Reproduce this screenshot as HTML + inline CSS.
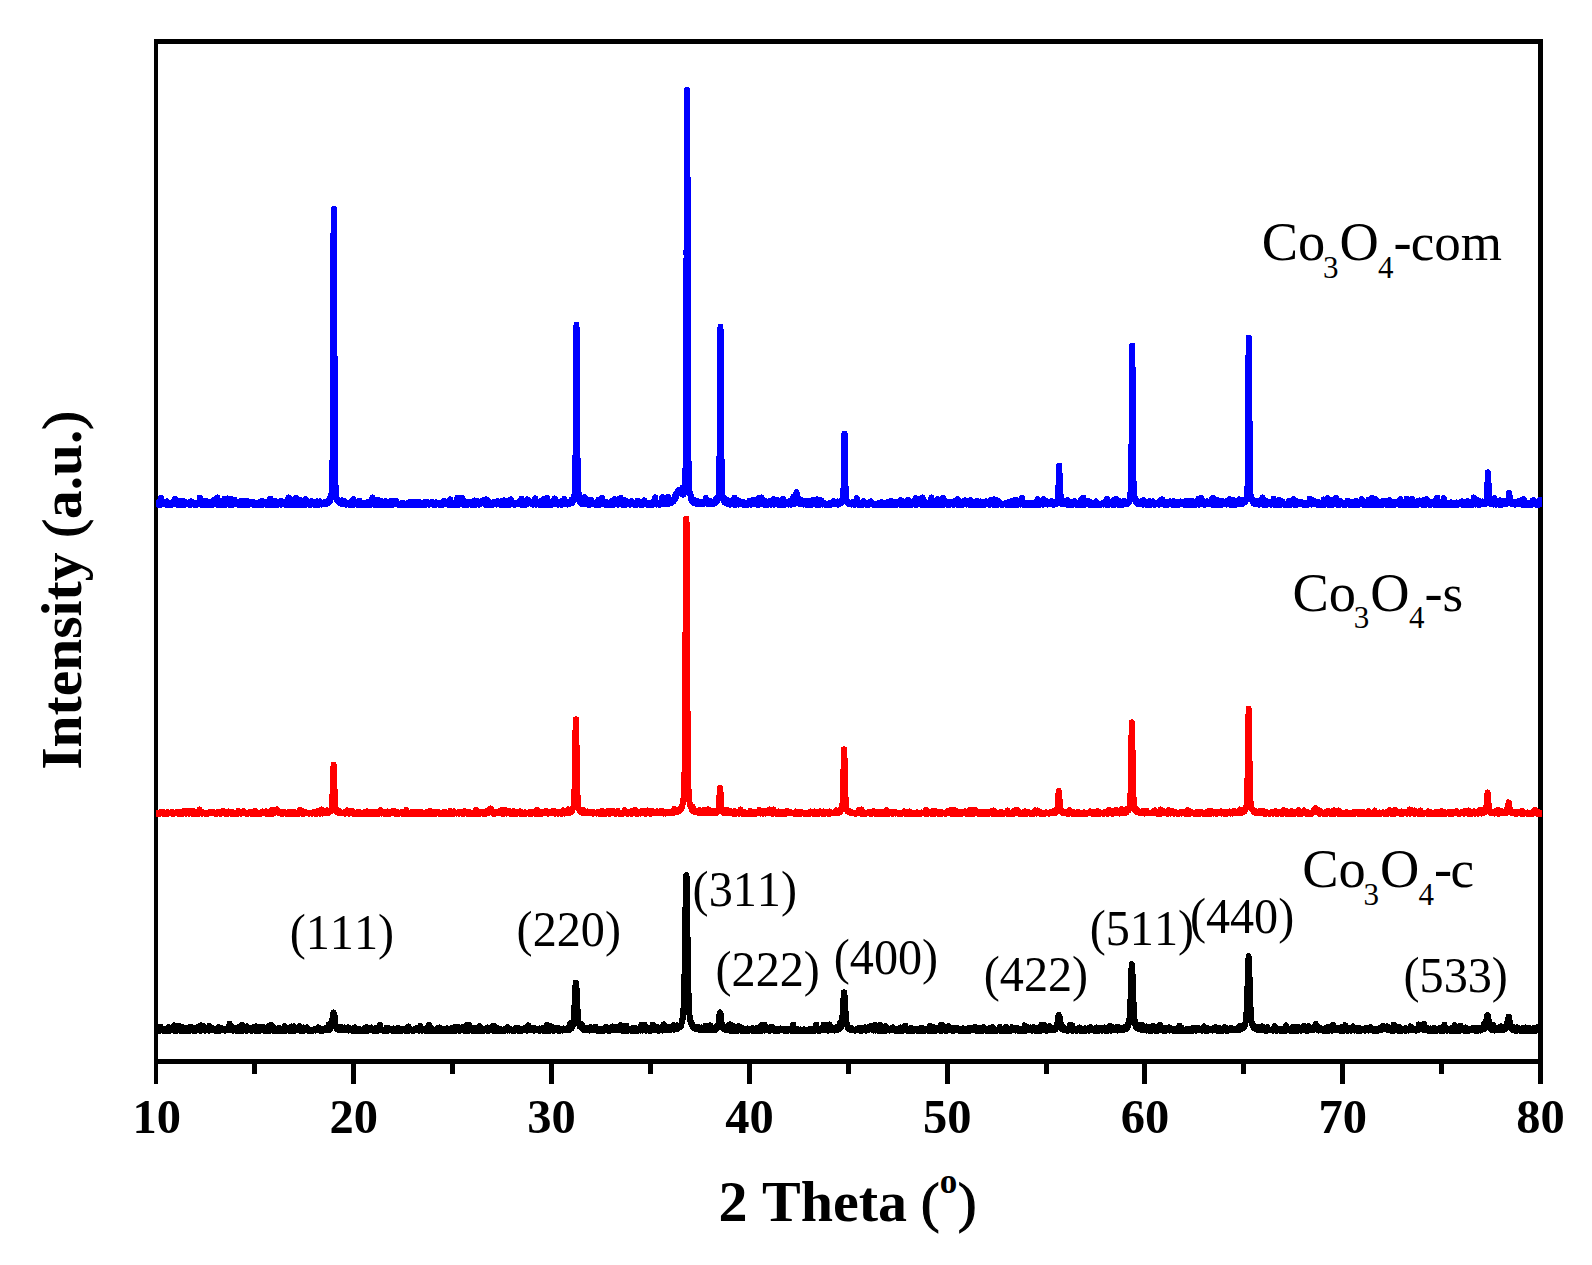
<!DOCTYPE html>
<html><head><meta charset="utf-8"><title>XRD</title><style>html,body{margin:0;padding:0;background:#fff}text{font-kerning:none}svg{display:block}</style></head><body>
<svg width="1592" height="1265" viewBox="0 0 1592 1265">
<rect width="1592" height="1265" fill="#fff"/>
<g fill="#000" shape-rendering="crispEdges">
<rect x="154" y="39" width="1389" height="5"/>
<rect x="154" y="1059" width="1389" height="5"/>
<rect x="154" y="39" width="4" height="1045"/>
<rect x="1538" y="39" width="5" height="1045"/>
<rect x="252" y="1064" width="5" height="10"/>
<rect x="351" y="1064" width="5" height="20"/>
<rect x="450" y="1064" width="5" height="10"/>
<rect x="549" y="1064" width="5" height="20"/>
<rect x="648" y="1064" width="5" height="10"/>
<rect x="747" y="1064" width="5" height="20"/>
<rect x="846" y="1064" width="5" height="10"/>
<rect x="945" y="1064" width="5" height="20"/>
<rect x="1044" y="1064" width="5" height="10"/>
<rect x="1142" y="1064" width="5" height="20"/>
<rect x="1241" y="1064" width="5" height="10"/>
<rect x="1340" y="1064" width="5" height="20"/>
<rect x="1439" y="1064" width="5" height="10"/>
</g>
<clipPath id="cp"><rect x="156" y="44" width="1386" height="1015"/></clipPath><g clip-path="url(#cp)">
<path d="M156.0,1030.8 156.4,1030.4 156.8,1029.1 157.2,1028.1 157.6,1030.5 158.0,1030.6 158.4,1030.4 158.8,1030.8 159.2,1029.6 159.6,1030.8 160.0,1030.3 160.4,1026.7 160.7,1030.6 161.1,1029.3 161.5,1030.3 161.9,1028.4 162.3,1029.8 162.7,1029.0 163.1,1030.5 163.5,1030.7 163.9,1030.9 164.3,1029.4 164.7,1029.8 165.1,1029.4 165.5,1030.1 165.9,1030.2 166.3,1030.2 166.7,1030.2 167.1,1030.8 167.5,1028.2 167.9,1029.1 168.3,1030.8 168.7,1029.1 169.1,1027.1 169.5,1030.6 169.8,1029.9 170.2,1030.7 170.6,1029.4 171.0,1028.2 171.4,1029.8 171.8,1029.2 172.2,1029.5 172.6,1030.0 173.0,1028.7 173.4,1030.4 173.8,1028.3 174.2,1025.3 174.6,1030.7 175.0,1027.9 175.4,1030.0 175.8,1030.3 176.2,1030.6 176.6,1027.0 177.0,1030.7 177.4,1029.1 177.8,1030.1 178.2,1027.8 178.5,1029.5 178.9,1025.6 179.3,1030.6 179.7,1030.7 180.1,1028.6 180.5,1030.3 180.9,1027.5 181.3,1029.5 181.7,1030.2 182.1,1026.7 182.5,1030.8 182.9,1029.5 183.3,1029.9 183.7,1030.8 184.1,1030.7 184.5,1030.7 184.9,1030.5 185.3,1030.5 185.7,1030.5 186.1,1030.2 186.5,1030.7 186.9,1027.9 187.3,1029.6 187.6,1028.8 188.0,1028.4 188.4,1030.8 188.8,1029.7 189.2,1029.7 189.6,1030.8 190.0,1026.7 190.4,1030.7 190.8,1029.7 191.2,1027.0 191.6,1030.4 192.0,1030.2 192.4,1028.9 192.8,1030.7 193.2,1030.0 193.6,1030.2 194.0,1029.1 194.4,1029.5 194.8,1029.9 195.2,1029.6 195.6,1030.8 196.0,1028.3 196.4,1030.1 196.7,1027.4 197.1,1029.5 197.5,1027.8 197.9,1027.2 198.3,1029.4 198.7,1030.3 199.1,1030.4 199.5,1030.2 199.9,1030.7 200.3,1028.3 200.7,1025.6 201.1,1030.7 201.5,1025.2 201.9,1029.5 202.3,1029.7 202.7,1028.8 203.1,1025.8 203.5,1029.4 203.9,1030.3 204.3,1029.9 204.7,1029.4 205.1,1029.1 205.4,1030.7 205.8,1030.5 206.2,1028.4 206.6,1030.1 207.0,1030.5 207.4,1030.4 207.8,1029.7 208.2,1028.9 208.6,1030.7 209.0,1030.6 209.4,1026.0 209.8,1030.1 210.2,1029.3 210.6,1030.0 211.0,1030.3 211.4,1027.6 211.8,1030.5 212.2,1030.5 212.6,1030.3 213.0,1029.0 213.4,1029.6 213.8,1028.8 214.2,1029.5 214.5,1030.7 214.9,1030.8 215.3,1028.6 215.7,1030.4 216.1,1029.3 216.5,1029.5 216.9,1030.6 217.3,1029.3 217.7,1030.5 218.1,1028.4 218.5,1027.2 218.9,1029.3 219.3,1030.8 219.7,1030.7 220.1,1029.9 220.5,1029.6 220.9,1030.1 221.3,1029.2 221.7,1028.2 222.1,1030.3 222.5,1029.3 222.9,1030.4 223.3,1029.5 223.6,1029.1 224.0,1029.7 224.4,1030.2 224.8,1029.9 225.2,1030.7 225.6,1028.7 226.0,1028.6 226.4,1029.9 226.8,1029.1 227.2,1030.5 227.6,1029.7 228.0,1027.1 228.4,1028.2 228.8,1027.5 229.2,1025.7 229.6,1023.7 230.0,1026.1 230.4,1028.2 230.8,1029.9 231.2,1029.2 231.6,1030.1 232.0,1026.4 232.4,1029.7 232.7,1028.1 233.1,1029.1 233.5,1030.7 233.9,1028.6 234.3,1028.7 234.7,1028.1 235.1,1029.4 235.5,1028.2 235.9,1029.8 236.3,1030.0 236.7,1030.7 237.1,1029.0 237.5,1028.3 237.9,1028.6 238.3,1030.5 238.7,1030.8 239.1,1027.1 239.5,1029.6 239.9,1029.5 240.3,1029.6 240.7,1029.8 241.1,1030.8 241.4,1028.6 241.8,1029.1 242.2,1024.6 242.6,1030.9 243.0,1029.2 243.4,1030.6 243.8,1030.2 244.2,1030.0 244.6,1030.3 245.0,1028.3 245.4,1029.7 245.8,1029.6 246.2,1030.6 246.6,1029.7 247.0,1026.3 247.4,1028.0 247.8,1030.6 248.2,1030.2 248.6,1028.4 249.0,1030.5 249.4,1030.3 249.8,1030.0 250.2,1030.2 250.5,1030.5 250.9,1027.9 251.3,1030.2 251.7,1029.4 252.1,1030.7 252.5,1027.6 252.9,1027.2 253.3,1028.6 253.7,1030.0 254.1,1030.2 254.5,1027.8 254.9,1030.5 255.3,1030.8 255.7,1030.9 256.1,1027.1 256.5,1026.4 256.9,1030.6 257.3,1030.5 257.7,1030.8 258.1,1029.1 258.5,1029.7 258.9,1027.2 259.3,1030.6 259.6,1030.5 260.0,1030.1 260.4,1029.4 260.8,1030.6 261.2,1026.8 261.6,1030.3 262.0,1029.3 262.4,1030.0 262.8,1030.2 263.2,1028.7 263.6,1029.5 264.0,1027.0 264.4,1030.8 264.8,1029.2 265.2,1030.1 265.6,1030.7 266.0,1030.4 266.4,1028.9 266.8,1029.4 267.2,1030.4 267.6,1029.8 268.0,1029.3 268.4,1030.4 268.7,1026.2 269.1,1030.9 269.5,1030.4 269.9,1029.4 270.3,1029.7 270.7,1029.9 271.1,1024.9 271.5,1029.3 271.9,1026.5 272.3,1029.3 272.7,1030.3 273.1,1030.7 273.5,1026.9 273.9,1029.9 274.3,1029.8 274.7,1030.4 275.1,1030.8 275.5,1030.0 275.9,1029.9 276.3,1030.4 276.7,1030.8 277.1,1029.2 277.4,1030.5 277.8,1028.2 278.2,1030.8 278.6,1029.3 279.0,1030.8 279.4,1028.0 279.8,1030.9 280.2,1030.4 280.6,1029.5 281.0,1030.4 281.4,1028.9 281.8,1030.8 282.2,1030.3 282.6,1029.3 283.0,1030.9 283.4,1030.2 283.8,1030.5 284.2,1030.5 284.6,1030.2 285.0,1026.1 285.4,1030.7 285.8,1030.2 286.2,1030.2 286.5,1030.4 286.9,1027.6 287.3,1030.1 287.7,1029.8 288.1,1030.0 288.5,1030.2 288.9,1030.0 289.3,1030.9 289.7,1030.2 290.1,1030.2 290.5,1030.7 290.9,1030.0 291.3,1030.7 291.7,1026.4 292.1,1029.9 292.5,1030.8 292.9,1030.7 293.3,1030.3 293.7,1029.7 294.1,1026.3 294.5,1027.7 294.9,1029.2 295.3,1030.7 295.6,1030.0 296.0,1029.7 296.4,1030.0 296.8,1029.2 297.2,1030.1 297.6,1028.0 298.0,1029.7 298.4,1030.1 298.8,1028.9 299.2,1030.4 299.6,1026.2 300.0,1030.6 300.4,1030.7 300.8,1029.8 301.2,1029.2 301.6,1030.3 302.0,1030.4 302.4,1027.8 302.8,1030.9 303.2,1030.7 303.6,1027.5 304.0,1028.1 304.3,1030.1 304.7,1030.5 305.1,1029.6 305.5,1029.1 305.9,1030.4 306.3,1029.2 306.7,1030.0 307.1,1027.4 307.5,1030.4 307.9,1030.8 308.3,1030.7 308.7,1030.5 309.1,1030.0 309.5,1030.2 309.9,1030.1 310.3,1030.5 310.7,1030.8 311.1,1030.5 311.5,1029.6 311.9,1030.6 312.3,1030.2 312.7,1030.4 313.1,1030.5 313.4,1029.8 313.8,1030.4 314.2,1029.9 314.6,1029.0 315.0,1029.3 315.4,1030.5 315.8,1030.2 316.2,1030.0 316.6,1028.4 317.0,1029.4 317.4,1028.6 317.8,1029.2 318.2,1027.4 318.6,1030.0 319.0,1030.0 319.4,1030.7 319.8,1030.7 320.2,1030.8 320.6,1030.7 321.0,1029.1 321.4,1030.6 321.8,1030.2 322.2,1029.8 322.5,1030.3 322.9,1030.7 323.3,1030.1 323.7,1028.9 324.1,1030.0 324.5,1029.9 324.9,1029.3 325.3,1029.0 325.7,1027.7 326.1,1030.5 326.5,1029.9 326.9,1029.7 327.3,1029.7 327.7,1028.7 328.1,1028.6 328.5,1028.4 328.9,1024.4 329.3,1030.0 329.7,1029.3 330.1,1029.6 330.5,1028.4 330.9,1024.3 331.3,1026.8 331.6,1025.7 332.0,1023.5 332.4,1018.9 332.8,1016.3 333.2,1013.5 333.6,1012.4 334.0,1013.5 334.4,1016.3 334.8,1016.5 335.2,1023.7 335.6,1025.3 336.0,1026.6 336.4,1027.0 336.8,1026.4 337.2,1029.6 337.6,1029.4 338.0,1029.7 338.4,1029.8 338.8,1029.8 339.2,1030.4 339.6,1030.2 340.0,1029.1 340.3,1030.3 340.7,1028.3 341.1,1026.6 341.5,1030.0 341.9,1030.2 342.3,1027.7 342.7,1030.2 343.1,1029.4 343.5,1030.3 343.9,1029.4 344.3,1027.9 344.7,1027.5 345.1,1028.7 345.5,1029.1 345.9,1029.6 346.3,1030.4 346.7,1030.4 347.1,1030.3 347.5,1030.2 347.9,1028.2 348.3,1030.6 348.7,1027.3 349.1,1030.5 349.4,1029.9 349.8,1028.7 350.2,1028.9 350.6,1030.4 351.0,1029.8 351.4,1029.0 351.8,1029.9 352.2,1029.1 352.6,1030.8 353.0,1030.6 353.4,1030.7 353.8,1030.8 354.2,1029.1 354.6,1027.3 355.0,1029.1 355.4,1030.6 355.8,1030.4 356.2,1028.8 356.6,1029.6 357.0,1030.8 357.4,1029.8 357.8,1028.8 358.2,1030.7 358.5,1029.9 358.9,1030.3 359.3,1030.6 359.7,1029.1 360.1,1030.2 360.5,1030.4 360.9,1030.7 361.3,1030.4 361.7,1030.9 362.1,1030.3 362.5,1030.3 362.9,1030.9 363.3,1029.4 363.7,1030.5 364.1,1030.9 364.5,1028.5 364.9,1029.6 365.3,1027.8 365.7,1028.6 366.1,1030.3 366.5,1030.9 366.9,1027.0 367.3,1030.7 367.6,1030.9 368.0,1029.3 368.4,1030.7 368.8,1029.1 369.2,1030.0 369.6,1029.8 370.0,1028.2 370.4,1028.8 370.8,1030.0 371.2,1027.4 371.6,1028.7 372.0,1030.6 372.4,1030.6 372.8,1030.2 373.2,1029.8 373.6,1030.8 374.0,1030.1 374.4,1030.2 374.8,1030.0 375.2,1030.5 375.6,1030.7 376.0,1027.9 376.3,1029.1 376.7,1029.7 377.1,1029.0 377.5,1030.3 377.9,1030.8 378.3,1029.2 378.7,1030.6 379.1,1030.5 379.5,1030.0 379.9,1024.6 380.3,1030.5 380.7,1030.0 381.1,1028.2 381.5,1029.2 381.9,1030.4 382.3,1030.6 382.7,1029.5 383.1,1030.8 383.5,1030.3 383.9,1030.7 384.3,1030.3 384.7,1030.3 385.1,1030.6 385.4,1030.8 385.8,1029.4 386.2,1028.6 386.6,1027.6 387.0,1030.5 387.4,1029.0 387.8,1030.6 388.2,1030.7 388.6,1028.3 389.0,1028.9 389.4,1029.1 389.8,1030.2 390.2,1029.4 390.6,1028.9 391.0,1029.0 391.4,1030.2 391.8,1030.6 392.2,1029.6 392.6,1030.7 393.0,1030.3 393.4,1030.5 393.8,1028.5 394.2,1030.9 394.5,1030.9 394.9,1030.0 395.3,1030.2 395.7,1030.0 396.1,1029.8 396.5,1029.4 396.9,1030.0 397.3,1030.8 397.7,1028.9 398.1,1028.1 398.5,1029.0 398.9,1028.1 399.3,1029.9 399.7,1030.9 400.1,1030.2 400.5,1030.5 400.9,1028.8 401.3,1030.4 401.7,1029.5 402.1,1030.8 402.5,1029.9 402.9,1030.3 403.2,1029.7 403.6,1030.4 404.0,1030.3 404.4,1029.2 404.8,1030.5 405.2,1030.9 405.6,1029.7 406.0,1029.2 406.4,1028.2 406.8,1028.7 407.2,1030.8 407.6,1030.7 408.0,1030.9 408.4,1026.5 408.8,1030.5 409.2,1030.5 409.6,1030.0 410.0,1028.8 410.4,1029.7 410.8,1030.4 411.2,1030.4 411.6,1030.6 412.0,1030.5 412.3,1030.0 412.7,1030.7 413.1,1030.4 413.5,1030.5 413.9,1029.6 414.3,1030.8 414.7,1029.7 415.1,1030.0 415.5,1028.8 415.9,1029.3 416.3,1028.1 416.7,1030.4 417.1,1030.4 417.5,1029.3 417.9,1030.3 418.3,1030.4 418.7,1030.7 419.1,1030.8 419.5,1029.4 419.9,1029.5 420.3,1026.0 420.7,1030.2 421.1,1027.7 421.4,1029.3 421.8,1030.2 422.2,1030.8 422.6,1030.5 423.0,1029.1 423.4,1030.4 423.8,1030.1 424.2,1030.3 424.6,1030.5 425.0,1030.6 425.4,1030.6 425.8,1028.5 426.2,1030.4 426.6,1030.7 427.0,1030.9 427.4,1030.2 427.8,1029.4 428.2,1029.8 428.6,1030.3 429.0,1024.6 429.4,1026.7 429.8,1030.7 430.2,1030.4 430.5,1030.8 430.9,1030.6 431.3,1028.1 431.7,1030.8 432.1,1029.9 432.5,1030.0 432.9,1030.3 433.3,1030.3 433.7,1030.2 434.1,1030.6 434.5,1029.9 434.9,1030.1 435.3,1030.5 435.7,1030.4 436.1,1030.8 436.5,1030.6 436.9,1030.8 437.3,1028.2 437.7,1030.3 438.1,1028.5 438.5,1030.6 438.9,1029.0 439.2,1029.5 439.6,1027.5 440.0,1030.8 440.4,1028.1 440.8,1030.5 441.2,1030.3 441.6,1030.3 442.0,1030.7 442.4,1029.8 442.8,1030.3 443.2,1029.0 443.6,1030.8 444.0,1030.2 444.4,1030.5 444.8,1030.8 445.2,1030.0 445.6,1030.4 446.0,1030.8 446.4,1029.3 446.8,1029.2 447.2,1028.3 447.6,1030.5 448.0,1030.4 448.3,1029.6 448.7,1029.4 449.1,1030.8 449.5,1030.6 449.9,1030.5 450.3,1029.8 450.7,1030.2 451.1,1030.2 451.5,1030.7 451.9,1027.9 452.3,1029.8 452.7,1030.0 453.1,1029.6 453.5,1030.9 453.9,1029.3 454.3,1028.5 454.7,1026.7 455.1,1028.7 455.5,1030.8 455.9,1029.5 456.3,1030.5 456.7,1030.3 457.1,1029.3 457.4,1030.4 457.8,1029.7 458.2,1030.5 458.6,1027.0 459.0,1028.3 459.4,1029.4 459.8,1029.2 460.2,1030.6 460.6,1030.0 461.0,1028.8 461.4,1030.0 461.8,1029.8 462.2,1028.1 462.6,1030.4 463.0,1030.4 463.4,1026.6 463.8,1030.5 464.2,1029.2 464.6,1030.8 465.0,1029.9 465.4,1030.6 465.8,1030.8 466.2,1028.9 466.5,1029.2 466.9,1028.8 467.3,1024.6 467.7,1030.5 468.1,1030.8 468.5,1025.7 468.9,1024.8 469.3,1029.1 469.7,1030.6 470.1,1029.5 470.5,1028.6 470.9,1030.2 471.3,1029.9 471.7,1029.0 472.1,1030.6 472.5,1030.4 472.9,1027.7 473.3,1028.2 473.7,1030.9 474.1,1030.0 474.5,1030.8 474.9,1030.0 475.2,1029.0 475.6,1027.9 476.0,1030.1 476.4,1028.8 476.8,1030.9 477.2,1029.5 477.6,1027.4 478.0,1030.2 478.4,1028.5 478.8,1029.8 479.2,1030.3 479.6,1030.7 480.0,1026.1 480.4,1030.9 480.8,1030.6 481.2,1030.6 481.6,1030.4 482.0,1030.8 482.4,1029.4 482.8,1030.5 483.2,1030.6 483.6,1029.6 484.0,1029.4 484.3,1030.5 484.7,1030.1 485.1,1029.5 485.5,1030.0 485.9,1030.0 486.3,1029.8 486.7,1030.4 487.1,1028.8 487.5,1027.5 487.9,1030.2 488.3,1030.7 488.7,1029.1 489.1,1029.7 489.5,1028.3 489.9,1030.5 490.3,1029.9 490.7,1027.5 491.1,1029.8 491.5,1029.5 491.9,1026.3 492.3,1030.4 492.7,1029.9 493.1,1030.0 493.4,1030.8 493.8,1028.5 494.2,1029.8 494.6,1029.6 495.0,1026.0 495.4,1029.4 495.8,1028.4 496.2,1030.7 496.6,1028.7 497.0,1027.6 497.4,1029.7 497.8,1030.5 498.2,1028.2 498.6,1030.2 499.0,1030.6 499.4,1030.1 499.8,1030.7 500.2,1030.5 500.6,1030.8 501.0,1029.6 501.4,1029.6 501.8,1029.4 502.1,1029.4 502.5,1030.5 502.9,1029.8 503.3,1030.8 503.7,1029.3 504.1,1030.4 504.5,1030.7 504.9,1030.2 505.3,1030.4 505.7,1029.9 506.1,1029.0 506.5,1029.8 506.9,1029.9 507.3,1027.1 507.7,1030.5 508.1,1028.2 508.5,1030.1 508.9,1028.8 509.3,1029.6 509.7,1030.6 510.1,1030.4 510.5,1029.8 510.9,1030.4 511.2,1029.4 511.6,1030.5 512.0,1030.0 512.4,1030.8 512.8,1030.8 513.2,1030.6 513.6,1030.8 514.0,1029.4 514.4,1030.3 514.8,1030.0 515.2,1028.9 515.6,1030.7 516.0,1028.0 516.4,1028.6 516.8,1028.7 517.2,1029.2 517.6,1030.7 518.0,1029.9 518.4,1029.8 518.8,1028.2 519.2,1030.8 519.6,1029.9 520.0,1029.0 520.3,1029.6 520.7,1030.7 521.1,1030.3 521.5,1030.8 521.9,1029.4 522.3,1030.8 522.7,1029.9 523.1,1030.4 523.5,1030.0 523.9,1028.4 524.3,1030.3 524.7,1030.1 525.1,1029.6 525.5,1029.5 525.9,1028.5 526.3,1030.6 526.7,1027.8 527.1,1030.4 527.5,1030.6 527.9,1030.2 528.3,1025.2 528.7,1030.2 529.1,1028.9 529.4,1030.3 529.8,1029.1 530.2,1029.6 530.6,1027.7 531.0,1029.2 531.4,1028.8 531.8,1029.6 532.2,1028.7 532.6,1029.2 533.0,1028.3 533.4,1030.4 533.8,1030.6 534.2,1029.9 534.6,1030.4 535.0,1028.4 535.4,1029.3 535.8,1030.3 536.2,1029.2 536.6,1030.3 537.0,1030.4 537.4,1029.5 537.8,1028.8 538.1,1029.9 538.5,1030.6 538.9,1029.2 539.3,1030.5 539.7,1028.5 540.1,1030.6 540.5,1028.7 540.9,1030.2 541.3,1030.2 541.7,1029.9 542.1,1029.9 542.5,1028.6 542.9,1030.5 543.3,1027.7 543.7,1029.8 544.1,1030.0 544.5,1030.1 544.9,1030.8 545.3,1030.6 545.7,1030.2 546.1,1027.2 546.5,1027.9 546.9,1024.6 547.2,1030.8 547.6,1030.7 548.0,1030.7 548.4,1025.7 548.8,1029.6 549.2,1030.0 549.6,1030.7 550.0,1027.7 550.4,1030.5 550.8,1029.1 551.2,1029.6 551.6,1026.4 552.0,1030.4 552.4,1030.3 552.8,1030.2 553.2,1030.0 553.6,1029.9 554.0,1030.8 554.4,1027.9 554.8,1029.1 555.2,1029.0 555.6,1027.9 556.0,1028.3 556.3,1029.7 556.7,1027.7 557.1,1030.0 557.5,1028.1 557.9,1030.7 558.3,1030.7 558.7,1030.6 559.1,1028.4 559.5,1029.0 559.9,1030.7 560.3,1030.1 560.7,1028.6 561.1,1029.9 561.5,1028.6 561.9,1030.4 562.3,1030.6 562.7,1030.1 563.1,1030.4 563.5,1029.2 563.9,1028.6 564.3,1030.3 564.7,1030.4 565.1,1030.3 565.4,1030.3 565.8,1028.8 566.2,1030.1 566.6,1030.1 567.0,1029.8 567.4,1030.0 567.8,1029.4 568.2,1027.8 568.6,1028.3 569.0,1027.9 569.4,1028.3 569.8,1029.7 570.2,1023.3 570.6,1028.7 571.0,1027.3 571.4,1028.6 571.8,1027.4 572.2,1027.3 572.6,1025.9 573.0,1024.5 573.4,1023.2 573.8,1018.9 574.1,1013.0 574.5,1005.7 574.9,996.9 575.3,988.3 575.7,982.5 576.1,982.5 576.5,988.3 576.9,996.9 577.3,1005.7 577.7,1013.0 578.1,1019.4 578.5,1023.0 578.9,1024.7 579.3,1024.3 579.7,1026.7 580.1,1025.7 580.5,1025.5 580.9,1027.6 581.3,1026.8 581.7,1024.1 582.1,1028.5 582.5,1027.0 582.9,1029.6 583.2,1029.9 583.6,1029.8 584.0,1027.9 584.4,1030.1 584.8,1030.3 585.2,1029.8 585.6,1028.8 586.0,1030.0 586.4,1030.0 586.8,1028.9 587.2,1028.4 587.6,1028.3 588.0,1027.8 588.4,1029.2 588.8,1028.7 589.2,1030.1 589.6,1030.4 590.0,1029.7 590.4,1028.8 590.8,1027.2 591.2,1028.6 591.6,1030.3 592.0,1029.9 592.3,1028.9 592.7,1028.5 593.1,1030.3 593.5,1029.7 593.9,1028.5 594.3,1028.8 594.7,1027.4 595.1,1029.8 595.5,1026.6 595.9,1029.5 596.3,1029.7 596.7,1029.4 597.1,1030.7 597.5,1030.5 597.9,1028.9 598.3,1029.1 598.7,1029.1 599.1,1029.4 599.5,1030.7 599.9,1029.5 600.3,1030.6 600.7,1029.9 601.0,1029.7 601.4,1030.7 601.8,1028.7 602.2,1030.5 602.6,1030.2 603.0,1030.0 603.4,1030.7 603.8,1030.6 604.2,1030.4 604.6,1030.5 605.0,1029.6 605.4,1027.1 605.8,1030.5 606.2,1029.6 606.6,1029.2 607.0,1029.5 607.4,1030.6 607.8,1027.5 608.2,1030.7 608.6,1029.2 609.0,1027.9 609.4,1030.4 609.8,1029.1 610.1,1030.7 610.5,1029.1 610.9,1030.2 611.3,1030.5 611.7,1030.4 612.1,1028.1 612.5,1026.5 612.9,1027.8 613.3,1029.8 613.7,1029.3 614.1,1029.4 614.5,1030.1 614.9,1029.4 615.3,1030.2 615.7,1029.2 616.1,1027.5 616.5,1026.7 616.9,1027.9 617.3,1027.4 617.7,1027.9 618.1,1029.6 618.5,1030.0 618.9,1030.3 619.2,1028.9 619.6,1028.5 620.0,1029.9 620.4,1029.5 620.8,1025.3 621.2,1030.1 621.6,1029.2 622.0,1028.6 622.4,1030.7 622.8,1025.8 623.2,1030.6 623.6,1030.5 624.0,1030.6 624.4,1028.3 624.8,1029.3 625.2,1029.3 625.6,1030.7 626.0,1030.3 626.4,1025.7 626.8,1029.0 627.2,1030.5 627.6,1030.4 628.0,1030.7 628.3,1030.2 628.7,1030.4 629.1,1030.5 629.5,1029.7 629.9,1029.7 630.3,1029.1 630.7,1030.7 631.1,1030.8 631.5,1030.6 631.9,1030.4 632.3,1028.2 632.7,1030.4 633.1,1030.7 633.5,1028.4 633.9,1030.7 634.3,1030.2 634.7,1027.8 635.1,1030.3 635.5,1030.7 635.9,1030.8 636.3,1030.4 636.7,1030.0 637.0,1030.2 637.4,1030.7 637.8,1030.5 638.2,1028.5 638.6,1029.1 639.0,1030.5 639.4,1028.9 639.8,1028.1 640.2,1030.6 640.6,1030.5 641.0,1030.1 641.4,1024.6 641.8,1029.5 642.2,1028.1 642.6,1030.6 643.0,1030.5 643.4,1029.8 643.8,1028.4 644.2,1030.0 644.6,1024.8 645.0,1029.8 645.4,1030.6 645.8,1030.7 646.1,1030.1 646.5,1028.8 646.9,1028.1 647.3,1030.2 647.7,1030.3 648.1,1030.1 648.5,1030.2 648.9,1030.7 649.3,1029.2 649.7,1028.0 650.1,1030.6 650.5,1029.8 650.9,1030.7 651.3,1030.5 651.7,1028.4 652.1,1030.2 652.5,1030.0 652.9,1024.5 653.3,1029.8 653.7,1030.3 654.1,1029.1 654.5,1029.5 654.9,1026.7 655.2,1030.1 655.6,1029.5 656.0,1028.2 656.4,1029.1 656.8,1029.8 657.2,1027.1 657.6,1027.1 658.0,1030.4 658.4,1030.7 658.8,1029.5 659.2,1030.6 659.6,1028.1 660.0,1029.4 660.4,1027.7 660.8,1029.3 661.2,1027.1 661.6,1029.4 662.0,1028.7 662.4,1029.7 662.8,1030.5 663.2,1029.8 663.6,1030.1 664.0,1024.3 664.3,1029.3 664.7,1029.6 665.1,1030.1 665.5,1029.9 665.9,1030.0 666.3,1027.5 666.7,1028.3 667.1,1026.5 667.5,1030.2 667.9,1029.4 668.3,1028.6 668.7,1027.5 669.1,1029.9 669.5,1029.3 669.9,1030.2 670.3,1029.8 670.7,1028.9 671.1,1027.0 671.5,1029.7 671.9,1029.2 672.3,1029.3 672.7,1028.8 673.0,1029.0 673.4,1029.3 673.8,1025.3 674.2,1029.7 674.6,1029.0 675.0,1029.4 675.4,1027.9 675.8,1029.3 676.2,1027.5 676.6,1025.3 677.0,1025.8 677.4,1028.6 677.8,1028.7 678.2,1027.8 678.6,1025.6 679.0,1027.1 679.4,1026.8 679.8,1027.4 680.2,1025.7 680.6,1026.3 681.0,1025.9 681.4,1025.1 681.8,1020.1 682.1,1022.1 682.5,1020.3 682.9,1016.9 683.3,1012.3 683.7,1004.8 684.1,992.8 684.5,975.0 684.9,951.1 685.3,922.4 685.7,894.1 686.1,875.2 686.5,875.2 686.9,894.1 687.3,922.4 687.7,951.1 688.1,975.0 688.5,992.8 688.9,1004.8 689.3,1012.3 689.7,1016.9 690.1,1020.6 690.5,1020.9 690.9,1022.0 691.2,1024.3 691.6,1022.7 692.0,1025.5 692.4,1024.6 692.8,1027.3 693.2,1026.6 693.6,1027.2 694.0,1027.7 694.4,1028.4 694.8,1028.4 695.2,1028.8 695.6,1028.4 696.0,1026.6 696.4,1028.2 696.8,1029.2 697.2,1029.3 697.6,1029.4 698.0,1029.5 698.4,1027.1 698.8,1029.8 699.2,1029.9 699.6,1029.7 699.9,1029.7 700.3,1029.8 700.7,1030.0 701.1,1029.8 701.5,1027.3 701.9,1029.5 702.3,1028.2 702.7,1029.5 703.1,1028.3 703.5,1029.7 703.9,1030.3 704.3,1028.2 704.7,1030.1 705.1,1030.3 705.5,1025.9 705.9,1029.6 706.3,1026.0 706.7,1028.3 707.1,1029.5 707.5,1028.7 707.9,1028.9 708.3,1030.5 708.7,1028.6 709.0,1029.5 709.4,1030.2 709.8,1030.1 710.2,1030.0 710.6,1025.3 711.0,1030.4 711.4,1030.1 711.8,1028.3 712.2,1029.7 712.6,1030.0 713.0,1030.0 713.4,1030.1 713.8,1028.4 714.2,1029.9 714.6,1030.1 715.0,1027.7 715.4,1030.0 715.8,1029.9 716.2,1026.3 716.6,1028.4 717.0,1026.8 717.4,1028.1 717.8,1025.9 718.1,1025.1 718.5,1023.2 718.9,1019.8 719.3,1016.1 719.7,1013.4 720.1,1012.3 720.5,1013.4 720.9,1016.1 721.3,1020.4 721.7,1023.0 722.1,1024.3 722.5,1026.9 722.9,1027.9 723.3,1027.2 723.7,1028.8 724.1,1029.3 724.5,1027.2 724.9,1028.7 725.3,1028.1 725.7,1027.7 726.1,1030.3 726.5,1027.4 726.9,1029.3 727.2,1030.3 727.6,1030.4 728.0,1029.8 728.4,1025.3 728.8,1030.2 729.2,1030.0 729.6,1030.4 730.0,1024.4 730.4,1024.4 730.8,1030.7 731.2,1028.4 731.6,1027.8 732.0,1030.7 732.4,1030.3 732.8,1028.3 733.2,1025.7 733.6,1029.2 734.0,1029.9 734.4,1030.7 734.8,1030.3 735.2,1029.2 735.6,1030.6 735.9,1029.2 736.3,1029.3 736.7,1030.3 737.1,1030.4 737.5,1030.3 737.9,1030.8 738.3,1028.2 738.7,1026.0 739.1,1029.4 739.5,1030.1 739.9,1030.0 740.3,1030.4 740.7,1027.0 741.1,1030.1 741.5,1030.7 741.9,1030.5 742.3,1028.2 742.7,1030.8 743.1,1030.4 743.5,1028.4 743.9,1030.7 744.3,1030.2 744.7,1030.6 745.0,1029.8 745.4,1029.1 745.8,1030.6 746.2,1029.1 746.6,1030.2 747.0,1028.6 747.4,1030.7 747.8,1028.5 748.2,1030.7 748.6,1029.2 749.0,1029.2 749.4,1030.7 749.8,1029.8 750.2,1030.3 750.6,1030.1 751.0,1030.4 751.4,1029.1 751.8,1028.4 752.2,1030.8 752.6,1030.8 753.0,1028.9 753.4,1030.6 753.8,1028.4 754.1,1030.0 754.5,1029.8 754.9,1030.1 755.3,1030.8 755.7,1029.0 756.1,1030.5 756.5,1028.1 756.9,1030.8 757.3,1030.8 757.7,1029.7 758.1,1029.9 758.5,1030.6 758.9,1030.0 759.3,1029.5 759.7,1030.2 760.1,1030.7 760.5,1030.6 760.9,1030.6 761.3,1025.1 761.7,1027.5 762.1,1029.7 762.5,1030.6 762.9,1029.9 763.2,1029.1 763.6,1026.6 764.0,1030.4 764.4,1030.5 764.8,1024.6 765.2,1029.6 765.6,1028.2 766.0,1030.5 766.4,1028.8 766.8,1030.3 767.2,1029.3 767.6,1027.5 768.0,1029.0 768.4,1030.3 768.8,1030.6 769.2,1030.2 769.6,1030.6 770.0,1030.5 770.4,1029.0 770.8,1030.5 771.2,1026.5 771.6,1030.0 771.9,1026.7 772.3,1030.4 772.7,1030.4 773.1,1029.6 773.5,1030.1 773.9,1030.5 774.3,1028.5 774.7,1030.0 775.1,1029.3 775.5,1030.8 775.9,1029.3 776.3,1030.1 776.7,1030.2 777.1,1030.3 777.5,1029.5 777.9,1030.7 778.3,1030.1 778.7,1029.2 779.1,1030.6 779.5,1030.2 779.9,1028.8 780.3,1029.8 780.7,1029.5 781.0,1028.5 781.4,1028.7 781.8,1030.3 782.2,1030.1 782.6,1029.9 783.0,1030.0 783.4,1029.2 783.8,1030.7 784.2,1030.6 784.6,1030.7 785.0,1030.3 785.4,1030.6 785.8,1029.5 786.2,1030.9 786.6,1030.0 787.0,1029.9 787.4,1030.9 787.8,1028.8 788.2,1029.1 788.6,1028.7 789.0,1030.2 789.4,1029.3 789.8,1030.4 790.1,1030.5 790.5,1030.3 790.9,1030.2 791.3,1029.7 791.7,1030.8 792.1,1030.6 792.5,1028.5 792.9,1030.8 793.3,1024.6 793.7,1030.8 794.1,1030.7 794.5,1030.6 794.9,1030.4 795.3,1029.9 795.7,1029.7 796.1,1030.8 796.5,1029.3 796.9,1029.0 797.3,1029.4 797.7,1030.9 798.1,1030.8 798.5,1030.0 798.8,1029.7 799.2,1030.8 799.6,1030.7 800.0,1030.6 800.4,1030.4 800.8,1029.6 801.2,1030.3 801.6,1030.8 802.0,1029.8 802.4,1029.9 802.8,1030.8 803.2,1030.8 803.6,1030.7 804.0,1029.2 804.4,1030.8 804.8,1030.4 805.2,1029.7 805.6,1030.7 806.0,1030.5 806.4,1029.9 806.8,1030.8 807.2,1030.7 807.6,1029.8 807.9,1030.7 808.3,1030.6 808.7,1030.8 809.1,1029.7 809.5,1029.2 809.9,1029.2 810.3,1030.8 810.7,1030.8 811.1,1030.3 811.5,1030.2 811.9,1030.7 812.3,1030.4 812.7,1028.7 813.1,1030.8 813.5,1030.2 813.9,1029.9 814.3,1029.1 814.7,1030.1 815.1,1030.6 815.5,1030.1 815.9,1028.8 816.3,1024.6 816.7,1029.6 817.0,1027.9 817.4,1030.5 817.8,1030.3 818.2,1030.8 818.6,1029.7 819.0,1030.1 819.4,1029.7 819.8,1030.8 820.2,1029.3 820.6,1028.4 821.0,1030.5 821.4,1028.4 821.8,1030.2 822.2,1030.0 822.6,1028.2 823.0,1027.9 823.4,1030.2 823.8,1024.6 824.2,1030.3 824.6,1030.3 825.0,1030.0 825.4,1030.3 825.8,1027.6 826.1,1027.7 826.5,1028.2 826.9,1024.5 827.3,1030.4 827.7,1030.0 828.1,1030.7 828.5,1030.6 828.9,1030.5 829.3,1026.5 829.7,1024.5 830.1,1027.8 830.5,1029.9 830.9,1029.8 831.3,1028.1 831.7,1029.0 832.1,1029.1 832.5,1030.4 832.9,1028.3 833.3,1028.8 833.7,1030.0 834.1,1030.4 834.5,1030.0 834.8,1030.4 835.2,1028.9 835.6,1029.8 836.0,1029.4 836.4,1027.0 836.8,1030.2 837.2,1028.8 837.6,1029.8 838.0,1027.9 838.4,1029.6 838.8,1026.1 839.2,1027.3 839.6,1027.5 840.0,1022.7 840.4,1027.9 840.8,1027.7 841.2,1025.9 841.6,1023.4 842.0,1017.5 842.4,1016.5 842.8,1010.7 843.2,1003.8 843.6,996.9 843.9,992.4 844.3,992.4 844.7,996.9 845.1,1003.8 845.5,1010.7 845.9,1016.5 846.3,1020.5 846.7,1023.3 847.1,1025.6 847.5,1025.6 847.9,1028.3 848.3,1028.4 848.7,1029.1 849.1,1027.1 849.5,1029.5 849.9,1029.2 850.3,1027.6 850.7,1029.7 851.1,1027.5 851.5,1030.2 851.9,1029.5 852.3,1030.3 852.7,1030.1 853.0,1029.6 853.4,1030.2 853.8,1030.3 854.2,1030.4 854.6,1030.2 855.0,1030.6 855.4,1029.4 855.8,1029.3 856.2,1030.4 856.6,1029.2 857.0,1030.3 857.4,1030.2 857.8,1029.1 858.2,1030.2 858.6,1028.2 859.0,1029.5 859.4,1028.6 859.8,1030.5 860.2,1029.7 860.6,1029.8 861.0,1030.5 861.4,1029.2 861.8,1028.1 862.1,1030.7 862.5,1029.7 862.9,1029.9 863.3,1028.8 863.7,1029.2 864.1,1028.4 864.5,1030.2 864.9,1027.3 865.3,1030.0 865.7,1028.3 866.1,1030.6 866.5,1028.6 866.9,1029.7 867.3,1030.2 867.7,1030.4 868.1,1030.2 868.5,1029.7 868.9,1026.9 869.3,1027.0 869.7,1028.3 870.1,1026.1 870.5,1026.6 870.8,1026.5 871.2,1027.8 871.6,1029.1 872.0,1027.8 872.4,1029.2 872.8,1030.1 873.2,1027.6 873.6,1030.6 874.0,1029.6 874.4,1030.3 874.8,1024.9 875.2,1026.1 875.6,1030.6 876.0,1030.3 876.4,1029.5 876.8,1026.4 877.2,1030.4 877.6,1029.9 878.0,1030.5 878.4,1029.5 878.8,1029.9 879.2,1030.8 879.6,1030.8 879.9,1024.6 880.3,1029.7 880.7,1027.7 881.1,1030.1 881.5,1030.8 881.9,1028.2 882.3,1027.8 882.7,1030.7 883.1,1028.5 883.5,1029.0 883.9,1030.7 884.3,1030.3 884.7,1030.7 885.1,1030.6 885.5,1030.7 885.9,1026.1 886.3,1029.4 886.7,1029.3 887.1,1030.1 887.5,1029.9 887.9,1028.7 888.3,1030.4 888.7,1029.5 889.0,1030.6 889.4,1030.6 889.8,1030.3 890.2,1029.8 890.6,1030.1 891.0,1029.6 891.4,1030.4 891.8,1028.8 892.2,1027.9 892.6,1030.0 893.0,1027.2 893.4,1028.8 893.8,1028.9 894.2,1028.3 894.6,1029.5 895.0,1030.5 895.4,1030.1 895.8,1030.8 896.2,1029.9 896.6,1030.0 897.0,1029.0 897.4,1029.8 897.7,1030.8 898.1,1029.9 898.5,1030.6 898.9,1030.6 899.3,1029.6 899.7,1030.9 900.1,1030.4 900.5,1027.4 900.9,1028.8 901.3,1030.8 901.7,1029.5 902.1,1030.8 902.5,1030.6 902.9,1030.2 903.3,1030.6 903.7,1030.2 904.1,1030.4 904.5,1029.7 904.9,1029.4 905.3,1025.5 905.7,1029.9 906.1,1029.8 906.5,1029.2 906.8,1030.3 907.2,1030.8 907.6,1030.8 908.0,1029.0 908.4,1029.7 908.8,1029.2 909.2,1030.6 909.6,1028.8 910.0,1029.8 910.4,1030.7 910.8,1030.7 911.2,1027.8 911.6,1030.5 912.0,1030.2 912.4,1030.8 912.8,1029.9 913.2,1030.9 913.6,1030.3 914.0,1029.1 914.4,1028.7 914.8,1030.6 915.2,1030.2 915.6,1029.8 915.9,1029.5 916.3,1029.1 916.7,1030.3 917.1,1029.9 917.5,1030.8 917.9,1030.7 918.3,1029.2 918.7,1030.2 919.1,1029.5 919.5,1029.2 919.9,1029.1 920.3,1030.7 920.7,1029.4 921.1,1027.6 921.5,1030.5 921.9,1030.4 922.3,1030.5 922.7,1030.7 923.1,1028.2 923.5,1030.7 923.9,1030.4 924.3,1030.2 924.7,1030.6 925.0,1030.0 925.4,1030.4 925.8,1030.4 926.2,1030.3 926.6,1029.0 927.0,1030.3 927.4,1029.1 927.8,1030.7 928.2,1029.7 928.6,1030.3 929.0,1030.4 929.4,1026.9 929.8,1030.6 930.2,1025.9 930.6,1030.2 931.0,1030.7 931.4,1030.6 931.8,1029.9 932.2,1030.5 932.6,1029.4 933.0,1030.9 933.4,1030.7 933.7,1027.2 934.1,1030.7 934.5,1028.6 934.9,1029.7 935.3,1029.8 935.7,1030.2 936.1,1027.5 936.5,1030.8 936.9,1028.9 937.3,1030.2 937.7,1030.2 938.1,1028.5 938.5,1030.4 938.9,1028.9 939.3,1028.9 939.7,1029.4 940.1,1030.4 940.5,1030.7 940.9,1030.8 941.3,1024.6 941.7,1030.8 942.1,1029.8 942.5,1029.4 942.8,1030.5 943.2,1030.3 943.6,1027.2 944.0,1026.1 944.4,1030.4 944.8,1030.7 945.2,1030.2 945.6,1030.4 946.0,1030.4 946.4,1030.7 946.8,1029.7 947.2,1030.5 947.6,1028.5 948.0,1030.2 948.4,1027.1 948.8,1026.3 949.2,1028.6 949.6,1028.3 950.0,1030.3 950.4,1030.4 950.8,1029.7 951.2,1029.4 951.6,1030.3 951.9,1030.4 952.3,1030.8 952.7,1030.7 953.1,1030.3 953.5,1030.8 953.9,1027.8 954.3,1029.0 954.7,1030.5 955.1,1030.0 955.5,1028.7 955.9,1030.4 956.3,1030.4 956.7,1028.7 957.1,1029.4 957.5,1027.8 957.9,1029.4 958.3,1030.0 958.7,1029.4 959.1,1030.7 959.5,1028.9 959.9,1030.7 960.3,1030.0 960.7,1029.4 961.0,1029.2 961.4,1030.8 961.8,1030.3 962.2,1029.9 962.6,1030.7 963.0,1028.2 963.4,1030.7 963.8,1030.3 964.2,1029.2 964.6,1030.5 965.0,1030.2 965.4,1030.9 965.8,1029.3 966.2,1030.2 966.6,1030.8 967.0,1030.8 967.4,1030.0 967.8,1030.9 968.2,1030.4 968.6,1029.6 969.0,1028.6 969.4,1027.8 969.7,1030.4 970.1,1030.6 970.5,1030.7 970.9,1030.7 971.3,1028.1 971.7,1028.0 972.1,1028.9 972.5,1030.0 972.9,1029.7 973.3,1030.3 973.7,1028.4 974.1,1030.2 974.5,1030.4 974.9,1026.8 975.3,1030.0 975.7,1030.2 976.1,1030.8 976.5,1029.3 976.9,1029.0 977.3,1029.3 977.7,1028.3 978.1,1030.9 978.5,1028.6 978.8,1030.3 979.2,1030.8 979.6,1030.1 980.0,1029.4 980.4,1027.8 980.8,1029.1 981.2,1030.8 981.6,1029.9 982.0,1028.3 982.4,1030.3 982.8,1030.6 983.2,1030.0 983.6,1026.9 984.0,1028.2 984.4,1029.3 984.8,1028.9 985.2,1030.4 985.6,1029.8 986.0,1030.8 986.4,1030.1 986.8,1029.5 987.2,1029.5 987.6,1029.6 987.9,1030.5 988.3,1030.6 988.7,1030.8 989.1,1028.5 989.5,1030.9 989.9,1027.6 990.3,1030.8 990.7,1030.4 991.1,1030.6 991.5,1030.4 991.9,1030.9 992.3,1027.7 992.7,1027.2 993.1,1030.6 993.5,1030.8 993.9,1029.9 994.3,1030.3 994.7,1029.5 995.1,1030.4 995.5,1030.0 995.9,1030.8 996.3,1030.6 996.6,1030.8 997.0,1030.2 997.4,1030.5 997.8,1029.9 998.2,1029.8 998.6,1029.9 999.0,1029.3 999.4,1029.6 999.8,1026.8 1000.2,1030.6 1000.6,1028.9 1001.0,1029.7 1001.4,1030.6 1001.8,1029.6 1002.2,1030.6 1002.6,1030.7 1003.0,1030.5 1003.4,1030.4 1003.8,1029.0 1004.2,1028.5 1004.6,1030.9 1005.0,1029.1 1005.4,1027.1 1005.7,1029.4 1006.1,1026.7 1006.5,1028.8 1006.9,1030.8 1007.3,1030.8 1007.7,1029.8 1008.1,1029.5 1008.5,1030.6 1008.9,1030.0 1009.3,1030.4 1009.7,1030.8 1010.1,1030.1 1010.5,1029.9 1010.9,1029.5 1011.3,1029.2 1011.7,1030.6 1012.1,1027.2 1012.5,1028.5 1012.9,1028.1 1013.3,1029.4 1013.7,1029.7 1014.1,1029.9 1014.5,1029.5 1014.8,1029.9 1015.2,1030.5 1015.6,1030.3 1016.0,1030.2 1016.4,1027.8 1016.8,1029.6 1017.2,1027.8 1017.6,1030.3 1018.0,1030.7 1018.4,1030.9 1018.8,1030.7 1019.2,1029.6 1019.6,1030.9 1020.0,1029.3 1020.4,1029.6 1020.8,1030.3 1021.2,1030.5 1021.6,1029.2 1022.0,1029.4 1022.4,1030.9 1022.8,1028.8 1023.2,1030.3 1023.6,1030.7 1023.9,1027.6 1024.3,1029.2 1024.7,1025.3 1025.1,1030.6 1025.5,1030.7 1025.9,1030.5 1026.3,1030.7 1026.7,1030.5 1027.1,1028.4 1027.5,1029.0 1027.9,1027.3 1028.3,1029.3 1028.7,1029.7 1029.1,1029.7 1029.5,1030.3 1029.9,1029.9 1030.3,1027.5 1030.7,1030.4 1031.1,1029.2 1031.5,1030.4 1031.9,1030.8 1032.3,1029.5 1032.6,1030.4 1033.0,1029.6 1033.4,1027.1 1033.8,1030.5 1034.2,1029.0 1034.6,1028.3 1035.0,1029.7 1035.4,1030.6 1035.8,1028.2 1036.2,1030.4 1036.6,1029.4 1037.0,1030.6 1037.4,1030.0 1037.8,1028.5 1038.2,1030.8 1038.6,1030.5 1039.0,1029.6 1039.4,1030.3 1039.8,1029.7 1040.2,1030.7 1040.6,1029.8 1041.0,1030.4 1041.4,1025.0 1041.7,1030.6 1042.1,1030.1 1042.5,1030.2 1042.9,1027.5 1043.3,1029.1 1043.7,1030.4 1044.1,1024.6 1044.5,1029.4 1044.9,1029.1 1045.3,1028.4 1045.7,1029.6 1046.1,1030.7 1046.5,1030.3 1046.9,1028.3 1047.3,1029.5 1047.7,1030.6 1048.1,1028.8 1048.5,1029.9 1048.9,1029.4 1049.3,1029.8 1049.7,1026.1 1050.1,1029.0 1050.5,1028.7 1050.8,1030.1 1051.2,1030.4 1051.6,1030.3 1052.0,1030.5 1052.4,1030.4 1052.8,1030.4 1053.2,1030.3 1053.6,1030.3 1054.0,1030.2 1054.4,1029.9 1054.8,1029.9 1055.2,1028.9 1055.6,1028.6 1056.0,1028.9 1056.4,1026.1 1056.8,1024.0 1057.2,1024.0 1057.6,1021.8 1058.0,1019.4 1058.4,1015.8 1058.8,1014.8 1059.2,1015.8 1059.6,1016.2 1059.9,1021.1 1060.3,1022.3 1060.7,1026.1 1061.1,1025.8 1061.5,1024.2 1061.9,1028.9 1062.3,1028.5 1062.7,1029.0 1063.1,1029.8 1063.5,1030.2 1063.9,1029.9 1064.3,1028.0 1064.7,1030.3 1065.1,1029.8 1065.5,1029.6 1065.9,1028.7 1066.3,1030.5 1066.7,1030.4 1067.1,1030.4 1067.5,1030.6 1067.9,1030.4 1068.3,1029.9 1068.6,1030.6 1069.0,1030.4 1069.4,1027.8 1069.8,1029.8 1070.2,1024.5 1070.6,1028.4 1071.0,1029.8 1071.4,1029.2 1071.8,1030.1 1072.2,1025.4 1072.6,1030.7 1073.0,1030.7 1073.4,1030.7 1073.8,1030.5 1074.2,1030.0 1074.6,1029.9 1075.0,1030.4 1075.4,1029.8 1075.8,1030.1 1076.2,1029.3 1076.6,1030.1 1077.0,1030.8 1077.4,1030.2 1077.7,1030.4 1078.1,1029.4 1078.5,1029.5 1078.9,1029.4 1079.3,1027.4 1079.7,1030.7 1080.1,1030.0 1080.5,1030.7 1080.9,1028.7 1081.3,1030.7 1081.7,1030.2 1082.1,1030.4 1082.5,1029.9 1082.9,1030.8 1083.3,1029.8 1083.7,1029.9 1084.1,1029.7 1084.5,1030.4 1084.9,1030.7 1085.3,1028.3 1085.7,1030.2 1086.1,1030.7 1086.5,1028.8 1086.8,1029.8 1087.2,1029.2 1087.6,1030.0 1088.0,1028.2 1088.4,1030.4 1088.8,1030.0 1089.2,1030.5 1089.6,1030.0 1090.0,1030.0 1090.4,1029.3 1090.8,1027.1 1091.2,1029.8 1091.6,1029.9 1092.0,1029.7 1092.4,1030.3 1092.8,1030.0 1093.2,1030.0 1093.6,1030.4 1094.0,1028.8 1094.4,1029.6 1094.8,1030.1 1095.2,1030.8 1095.5,1029.9 1095.9,1028.7 1096.3,1029.1 1096.7,1027.4 1097.1,1029.0 1097.5,1030.2 1097.9,1030.8 1098.3,1030.4 1098.7,1028.9 1099.1,1030.3 1099.5,1030.5 1099.9,1029.8 1100.3,1029.7 1100.7,1027.8 1101.1,1030.5 1101.5,1029.9 1101.9,1030.5 1102.3,1029.8 1102.7,1030.4 1103.1,1028.9 1103.5,1030.1 1103.9,1030.1 1104.3,1029.2 1104.6,1027.3 1105.0,1030.6 1105.4,1030.4 1105.8,1030.8 1106.2,1030.8 1106.6,1030.6 1107.0,1029.2 1107.4,1030.4 1107.8,1029.7 1108.2,1030.7 1108.6,1030.2 1109.0,1030.2 1109.4,1030.2 1109.8,1026.3 1110.2,1029.6 1110.6,1030.0 1111.0,1030.7 1111.4,1030.3 1111.8,1026.4 1112.2,1028.5 1112.6,1027.0 1113.0,1028.8 1113.4,1029.5 1113.7,1030.4 1114.1,1030.3 1114.5,1029.9 1114.9,1029.5 1115.3,1029.3 1115.7,1030.0 1116.1,1029.5 1116.5,1029.7 1116.9,1028.6 1117.3,1026.6 1117.7,1030.6 1118.1,1030.5 1118.5,1030.3 1118.9,1030.4 1119.3,1027.7 1119.7,1029.6 1120.1,1029.9 1120.5,1029.7 1120.9,1029.8 1121.3,1027.6 1121.7,1029.3 1122.1,1029.0 1122.5,1030.0 1122.8,1028.9 1123.2,1029.4 1123.6,1029.5 1124.0,1029.3 1124.4,1029.6 1124.8,1026.7 1125.2,1026.6 1125.6,1027.6 1126.0,1026.8 1126.4,1028.9 1126.8,1028.5 1127.2,1027.9 1127.6,1027.7 1128.0,1023.8 1128.4,1025.1 1128.8,1024.0 1129.2,1021.3 1129.6,1017.1 1130.0,1010.9 1130.4,1002.2 1130.8,991.1 1131.2,978.9 1131.5,968.5 1131.9,964.2 1132.3,968.5 1132.7,978.9 1133.1,991.1 1133.5,1002.2 1133.9,1010.9 1134.3,1017.1 1134.7,1021.4 1135.1,1024.4 1135.5,1025.0 1135.9,1026.9 1136.3,1027.3 1136.7,1027.4 1137.1,1028.5 1137.5,1024.7 1137.9,1028.1 1138.3,1028.3 1138.7,1029.3 1139.1,1028.5 1139.5,1028.5 1139.9,1028.6 1140.3,1027.7 1140.6,1027.9 1141.0,1029.8 1141.4,1028.5 1141.8,1030.1 1142.2,1024.5 1142.6,1027.8 1143.0,1027.3 1143.4,1027.5 1143.8,1030.3 1144.2,1029.9 1144.6,1029.9 1145.0,1029.9 1145.4,1030.0 1145.8,1027.7 1146.2,1030.6 1146.6,1026.5 1147.0,1029.7 1147.4,1029.2 1147.8,1030.4 1148.2,1028.0 1148.6,1028.8 1149.0,1028.3 1149.4,1030.3 1149.7,1030.7 1150.1,1030.5 1150.5,1028.8 1150.9,1028.7 1151.3,1026.5 1151.7,1030.7 1152.1,1030.7 1152.5,1028.7 1152.9,1025.6 1153.3,1029.7 1153.7,1026.4 1154.1,1030.0 1154.5,1030.3 1154.9,1030.7 1155.3,1030.5 1155.7,1029.5 1156.1,1030.7 1156.5,1026.9 1156.9,1028.3 1157.3,1029.6 1157.7,1030.6 1158.1,1030.0 1158.5,1030.6 1158.8,1027.1 1159.2,1030.0 1159.6,1029.1 1160.0,1024.6 1160.4,1030.5 1160.8,1028.6 1161.2,1030.4 1161.6,1030.1 1162.0,1030.4 1162.4,1027.5 1162.8,1030.8 1163.2,1028.8 1163.6,1030.4 1164.0,1029.6 1164.4,1028.8 1164.8,1029.1 1165.2,1030.8 1165.6,1030.7 1166.0,1030.4 1166.4,1028.8 1166.8,1028.2 1167.2,1030.2 1167.5,1030.2 1167.9,1030.2 1168.3,1030.4 1168.7,1030.4 1169.1,1027.3 1169.5,1030.6 1169.9,1030.2 1170.3,1028.0 1170.7,1030.3 1171.1,1028.1 1171.5,1030.4 1171.9,1028.8 1172.3,1030.3 1172.7,1030.3 1173.1,1030.2 1173.5,1030.6 1173.9,1028.8 1174.3,1030.0 1174.7,1030.6 1175.1,1029.0 1175.5,1030.8 1175.9,1028.6 1176.3,1030.0 1176.6,1029.5 1177.0,1029.6 1177.4,1029.7 1177.8,1028.9 1178.2,1030.6 1178.6,1028.8 1179.0,1030.8 1179.4,1025.6 1179.8,1030.8 1180.2,1030.8 1180.6,1030.8 1181.0,1028.9 1181.4,1027.4 1181.8,1029.3 1182.2,1030.1 1182.6,1030.0 1183.0,1030.5 1183.4,1029.7 1183.8,1030.8 1184.2,1029.7 1184.6,1030.8 1185.0,1030.0 1185.4,1029.6 1185.7,1030.0 1186.1,1030.8 1186.5,1029.6 1186.9,1028.7 1187.3,1030.8 1187.7,1030.5 1188.1,1028.6 1188.5,1030.5 1188.9,1030.1 1189.3,1030.6 1189.7,1030.2 1190.1,1029.8 1190.5,1030.7 1190.9,1028.8 1191.3,1030.2 1191.7,1030.5 1192.1,1030.5 1192.5,1029.6 1192.9,1027.7 1193.3,1030.7 1193.7,1029.1 1194.1,1030.1 1194.4,1030.3 1194.8,1027.8 1195.2,1029.3 1195.6,1030.3 1196.0,1030.7 1196.4,1030.7 1196.8,1029.5 1197.2,1027.5 1197.6,1027.6 1198.0,1028.3 1198.4,1030.0 1198.8,1030.3 1199.2,1029.8 1199.6,1029.4 1200.0,1030.1 1200.4,1030.0 1200.8,1029.4 1201.2,1030.0 1201.6,1030.5 1202.0,1030.8 1202.4,1030.5 1202.8,1028.4 1203.2,1030.1 1203.5,1028.1 1203.9,1026.4 1204.3,1030.5 1204.7,1030.2 1205.1,1030.0 1205.5,1030.8 1205.9,1030.4 1206.3,1029.0 1206.7,1029.7 1207.1,1030.3 1207.5,1030.6 1207.9,1028.4 1208.3,1030.7 1208.7,1030.7 1209.1,1029.0 1209.5,1030.2 1209.9,1029.9 1210.3,1028.7 1210.7,1030.3 1211.1,1029.0 1211.5,1030.2 1211.9,1029.8 1212.3,1030.1 1212.6,1030.5 1213.0,1030.3 1213.4,1028.3 1213.8,1029.7 1214.2,1030.4 1214.6,1029.7 1215.0,1029.0 1215.4,1027.0 1215.8,1030.1 1216.2,1028.9 1216.6,1029.7 1217.0,1030.6 1217.4,1030.8 1217.8,1030.0 1218.2,1029.7 1218.6,1029.3 1219.0,1030.2 1219.4,1030.8 1219.8,1027.9 1220.2,1030.7 1220.6,1030.4 1221.0,1030.5 1221.4,1030.2 1221.7,1030.6 1222.1,1029.6 1222.5,1030.8 1222.9,1029.3 1223.3,1030.1 1223.7,1027.9 1224.1,1027.2 1224.5,1030.1 1224.9,1027.3 1225.3,1030.0 1225.7,1030.5 1226.1,1030.2 1226.5,1028.0 1226.9,1030.6 1227.3,1029.9 1227.7,1030.7 1228.1,1030.6 1228.5,1030.5 1228.9,1028.8 1229.3,1029.3 1229.7,1030.3 1230.1,1030.2 1230.4,1030.2 1230.8,1029.7 1231.2,1027.7 1231.6,1030.0 1232.0,1028.0 1232.4,1030.3 1232.8,1029.9 1233.2,1029.6 1233.6,1030.5 1234.0,1030.5 1234.4,1029.3 1234.8,1028.7 1235.2,1030.3 1235.6,1028.7 1236.0,1028.7 1236.4,1029.1 1236.8,1029.4 1237.2,1029.9 1237.6,1028.7 1238.0,1028.8 1238.4,1027.1 1238.8,1028.3 1239.2,1030.1 1239.5,1029.7 1239.9,1026.3 1240.3,1028.3 1240.7,1029.6 1241.1,1029.6 1241.5,1028.8 1241.9,1028.2 1242.3,1026.9 1242.7,1025.3 1243.1,1027.3 1243.5,1027.3 1243.9,1027.9 1244.3,1027.3 1244.7,1026.2 1245.1,1024.6 1245.5,1022.9 1245.9,1018.9 1246.3,1015.5 1246.7,1008.6 1247.1,998.9 1247.5,986.4 1247.9,972.7 1248.3,961.0 1248.6,956.2 1249.0,961.0 1249.4,972.7 1249.8,986.4 1250.2,998.9 1250.6,1008.6 1251.0,1015.5 1251.4,1020.9 1251.8,1023.2 1252.2,1024.9 1252.6,1025.6 1253.0,1025.2 1253.4,1027.3 1253.8,1028.1 1254.2,1025.4 1254.6,1027.2 1255.0,1028.1 1255.4,1028.7 1255.8,1029.3 1256.2,1029.6 1256.6,1029.5 1257.0,1029.0 1257.4,1029.4 1257.7,1028.8 1258.1,1030.1 1258.5,1028.3 1258.9,1027.1 1259.3,1028.9 1259.7,1030.2 1260.1,1030.2 1260.5,1029.7 1260.9,1029.4 1261.3,1029.7 1261.7,1029.4 1262.1,1029.9 1262.5,1026.4 1262.9,1029.5 1263.3,1028.8 1263.7,1029.9 1264.1,1030.6 1264.5,1030.6 1264.9,1029.8 1265.3,1030.4 1265.7,1030.5 1266.1,1030.6 1266.4,1029.9 1266.8,1029.0 1267.2,1030.7 1267.6,1027.2 1268.0,1030.3 1268.4,1029.2 1268.8,1029.6 1269.2,1030.4 1269.6,1030.2 1270.0,1030.0 1270.4,1030.3 1270.8,1030.3 1271.2,1030.1 1271.6,1029.8 1272.0,1030.3 1272.4,1029.2 1272.8,1030.5 1273.2,1030.7 1273.6,1029.7 1274.0,1029.7 1274.4,1028.6 1274.8,1025.9 1275.2,1029.7 1275.5,1029.2 1275.9,1029.0 1276.3,1029.8 1276.7,1030.7 1277.1,1028.8 1277.5,1029.3 1277.9,1028.6 1278.3,1030.3 1278.7,1029.2 1279.1,1028.7 1279.5,1030.5 1279.9,1030.6 1280.3,1030.6 1280.7,1030.7 1281.1,1030.6 1281.5,1030.6 1281.9,1030.1 1282.3,1028.6 1282.7,1030.2 1283.1,1030.7 1283.5,1028.8 1283.9,1028.9 1284.3,1030.8 1284.6,1029.4 1285.0,1029.7 1285.4,1029.1 1285.8,1030.8 1286.2,1025.4 1286.6,1029.7 1287.0,1029.2 1287.4,1029.2 1287.8,1030.3 1288.2,1030.3 1288.6,1029.7 1289.0,1029.9 1289.4,1029.9 1289.8,1028.9 1290.2,1030.8 1290.6,1029.0 1291.0,1030.6 1291.4,1029.1 1291.8,1029.5 1292.2,1029.6 1292.6,1030.7 1293.0,1026.7 1293.3,1030.1 1293.7,1030.7 1294.1,1030.6 1294.5,1029.8 1294.9,1027.7 1295.3,1028.5 1295.7,1030.5 1296.1,1030.8 1296.5,1026.6 1296.9,1029.9 1297.3,1030.7 1297.7,1029.8 1298.1,1027.0 1298.5,1030.6 1298.9,1028.4 1299.3,1030.5 1299.7,1029.7 1300.1,1028.9 1300.5,1028.6 1300.9,1030.7 1301.3,1030.3 1301.7,1029.4 1302.1,1030.5 1302.4,1027.3 1302.8,1030.2 1303.2,1029.0 1303.6,1028.6 1304.0,1025.6 1304.4,1030.2 1304.8,1029.0 1305.2,1029.2 1305.6,1029.1 1306.0,1030.7 1306.4,1030.1 1306.8,1030.6 1307.2,1028.8 1307.6,1030.8 1308.0,1030.7 1308.4,1030.5 1308.8,1026.2 1309.2,1029.5 1309.6,1028.7 1310.0,1030.3 1310.4,1028.1 1310.8,1030.1 1311.2,1030.1 1311.5,1029.9 1311.9,1030.5 1312.3,1030.5 1312.7,1029.3 1313.1,1030.3 1313.5,1029.4 1313.9,1028.4 1314.3,1028.1 1314.7,1026.0 1315.1,1026.6 1315.5,1027.1 1315.9,1023.9 1316.3,1028.7 1316.7,1028.9 1317.1,1027.3 1317.5,1030.0 1317.9,1029.5 1318.3,1027.1 1318.7,1030.5 1319.1,1030.3 1319.5,1030.4 1319.9,1029.0 1320.3,1028.4 1320.6,1029.8 1321.0,1028.4 1321.4,1029.1 1321.8,1030.4 1322.2,1030.3 1322.6,1028.6 1323.0,1030.0 1323.4,1030.8 1323.8,1029.6 1324.2,1028.4 1324.6,1028.4 1325.0,1030.6 1325.4,1029.2 1325.8,1028.8 1326.2,1029.4 1326.6,1027.6 1327.0,1030.1 1327.4,1030.6 1327.8,1029.4 1328.2,1027.0 1328.6,1029.8 1329.0,1030.7 1329.3,1029.8 1329.7,1030.4 1330.1,1027.3 1330.5,1028.1 1330.9,1028.9 1331.3,1029.2 1331.7,1030.5 1332.1,1030.6 1332.5,1029.2 1332.9,1024.6 1333.3,1029.4 1333.7,1030.0 1334.1,1030.4 1334.5,1029.6 1334.9,1029.5 1335.3,1030.4 1335.7,1029.6 1336.1,1029.9 1336.5,1027.9 1336.9,1028.0 1337.3,1029.9 1337.7,1030.1 1338.1,1027.8 1338.4,1030.4 1338.8,1028.0 1339.2,1029.4 1339.6,1030.7 1340.0,1030.8 1340.4,1030.7 1340.8,1030.4 1341.2,1030.5 1341.6,1030.7 1342.0,1029.3 1342.4,1026.9 1342.8,1029.9 1343.2,1030.8 1343.6,1030.4 1344.0,1030.1 1344.4,1030.4 1344.8,1028.5 1345.2,1025.1 1345.6,1030.5 1346.0,1030.4 1346.4,1030.6 1346.8,1030.4 1347.2,1030.0 1347.5,1030.5 1347.9,1029.7 1348.3,1030.8 1348.7,1030.0 1349.1,1030.0 1349.5,1029.5 1349.9,1029.5 1350.3,1027.8 1350.7,1030.8 1351.1,1030.4 1351.5,1029.4 1351.9,1030.5 1352.3,1030.0 1352.7,1027.9 1353.1,1026.4 1353.5,1028.6 1353.9,1029.5 1354.3,1029.9 1354.7,1030.6 1355.1,1030.4 1355.5,1030.0 1355.9,1029.6 1356.3,1029.8 1356.6,1030.0 1357.0,1030.5 1357.4,1027.8 1357.8,1030.3 1358.2,1027.7 1358.6,1030.5 1359.0,1030.8 1359.4,1030.9 1359.8,1029.8 1360.2,1030.4 1360.6,1028.3 1361.0,1030.8 1361.4,1030.1 1361.8,1028.9 1362.2,1029.0 1362.6,1029.4 1363.0,1030.3 1363.4,1029.0 1363.8,1030.2 1364.2,1030.5 1364.6,1029.2 1365.0,1028.3 1365.3,1030.6 1365.7,1028.2 1366.1,1029.4 1366.5,1030.0 1366.9,1029.4 1367.3,1028.9 1367.7,1027.7 1368.1,1030.6 1368.5,1028.6 1368.9,1030.1 1369.3,1029.5 1369.7,1029.7 1370.1,1030.0 1370.5,1027.0 1370.9,1028.8 1371.3,1030.4 1371.7,1030.4 1372.1,1029.7 1372.5,1029.9 1372.9,1029.5 1373.3,1030.6 1373.7,1030.8 1374.1,1030.1 1374.4,1029.6 1374.8,1030.5 1375.2,1029.1 1375.6,1030.0 1376.0,1029.5 1376.4,1030.7 1376.8,1030.3 1377.2,1030.2 1377.6,1030.4 1378.0,1030.6 1378.4,1029.4 1378.8,1030.6 1379.2,1030.0 1379.6,1029.7 1380.0,1029.2 1380.4,1028.0 1380.8,1030.2 1381.2,1029.4 1381.6,1029.9 1382.0,1028.9 1382.4,1028.6 1382.8,1027.7 1383.2,1025.5 1383.5,1028.2 1383.9,1028.0 1384.3,1027.9 1384.7,1026.5 1385.1,1027.4 1385.5,1028.8 1385.9,1029.1 1386.3,1028.1 1386.7,1029.5 1387.1,1026.4 1387.5,1029.0 1387.9,1029.4 1388.3,1026.8 1388.7,1030.2 1389.1,1030.2 1389.5,1029.3 1389.9,1030.0 1390.3,1030.6 1390.7,1030.6 1391.1,1029.7 1391.5,1027.9 1391.9,1030.2 1392.2,1030.8 1392.6,1030.7 1393.0,1030.5 1393.4,1030.6 1393.8,1024.6 1394.2,1030.7 1394.6,1028.0 1395.0,1030.4 1395.4,1029.6 1395.8,1026.3 1396.2,1030.5 1396.6,1030.3 1397.0,1030.1 1397.4,1030.4 1397.8,1029.7 1398.2,1030.4 1398.6,1030.1 1399.0,1028.9 1399.4,1030.8 1399.8,1027.0 1400.2,1030.6 1400.6,1028.8 1401.0,1030.7 1401.3,1030.7 1401.7,1030.3 1402.1,1030.7 1402.5,1029.0 1402.9,1030.5 1403.3,1029.9 1403.7,1029.2 1404.1,1028.6 1404.5,1030.3 1404.9,1030.7 1405.3,1030.1 1405.7,1027.9 1406.1,1030.6 1406.5,1030.6 1406.9,1030.4 1407.3,1029.1 1407.7,1030.4 1408.1,1030.1 1408.5,1029.6 1408.9,1030.5 1409.3,1030.0 1409.7,1028.8 1410.1,1030.1 1410.4,1026.4 1410.8,1029.6 1411.2,1027.6 1411.6,1029.9 1412.0,1030.3 1412.4,1030.1 1412.8,1028.2 1413.2,1029.9 1413.6,1030.2 1414.0,1030.2 1414.4,1029.8 1414.8,1029.2 1415.2,1030.4 1415.6,1029.9 1416.0,1030.5 1416.4,1029.5 1416.8,1030.0 1417.2,1029.4 1417.6,1029.6 1418.0,1030.4 1418.4,1029.8 1418.8,1024.4 1419.2,1028.1 1419.5,1028.7 1419.9,1027.1 1420.3,1029.0 1420.7,1028.3 1421.1,1027.0 1421.5,1027.3 1421.9,1027.1 1422.3,1025.6 1422.7,1024.7 1423.1,1028.3 1423.5,1029.2 1423.9,1023.6 1424.3,1030.0 1424.7,1029.7 1425.1,1028.7 1425.5,1030.4 1425.9,1027.1 1426.3,1030.1 1426.7,1030.4 1427.1,1028.5 1427.5,1030.4 1427.9,1028.7 1428.2,1030.7 1428.6,1029.6 1429.0,1028.5 1429.4,1030.2 1429.8,1030.6 1430.2,1029.1 1430.6,1028.6 1431.0,1030.4 1431.4,1030.5 1431.8,1030.7 1432.2,1029.2 1432.6,1029.9 1433.0,1030.8 1433.4,1028.7 1433.8,1027.9 1434.2,1029.5 1434.6,1030.7 1435.0,1028.7 1435.4,1030.0 1435.8,1029.8 1436.2,1028.9 1436.6,1029.9 1437.0,1030.4 1437.3,1030.7 1437.7,1030.6 1438.1,1030.0 1438.5,1030.3 1438.9,1030.5 1439.3,1030.6 1439.7,1030.1 1440.1,1027.8 1440.5,1030.7 1440.9,1029.8 1441.3,1029.4 1441.7,1030.0 1442.1,1030.2 1442.5,1030.7 1442.9,1029.5 1443.3,1030.3 1443.7,1030.8 1444.1,1030.6 1444.5,1024.6 1444.9,1030.3 1445.3,1028.6 1445.7,1029.2 1446.1,1030.3 1446.4,1030.7 1446.8,1030.7 1447.2,1030.6 1447.6,1030.1 1448.0,1030.4 1448.4,1030.0 1448.8,1029.0 1449.2,1030.3 1449.6,1030.6 1450.0,1029.8 1450.4,1029.8 1450.8,1030.2 1451.2,1029.6 1451.6,1028.1 1452.0,1030.1 1452.4,1030.7 1452.8,1030.8 1453.2,1030.8 1453.6,1029.2 1454.0,1030.8 1454.4,1029.4 1454.8,1025.2 1455.2,1028.5 1455.5,1029.8 1455.9,1030.5 1456.3,1030.1 1456.7,1029.9 1457.1,1030.5 1457.5,1030.1 1457.9,1030.2 1458.3,1029.7 1458.7,1030.3 1459.1,1030.6 1459.5,1028.1 1459.9,1030.7 1460.3,1030.6 1460.7,1025.7 1461.1,1030.5 1461.5,1029.4 1461.9,1029.6 1462.3,1030.3 1462.7,1030.1 1463.1,1029.8 1463.5,1030.4 1463.9,1029.7 1464.2,1028.6 1464.6,1028.6 1465.0,1030.3 1465.4,1030.6 1465.8,1027.5 1466.2,1030.8 1466.6,1030.6 1467.0,1030.5 1467.4,1030.8 1467.8,1030.2 1468.2,1028.8 1468.6,1029.6 1469.0,1030.7 1469.4,1030.7 1469.8,1028.8 1470.2,1030.5 1470.6,1029.6 1471.0,1028.9 1471.4,1030.4 1471.8,1029.1 1472.2,1028.6 1472.6,1028.4 1473.0,1030.1 1473.3,1027.9 1473.7,1028.7 1474.1,1029.8 1474.5,1030.6 1474.9,1029.9 1475.3,1029.7 1475.7,1028.2 1476.1,1029.6 1476.5,1030.7 1476.9,1030.4 1477.3,1028.8 1477.7,1030.7 1478.1,1030.4 1478.5,1030.2 1478.9,1028.8 1479.3,1028.0 1479.7,1030.1 1480.1,1030.0 1480.5,1030.4 1480.9,1030.1 1481.3,1030.4 1481.7,1030.1 1482.1,1029.7 1482.4,1028.2 1482.8,1028.0 1483.2,1028.5 1483.6,1023.9 1484.0,1029.3 1484.4,1029.3 1484.8,1028.3 1485.2,1027.1 1485.6,1026.0 1486.0,1020.9 1486.4,1021.6 1486.8,1018.0 1487.2,1015.7 1487.6,1014.8 1488.0,1015.7 1488.4,1018.7 1488.8,1021.8 1489.2,1023.9 1489.6,1024.8 1490.0,1025.3 1490.4,1027.3 1490.8,1029.2 1491.1,1029.6 1491.5,1028.3 1491.9,1029.5 1492.3,1028.8 1492.7,1030.1 1493.1,1024.7 1493.5,1027.4 1493.9,1028.5 1494.3,1030.4 1494.7,1030.5 1495.1,1029.3 1495.5,1030.2 1495.9,1028.8 1496.3,1027.8 1496.7,1029.6 1497.1,1028.8 1497.5,1029.4 1497.9,1028.4 1498.3,1030.3 1498.7,1029.5 1499.1,1027.3 1499.5,1030.2 1499.9,1030.2 1500.2,1028.3 1500.6,1030.1 1501.0,1027.9 1501.4,1026.3 1501.8,1029.6 1502.2,1029.9 1502.6,1029.0 1503.0,1029.6 1503.4,1030.4 1503.8,1028.9 1504.2,1027.9 1504.6,1029.3 1505.0,1029.2 1505.4,1027.4 1505.8,1027.6 1506.2,1027.1 1506.6,1027.5 1507.0,1023.7 1507.4,1022.0 1507.8,1020.2 1508.2,1018.1 1508.6,1016.6 1509.0,1016.6 1509.3,1018.3 1509.7,1021.4 1510.1,1023.1 1510.5,1025.3 1510.9,1026.5 1511.3,1028.5 1511.7,1027.2 1512.1,1026.3 1512.5,1028.6 1512.9,1030.0 1513.3,1030.2 1513.7,1029.5 1514.1,1030.3 1514.5,1029.4 1514.9,1030.6 1515.3,1027.7 1515.7,1028.7 1516.1,1027.9 1516.5,1030.3 1516.9,1030.6 1517.3,1027.2 1517.7,1029.1 1518.1,1028.9 1518.4,1028.8 1518.8,1030.1 1519.2,1030.4 1519.6,1028.5 1520.0,1030.7 1520.4,1030.5 1520.8,1030.4 1521.2,1030.8 1521.6,1029.4 1522.0,1030.5 1522.4,1029.3 1522.8,1028.0 1523.2,1030.1 1523.6,1030.4 1524.0,1028.1 1524.4,1028.1 1524.8,1030.1 1525.2,1030.6 1525.6,1027.5 1526.0,1030.8 1526.4,1030.7 1526.8,1030.5 1527.1,1030.1 1527.5,1030.7 1527.9,1028.2 1528.3,1029.6 1528.7,1030.8 1529.1,1030.7 1529.5,1028.0 1529.9,1029.3 1530.3,1030.1 1530.7,1030.6 1531.1,1030.8 1531.5,1030.2 1531.9,1028.7 1532.3,1030.8 1532.7,1030.4 1533.1,1028.5 1533.5,1027.9 1533.9,1029.7 1534.3,1030.9 1534.7,1029.7 1535.1,1030.7 1535.5,1030.9 1535.9,1030.9 1536.2,1029.8 1536.6,1030.5 1537.0,1027.4 1537.4,1029.8 1537.8,1030.2 1538.2,1030.4 1538.6,1029.4 1539.0,1029.1 1539.4,1029.0 1539.8,1030.6 1540.2,1030.4 1540.6,1030.4 1541.0,1028.4" fill="none" stroke="#000" stroke-width="6" stroke-linejoin="round" stroke-linecap="butt" shape-rendering="crispEdges"/>
<path d="M156.0,812.1 156.4,813.2 156.8,812.7 157.2,813.3 157.6,813.8 158.0,813.4 158.4,813.3 158.8,813.7 159.2,813.7 159.6,812.9 160.0,812.9 160.4,812.8 160.7,813.6 161.1,811.9 161.5,812.6 161.9,812.1 162.3,813.4 162.7,813.7 163.1,813.4 163.5,813.3 163.9,812.0 164.3,813.8 164.7,813.7 165.1,813.1 165.5,813.5 165.9,813.2 166.3,812.8 166.7,813.8 167.1,812.3 167.5,813.8 167.9,812.0 168.3,813.0 168.7,813.5 169.1,813.2 169.5,812.7 169.8,813.4 170.2,813.4 170.6,812.9 171.0,812.5 171.4,813.5 171.8,813.5 172.2,813.5 172.6,812.0 173.0,812.7 173.4,813.8 173.8,813.3 174.2,813.7 174.6,812.7 175.0,812.9 175.4,813.1 175.8,813.3 176.2,812.6 176.6,813.5 177.0,813.5 177.4,811.6 177.8,812.7 178.2,812.7 178.5,813.7 178.9,813.1 179.3,813.5 179.7,813.7 180.1,812.5 180.5,812.0 180.9,813.0 181.3,811.7 181.7,813.7 182.1,813.0 182.5,811.9 182.9,813.6 183.3,811.3 183.7,813.3 184.1,813.1 184.5,811.9 184.9,811.0 185.3,812.4 185.7,813.7 186.1,812.4 186.5,810.7 186.9,813.1 187.3,813.0 187.6,813.2 188.0,812.4 188.4,812.3 188.8,813.0 189.2,813.8 189.6,813.0 190.0,813.4 190.4,811.0 190.8,813.2 191.2,813.1 191.6,813.1 192.0,812.3 192.4,813.7 192.8,813.3 193.2,813.7 193.6,812.8 194.0,811.1 194.4,813.6 194.8,813.1 195.2,813.1 195.6,813.6 196.0,812.4 196.4,813.4 196.7,812.9 197.1,813.1 197.5,812.1 197.9,813.8 198.3,813.8 198.7,813.6 199.1,813.4 199.5,809.5 199.9,812.5 200.3,813.1 200.7,812.4 201.1,813.2 201.5,812.3 201.9,813.6 202.3,812.6 202.7,813.5 203.1,813.1 203.5,812.4 203.9,812.8 204.3,812.8 204.7,813.4 205.1,813.8 205.4,813.8 205.8,813.7 206.2,813.3 206.6,813.6 207.0,813.8 207.4,813.2 207.8,813.7 208.2,813.0 208.6,813.5 209.0,813.4 209.4,812.4 209.8,813.1 210.2,812.4 210.6,813.3 211.0,813.4 211.4,812.8 211.8,813.2 212.2,812.4 212.6,813.4 213.0,813.0 213.4,813.1 213.8,812.2 214.2,813.4 214.5,813.2 214.9,813.0 215.3,813.8 215.7,813.8 216.1,813.5 216.5,812.3 216.9,812.2 217.3,813.7 217.7,812.8 218.1,812.7 218.5,811.7 218.9,812.9 219.3,812.6 219.7,813.4 220.1,812.9 220.5,812.5 220.9,813.1 221.3,813.6 221.7,812.3 222.1,813.3 222.5,811.3 222.9,812.1 223.3,810.7 223.6,813.2 224.0,812.7 224.4,813.3 224.8,813.7 225.2,813.8 225.6,813.5 226.0,813.4 226.4,813.7 226.8,812.4 227.2,813.7 227.6,813.7 228.0,813.4 228.4,811.4 228.8,813.3 229.2,812.4 229.6,813.4 230.0,813.0 230.4,813.5 230.8,812.4 231.2,813.6 231.6,811.7 232.0,813.6 232.4,813.4 232.7,812.5 233.1,813.7 233.5,812.7 233.9,813.5 234.3,813.7 234.7,813.8 235.1,813.8 235.5,813.4 235.9,813.1 236.3,813.7 236.7,812.7 237.1,813.2 237.5,813.7 237.9,812.1 238.3,811.1 238.7,813.7 239.1,812.5 239.5,812.5 239.9,812.4 240.3,812.6 240.7,813.7 241.1,813.2 241.4,813.7 241.8,813.2 242.2,812.9 242.6,812.5 243.0,813.0 243.4,811.1 243.8,812.0 244.2,812.9 244.6,812.6 245.0,813.0 245.4,812.5 245.8,813.6 246.2,813.3 246.6,813.5 247.0,813.6 247.4,813.1 247.8,812.7 248.2,813.8 248.6,813.3 249.0,813.1 249.4,813.4 249.8,813.4 250.2,811.9 250.5,813.5 250.9,812.8 251.3,813.0 251.7,813.7 252.1,813.5 252.5,812.6 252.9,812.7 253.3,813.6 253.7,812.2 254.1,812.8 254.5,811.7 254.9,810.8 255.3,813.7 255.7,812.7 256.1,813.4 256.5,813.2 256.9,812.0 257.3,813.1 257.7,813.7 258.1,813.3 258.5,813.0 258.9,813.4 259.3,813.2 259.6,812.9 260.0,813.5 260.4,812.5 260.8,813.7 261.2,813.3 261.6,812.2 262.0,813.4 262.4,812.9 262.8,811.5 263.2,812.8 263.6,811.6 264.0,813.3 264.4,813.2 264.8,813.0 265.2,812.4 265.6,812.9 266.0,813.6 266.4,811.2 266.8,813.5 267.2,813.6 267.6,812.8 268.0,813.4 268.4,813.7 268.7,813.4 269.1,813.0 269.5,811.8 269.9,812.9 270.3,811.1 270.7,813.7 271.1,813.2 271.5,813.6 271.9,809.9 272.3,813.6 272.7,813.3 273.1,813.7 273.5,813.3 273.9,813.4 274.3,812.2 274.7,812.6 275.1,811.7 275.5,812.6 275.9,811.7 276.3,811.0 276.7,809.3 277.1,810.7 277.4,811.8 277.8,811.0 278.2,812.8 278.6,812.3 279.0,811.2 279.4,813.3 279.8,811.6 280.2,813.3 280.6,812.6 281.0,812.9 281.4,813.6 281.8,812.7 282.2,812.5 282.6,813.6 283.0,813.0 283.4,813.6 283.8,813.6 284.2,811.9 284.6,813.4 285.0,813.3 285.4,813.5 285.8,813.7 286.2,813.1 286.5,813.7 286.9,812.8 287.3,812.6 287.7,813.2 288.1,813.5 288.5,813.0 288.9,811.7 289.3,813.7 289.7,813.2 290.1,813.2 290.5,813.6 290.9,812.8 291.3,813.1 291.7,813.1 292.1,812.8 292.5,813.7 292.9,812.9 293.3,811.7 293.7,813.4 294.1,812.9 294.5,813.6 294.9,812.4 295.3,813.1 295.6,813.6 296.0,812.8 296.4,813.3 296.8,813.6 297.2,812.6 297.6,813.0 298.0,813.6 298.4,813.5 298.8,813.7 299.2,813.8 299.6,812.5 300.0,809.5 300.4,813.2 300.8,812.9 301.2,813.1 301.6,813.6 302.0,811.1 302.4,811.1 302.8,813.7 303.2,813.3 303.6,813.1 304.0,812.2 304.3,813.7 304.7,813.6 305.1,812.5 305.5,812.7 305.9,812.2 306.3,813.0 306.7,813.4 307.1,813.5 307.5,812.9 307.9,812.8 308.3,812.9 308.7,813.7 309.1,813.6 309.5,813.1 309.9,813.3 310.3,813.5 310.7,813.3 311.1,813.0 311.5,812.8 311.9,813.7 312.3,813.1 312.7,813.5 313.1,812.2 313.4,812.4 313.8,812.4 314.2,813.5 314.6,811.7 315.0,812.4 315.4,813.2 315.8,813.7 316.2,813.0 316.6,813.6 317.0,813.5 317.4,812.4 317.8,813.5 318.2,813.4 318.6,810.7 319.0,812.3 319.4,813.3 319.8,813.7 320.2,813.7 320.6,812.4 321.0,813.3 321.4,812.9 321.8,809.4 322.2,812.6 322.5,813.6 322.9,813.5 323.3,813.2 323.7,813.2 324.1,813.1 324.5,813.1 324.9,813.3 325.3,813.4 325.7,813.3 326.1,812.7 326.5,812.0 326.9,811.3 327.3,810.3 327.7,813.1 328.1,812.7 328.5,812.6 328.9,812.9 329.3,811.9 329.7,811.7 330.1,810.9 330.5,811.5 330.9,811.4 331.3,809.9 331.6,808.9 332.0,805.0 332.4,797.2 332.8,785.5 333.2,771.8 333.6,764.7 334.0,771.8 334.4,785.5 334.8,797.2 335.2,805.1 335.6,808.7 336.0,809.5 336.4,811.5 336.8,812.0 337.2,812.1 337.6,812.5 338.0,810.4 338.4,812.7 338.8,812.6 339.2,811.0 339.6,813.1 340.0,811.7 340.3,813.1 340.7,813.4 341.1,812.2 341.5,813.1 341.9,813.0 342.3,813.2 342.7,813.0 343.1,813.4 343.5,812.5 343.9,813.3 344.3,813.5 344.7,812.8 345.1,813.6 345.5,813.0 345.9,813.1 346.3,812.0 346.7,813.2 347.1,810.1 347.5,812.0 347.9,813.0 348.3,813.5 348.7,813.5 349.1,813.0 349.4,812.5 349.8,813.6 350.2,812.2 350.6,813.1 351.0,813.0 351.4,813.2 351.8,812.2 352.2,813.3 352.6,810.8 353.0,813.7 353.4,811.9 353.8,813.7 354.2,813.4 354.6,812.7 355.0,813.4 355.4,813.5 355.8,813.0 356.2,813.1 356.6,813.3 357.0,813.6 357.4,813.1 357.8,813.5 358.2,812.4 358.5,811.6 358.9,812.7 359.3,812.8 359.7,813.8 360.1,813.1 360.5,813.5 360.9,813.5 361.3,813.8 361.7,813.7 362.1,812.6 362.5,813.6 362.9,813.5 363.3,813.6 363.7,813.6 364.1,812.4 364.5,813.4 364.9,813.4 365.3,813.8 365.7,813.0 366.1,811.6 366.5,813.5 366.9,813.7 367.3,811.3 367.6,811.6 368.0,813.7 368.4,813.0 368.8,813.2 369.2,812.1 369.6,813.8 370.0,813.3 370.4,813.3 370.8,813.7 371.2,813.4 371.6,812.3 372.0,813.7 372.4,813.4 372.8,813.2 373.2,812.9 373.6,812.6 374.0,813.7 374.4,813.2 374.8,813.0 375.2,813.7 375.6,813.8 376.0,812.1 376.3,813.3 376.7,813.4 377.1,813.2 377.5,813.7 377.9,813.7 378.3,813.8 378.7,813.2 379.1,811.4 379.5,813.6 379.9,811.1 380.3,813.2 380.7,809.9 381.1,812.7 381.5,813.5 381.9,813.2 382.3,813.4 382.7,813.2 383.1,813.4 383.5,813.4 383.9,813.7 384.3,812.0 384.7,813.5 385.1,813.2 385.4,813.2 385.8,813.8 386.2,813.3 386.6,811.7 387.0,813.8 387.4,813.6 387.8,811.5 388.2,813.3 388.6,813.6 389.0,812.9 389.4,813.6 389.8,813.7 390.2,813.6 390.6,813.6 391.0,812.7 391.4,811.9 391.8,813.3 392.2,811.2 392.6,812.3 393.0,812.5 393.4,812.5 393.8,813.1 394.2,811.2 394.5,811.6 394.9,813.5 395.3,811.5 395.7,813.5 396.1,813.2 396.5,813.6 396.9,811.6 397.3,813.7 397.7,813.3 398.1,813.1 398.5,812.9 398.9,813.7 399.3,813.6 399.7,812.9 400.1,813.3 400.5,812.8 400.9,812.5 401.3,812.0 401.7,813.4 402.1,813.7 402.5,813.5 402.9,813.7 403.2,813.5 403.6,813.0 404.0,812.7 404.4,813.6 404.8,813.4 405.2,812.8 405.6,813.1 406.0,813.7 406.4,809.8 406.8,813.3 407.2,813.5 407.6,813.0 408.0,813.3 408.4,813.4 408.8,812.8 409.2,813.6 409.6,813.1 410.0,813.6 410.4,813.6 410.8,813.8 411.2,813.7 411.6,813.6 412.0,811.6 412.3,813.0 412.7,812.9 413.1,812.7 413.5,813.7 413.9,811.9 414.3,813.1 414.7,812.4 415.1,813.5 415.5,813.6 415.9,813.8 416.3,813.8 416.7,812.1 417.1,812.2 417.5,813.6 417.9,813.3 418.3,813.7 418.7,813.4 419.1,811.5 419.5,813.5 419.9,813.6 420.3,813.6 420.7,813.2 421.1,813.4 421.4,813.7 421.8,812.2 422.2,813.1 422.6,813.6 423.0,813.0 423.4,813.3 423.8,813.6 424.2,813.0 424.6,812.8 425.0,812.9 425.4,812.9 425.8,813.4 426.2,813.6 426.6,811.9 427.0,813.8 427.4,813.8 427.8,813.1 428.2,812.2 428.6,811.8 429.0,813.0 429.4,813.0 429.8,810.8 430.2,813.7 430.5,813.3 430.9,811.9 431.3,813.7 431.7,813.6 432.1,813.8 432.5,813.1 432.9,813.2 433.3,813.3 433.7,812.3 434.1,813.3 434.5,812.5 434.9,813.2 435.3,813.7 435.7,812.7 436.1,813.7 436.5,812.3 436.9,812.8 437.3,813.4 437.7,812.9 438.1,813.3 438.5,812.2 438.9,813.7 439.2,812.5 439.6,813.3 440.0,812.8 440.4,813.6 440.8,813.8 441.2,813.6 441.6,813.7 442.0,813.0 442.4,812.5 442.8,813.3 443.2,813.5 443.6,812.6 444.0,811.6 444.4,813.8 444.8,811.6 445.2,813.5 445.6,813.8 446.0,813.2 446.4,813.2 446.8,813.6 447.2,812.7 447.6,813.1 448.0,813.0 448.3,812.7 448.7,813.3 449.1,813.7 449.5,812.3 449.9,813.7 450.3,810.8 450.7,813.8 451.1,812.5 451.5,812.9 451.9,812.6 452.3,813.7 452.7,813.5 453.1,813.6 453.5,811.8 453.9,811.3 454.3,813.8 454.7,812.6 455.1,813.4 455.5,813.3 455.9,812.6 456.3,813.5 456.7,813.6 457.1,813.3 457.4,813.1 457.8,812.4 458.2,813.2 458.6,812.6 459.0,813.7 459.4,813.5 459.8,813.4 460.2,812.0 460.6,812.8 461.0,812.1 461.4,813.5 461.8,812.5 462.2,812.4 462.6,813.0 463.0,813.7 463.4,812.0 463.8,813.8 464.2,811.9 464.6,811.4 465.0,812.9 465.4,813.0 465.8,813.3 466.2,813.3 466.5,811.7 466.9,813.6 467.3,813.3 467.7,813.6 468.1,811.8 468.5,813.6 468.9,813.4 469.3,811.8 469.7,813.7 470.1,813.1 470.5,813.5 470.9,813.7 471.3,812.7 471.7,813.8 472.1,813.7 472.5,812.9 472.9,813.5 473.3,813.7 473.7,813.6 474.1,812.9 474.5,813.1 474.9,813.6 475.2,812.3 475.6,812.5 476.0,809.5 476.4,813.7 476.8,813.7 477.2,813.1 477.6,813.2 478.0,813.8 478.4,813.0 478.8,813.6 479.2,813.5 479.6,812.5 480.0,812.8 480.4,813.6 480.8,812.8 481.2,813.3 481.6,812.0 482.0,812.2 482.4,812.4 482.8,813.7 483.2,813.1 483.6,813.5 484.0,811.7 484.3,813.6 484.7,813.4 485.1,813.3 485.5,812.8 485.9,813.5 486.3,811.2 486.7,813.6 487.1,813.5 487.5,813.2 487.9,811.6 488.3,813.3 488.7,812.6 489.1,811.9 489.5,811.8 489.9,809.0 490.3,809.4 490.7,808.4 491.1,808.8 491.5,810.2 491.9,812.5 492.3,812.6 492.7,812.4 493.1,813.0 493.4,813.6 493.8,811.9 494.2,813.7 494.6,813.7 495.0,813.5 495.4,813.4 495.8,812.2 496.2,813.2 496.6,813.3 497.0,813.4 497.4,813.3 497.8,813.4 498.2,812.1 498.6,812.6 499.0,811.5 499.4,812.8 499.8,811.1 500.2,813.5 500.6,811.6 501.0,811.7 501.4,813.4 501.8,813.7 502.1,809.5 502.5,812.9 502.9,813.5 503.3,812.0 503.7,812.9 504.1,813.1 504.5,813.4 504.9,809.5 505.3,812.0 505.7,813.2 506.1,813.5 506.5,813.5 506.9,812.2 507.3,813.4 507.7,813.2 508.1,813.2 508.5,813.0 508.9,810.7 509.3,813.2 509.7,812.7 510.1,813.6 510.5,813.4 510.9,813.2 511.2,813.3 511.6,813.7 512.0,813.4 512.4,811.8 512.8,811.8 513.2,811.1 513.6,813.6 514.0,812.8 514.4,813.0 514.8,813.5 515.2,813.6 515.6,813.8 516.0,812.7 516.4,812.9 516.8,812.0 517.2,813.5 517.6,813.6 518.0,813.3 518.4,813.5 518.8,813.4 519.2,813.2 519.6,813.6 520.0,813.0 520.3,811.3 520.7,812.3 521.1,813.8 521.5,813.6 521.9,812.8 522.3,812.6 522.7,813.2 523.1,813.8 523.5,813.5 523.9,813.0 524.3,813.7 524.7,813.0 525.1,812.3 525.5,812.3 525.9,813.8 526.3,813.4 526.7,813.4 527.1,813.1 527.5,813.1 527.9,813.1 528.3,813.2 528.7,812.9 529.1,813.6 529.4,813.4 529.8,811.9 530.2,813.4 530.6,813.7 531.0,812.6 531.4,813.4 531.8,812.5 532.2,812.0 532.6,813.6 533.0,813.3 533.4,812.6 533.8,813.3 534.2,811.8 534.6,813.0 535.0,811.5 535.4,813.7 535.8,813.8 536.2,812.8 536.6,813.3 537.0,809.5 537.4,813.6 537.8,812.2 538.1,813.8 538.5,813.4 538.9,813.6 539.3,813.6 539.7,813.5 540.1,813.7 540.5,812.8 540.9,813.4 541.3,812.0 541.7,812.0 542.1,813.7 542.5,813.6 542.9,813.2 543.3,811.8 543.7,813.2 544.1,813.0 544.5,813.2 544.9,813.4 545.3,813.3 545.7,810.8 546.1,813.4 546.5,811.0 546.9,812.8 547.2,812.3 547.6,813.1 548.0,812.7 548.4,813.7 548.8,813.4 549.2,813.5 549.6,813.2 550.0,813.4 550.4,812.5 550.8,812.1 551.2,813.1 551.6,812.8 552.0,812.8 552.4,813.2 552.8,811.8 553.2,812.7 553.6,810.6 554.0,813.4 554.4,813.3 554.8,813.6 555.2,812.9 555.6,812.1 556.0,813.3 556.3,812.6 556.7,813.3 557.1,813.5 557.5,813.5 557.9,812.2 558.3,813.6 558.7,812.2 559.1,812.9 559.5,812.3 559.9,812.7 560.3,813.5 560.7,813.2 561.1,813.5 561.5,813.5 561.9,813.5 562.3,813.6 562.7,812.0 563.1,810.4 563.5,813.3 563.9,812.9 564.3,812.8 564.7,813.5 565.1,813.3 565.4,813.3 565.8,813.4 566.2,813.1 566.6,813.3 567.0,813.2 567.4,813.0 567.8,812.5 568.2,809.3 568.6,812.1 569.0,812.3 569.4,812.7 569.8,811.7 570.2,812.5 570.6,812.4 571.0,811.9 571.4,811.9 571.8,809.8 572.2,810.9 572.6,808.3 573.0,808.8 573.4,808.3 573.8,804.9 574.1,800.1 574.5,789.6 574.9,770.4 575.3,743.4 575.7,719.4 576.1,719.4 576.5,743.4 576.9,770.4 577.3,789.6 577.7,800.1 578.1,805.5 578.5,807.9 578.9,808.8 579.3,809.8 579.7,810.8 580.1,811.6 580.5,812.0 580.9,809.8 581.3,811.7 581.7,811.3 582.1,812.7 582.5,812.6 582.9,812.4 583.2,812.7 583.6,813.1 584.0,810.3 584.4,812.0 584.8,812.2 585.2,812.9 585.6,812.7 586.0,812.6 586.4,813.2 586.8,812.9 587.2,813.1 587.6,811.5 588.0,813.4 588.4,812.7 588.8,812.7 589.2,813.0 589.6,811.7 590.0,813.4 590.4,812.3 590.8,813.3 591.2,812.9 591.6,812.9 592.0,812.2 592.3,813.0 592.7,811.7 593.1,813.0 593.5,813.6 593.9,812.2 594.3,813.3 594.7,813.2 595.1,812.6 595.5,813.4 595.9,813.3 596.3,812.7 596.7,813.5 597.1,812.8 597.5,812.6 597.9,812.0 598.3,812.9 598.7,813.7 599.1,813.6 599.5,813.3 599.9,813.6 600.3,813.6 600.7,813.7 601.0,811.3 601.4,813.7 601.8,813.2 602.2,811.2 602.6,811.6 603.0,813.6 603.4,813.3 603.8,812.8 604.2,812.2 604.6,813.6 605.0,813.5 605.4,812.7 605.8,813.6 606.2,813.3 606.6,813.2 607.0,813.3 607.4,812.6 607.8,810.7 608.2,812.9 608.6,812.6 609.0,813.0 609.4,813.0 609.8,813.7 610.1,813.0 610.5,813.6 610.9,813.3 611.3,811.8 611.7,813.1 612.1,811.1 612.5,813.3 612.9,813.5 613.3,813.3 613.7,813.0 614.1,811.4 614.5,813.7 614.9,813.2 615.3,813.3 615.7,813.4 616.1,813.7 616.5,813.7 616.9,813.4 617.3,812.8 617.7,810.8 618.1,812.8 618.5,813.6 618.9,813.6 619.2,813.4 619.6,813.1 620.0,813.2 620.4,813.7 620.8,813.5 621.2,813.2 621.6,813.7 622.0,813.3 622.4,813.5 622.8,813.7 623.2,813.4 623.6,812.6 624.0,813.4 624.4,812.8 624.8,810.0 625.2,813.5 625.6,811.4 626.0,813.3 626.4,813.4 626.8,813.4 627.2,813.6 627.6,812.1 628.0,813.3 628.3,813.7 628.7,812.6 629.1,812.8 629.5,813.0 629.9,813.4 630.3,813.5 630.7,812.2 631.1,811.3 631.5,813.4 631.9,813.7 632.3,812.5 632.7,813.6 633.1,813.0 633.5,813.1 633.9,812.5 634.3,812.8 634.7,812.4 635.1,809.6 635.5,813.6 635.9,813.5 636.3,813.6 636.7,813.4 637.0,812.4 637.4,813.3 637.8,813.6 638.2,812.7 638.6,811.9 639.0,812.9 639.4,813.3 639.8,812.7 640.2,812.9 640.6,813.6 641.0,813.3 641.4,812.2 641.8,813.5 642.2,813.5 642.6,810.7 643.0,812.3 643.4,812.9 643.8,813.2 644.2,813.4 644.6,813.6 645.0,812.0 645.4,812.9 645.8,812.9 646.1,813.5 646.5,813.5 646.9,812.8 647.3,811.6 647.7,810.4 648.1,811.3 648.5,812.5 648.9,812.8 649.3,811.5 649.7,813.6 650.1,813.4 650.5,813.5 650.9,810.7 651.3,813.7 651.7,812.9 652.1,812.7 652.5,810.9 652.9,811.6 653.3,812.1 653.7,812.9 654.1,812.3 654.5,813.3 654.9,813.0 655.2,813.4 655.6,812.9 656.0,812.4 656.4,812.9 656.8,812.6 657.2,811.3 657.6,812.5 658.0,812.8 658.4,813.4 658.8,812.4 659.2,813.1 659.6,813.4 660.0,813.4 660.4,811.0 660.8,813.0 661.2,813.3 661.6,812.9 662.0,812.6 662.4,812.2 662.8,811.1 663.2,813.3 663.6,812.7 664.0,813.5 664.3,813.2 664.7,812.7 665.1,813.3 665.5,813.5 665.9,812.8 666.3,812.2 666.7,812.8 667.1,813.4 667.5,813.2 667.9,813.1 668.3,812.8 668.7,811.7 669.1,812.5 669.5,812.1 669.9,812.6 670.3,813.0 670.7,812.9 671.1,813.1 671.5,813.0 671.9,812.2 672.3,813.0 672.7,812.6 673.0,812.9 673.4,812.8 673.8,812.9 674.2,809.1 674.6,810.5 675.0,811.8 675.4,810.6 675.8,812.1 676.2,812.1 676.6,812.2 677.0,810.8 677.4,810.0 677.8,811.5 678.2,809.6 678.6,811.5 679.0,810.0 679.4,811.3 679.8,810.4 680.2,810.6 680.6,809.4 681.0,807.4 681.4,808.8 681.8,807.7 682.1,807.0 682.5,804.6 682.9,803.2 683.3,800.2 683.7,796.1 684.1,788.5 684.5,772.7 684.9,739.5 685.3,679.2 685.7,594.2 686.1,518.8 686.5,518.8 686.9,594.2 687.3,679.2 687.7,739.5 688.1,772.7 688.5,788.5 688.9,796.1 689.3,800.2 689.7,803.4 690.1,805.5 690.5,806.4 690.9,806.8 691.2,807.0 691.6,809.3 692.0,808.3 692.4,809.0 692.8,806.7 693.2,811.0 693.6,810.7 694.0,811.6 694.4,810.9 694.8,812.1 695.2,810.9 695.6,811.8 696.0,811.5 696.4,811.8 696.8,811.3 697.2,812.4 697.6,812.4 698.0,812.6 698.4,812.7 698.8,810.8 699.2,811.7 699.6,810.2 699.9,812.6 700.3,812.3 700.7,811.6 701.1,813.1 701.5,812.9 701.9,812.9 702.3,811.9 702.7,810.9 703.1,813.3 703.5,810.9 703.9,809.6 704.3,812.1 704.7,813.1 705.1,812.4 705.5,813.3 705.9,812.9 706.3,811.9 706.7,812.7 707.1,811.4 707.5,811.8 707.9,813.3 708.3,809.2 708.7,812.7 709.0,811.1 709.4,812.1 709.8,812.6 710.2,813.4 710.6,813.2 711.0,813.3 711.4,812.9 711.8,811.4 712.2,812.7 712.6,811.1 713.0,812.2 713.4,811.3 713.8,812.5 714.2,811.8 714.6,812.9 715.0,813.1 715.4,812.6 715.8,810.8 716.2,813.0 716.6,812.8 717.0,812.6 717.4,812.0 717.8,811.4 718.1,810.9 718.5,808.1 718.9,805.3 719.3,798.7 719.7,791.5 720.1,787.9 720.5,791.5 720.9,798.7 721.3,804.6 721.7,808.6 722.1,809.6 722.5,811.6 722.9,812.5 723.3,811.9 723.7,812.8 724.1,812.8 724.5,813.1 724.9,812.7 725.3,810.5 725.7,813.2 726.1,811.8 726.5,812.9 726.9,811.3 727.2,809.9 727.6,811.2 728.0,812.9 728.4,810.6 728.8,812.6 729.2,813.0 729.6,812.7 730.0,810.8 730.4,811.4 730.8,812.5 731.2,812.1 731.6,812.5 732.0,812.3 732.4,813.2 732.8,813.2 733.2,813.6 733.6,813.1 734.0,813.5 734.4,811.2 734.8,811.4 735.2,813.4 735.6,813.5 735.9,813.6 736.3,812.3 736.7,812.1 737.1,813.4 737.5,813.5 737.9,813.5 738.3,813.1 738.7,813.6 739.1,813.7 739.5,813.3 739.9,813.2 740.3,811.0 740.7,809.5 741.1,812.6 741.5,813.2 741.9,813.5 742.3,812.6 742.7,813.3 743.1,812.4 743.5,812.4 743.9,813.7 744.3,811.9 744.7,812.9 745.0,813.4 745.4,813.1 745.8,813.6 746.2,813.5 746.6,813.1 747.0,813.3 747.4,813.7 747.8,813.2 748.2,813.2 748.6,813.1 749.0,813.0 749.4,813.6 749.8,813.7 750.2,810.8 750.6,813.7 751.0,813.5 751.4,812.7 751.8,813.6 752.2,813.3 752.6,812.7 753.0,813.6 753.4,813.2 753.8,813.1 754.1,811.8 754.5,813.7 754.9,813.6 755.3,813.6 755.7,813.6 756.1,813.6 756.5,813.6 756.9,811.7 757.3,812.4 757.7,812.7 758.1,812.6 758.5,811.7 758.9,811.9 759.3,809.7 759.7,813.2 760.1,813.5 760.5,813.1 760.9,813.4 761.3,813.2 761.7,812.1 762.1,812.6 762.5,813.1 762.9,813.2 763.2,813.6 763.6,813.4 764.0,812.9 764.4,810.7 764.8,812.4 765.2,813.5 765.6,813.6 766.0,813.0 766.4,813.3 766.8,811.7 767.2,813.5 767.6,812.7 768.0,813.4 768.4,813.1 768.8,813.5 769.2,813.5 769.6,809.5 770.0,812.8 770.4,813.4 770.8,812.4 771.2,813.6 771.6,813.6 771.9,812.1 772.3,813.4 772.7,813.3 773.1,813.7 773.5,809.5 773.9,812.4 774.3,813.0 774.7,812.4 775.1,813.4 775.5,813.0 775.9,813.7 776.3,813.1 776.7,813.0 777.1,813.1 777.5,813.3 777.9,813.7 778.3,813.8 778.7,811.4 779.1,811.9 779.5,813.8 779.9,812.8 780.3,813.4 780.7,813.1 781.0,813.7 781.4,811.9 781.8,813.2 782.2,812.6 782.6,813.0 783.0,813.7 783.4,813.7 783.8,813.1 784.2,813.2 784.6,813.8 785.0,811.5 785.4,812.9 785.8,813.7 786.2,813.7 786.6,813.2 787.0,810.6 787.4,813.1 787.8,812.6 788.2,813.0 788.6,811.9 789.0,812.1 789.4,812.9 789.8,813.0 790.1,811.7 790.5,812.9 790.9,813.4 791.3,812.3 791.7,813.4 792.1,813.5 792.5,813.2 792.9,813.4 793.3,813.0 793.7,813.5 794.1,813.1 794.5,813.6 794.9,813.7 795.3,812.2 795.7,811.6 796.1,811.9 796.5,813.4 796.9,812.8 797.3,813.8 797.7,813.7 798.1,813.6 798.5,813.3 798.8,813.6 799.2,813.7 799.6,812.6 800.0,813.8 800.4,811.7 800.8,813.7 801.2,813.2 801.6,812.1 802.0,813.2 802.4,812.7 802.8,813.3 803.2,813.4 803.6,813.6 804.0,813.5 804.4,813.2 804.8,813.3 805.2,813.6 805.6,813.7 806.0,813.7 806.4,813.7 806.8,812.8 807.2,813.5 807.6,812.8 807.9,813.6 808.3,813.1 808.7,813.1 809.1,813.6 809.5,813.6 809.9,813.7 810.3,813.4 810.7,811.4 811.1,812.3 811.5,813.2 811.9,813.5 812.3,813.4 812.7,812.4 813.1,813.6 813.5,813.3 813.9,813.6 814.3,811.4 814.7,813.4 815.1,812.5 815.5,813.7 815.9,812.0 816.3,812.6 816.7,813.6 817.0,813.5 817.4,813.2 817.8,811.8 818.2,813.7 818.6,813.0 819.0,813.5 819.4,812.9 819.8,813.0 820.2,811.2 820.6,813.1 821.0,813.4 821.4,813.6 821.8,812.8 822.2,812.9 822.6,812.8 823.0,813.2 823.4,813.7 823.8,811.4 824.2,813.7 824.6,812.3 825.0,813.2 825.4,813.5 825.8,813.6 826.1,813.4 826.5,812.7 826.9,813.3 827.3,813.5 827.7,812.5 828.1,811.7 828.5,813.2 828.9,813.7 829.3,811.4 829.7,813.3 830.1,813.6 830.5,813.0 830.9,813.3 831.3,813.5 831.7,813.4 832.1,813.2 832.5,813.4 832.9,813.4 833.3,812.5 833.7,813.2 834.1,813.4 834.5,812.7 834.8,813.4 835.2,811.2 835.6,813.1 836.0,810.4 836.4,813.2 836.8,812.7 837.2,812.7 837.6,812.8 838.0,812.9 838.4,813.0 838.8,812.5 839.2,812.2 839.6,812.1 840.0,812.3 840.4,812.0 840.8,808.8 841.2,809.0 841.6,809.9 842.0,808.4 842.4,804.9 842.8,797.1 843.2,784.1 843.6,765.7 843.9,749.4 844.3,749.4 844.7,765.7 845.1,784.1 845.5,797.1 845.9,802.9 846.3,807.0 846.7,809.6 847.1,811.0 847.5,811.5 847.9,811.7 848.3,811.8 848.7,811.8 849.1,810.5 849.5,812.5 849.9,812.6 850.3,811.8 850.7,812.6 851.1,812.7 851.5,813.2 851.9,812.3 852.3,813.0 852.7,813.1 853.0,812.6 853.4,813.4 853.8,813.5 854.2,813.3 854.6,813.5 855.0,813.1 855.4,813.4 855.8,813.0 856.2,813.0 856.6,812.4 857.0,813.5 857.4,812.7 857.8,812.5 858.2,812.2 858.6,811.1 859.0,809.6 859.4,813.1 859.8,813.4 860.2,812.9 860.6,812.3 861.0,813.6 861.4,812.8 861.8,809.5 862.1,813.5 862.5,813.7 862.9,812.9 863.3,813.7 863.7,812.4 864.1,812.4 864.5,813.0 864.9,813.7 865.3,813.2 865.7,812.8 866.1,813.0 866.5,813.5 866.9,813.4 867.3,813.1 867.7,812.5 868.1,812.2 868.5,812.3 868.9,812.9 869.3,813.3 869.7,813.5 870.1,811.9 870.5,812.6 870.8,813.2 871.2,813.6 871.6,813.7 872.0,813.6 872.4,813.2 872.8,812.0 873.2,812.8 873.6,811.1 874.0,811.8 874.4,813.7 874.8,813.7 875.2,813.8 875.6,813.8 876.0,811.6 876.4,813.6 876.8,812.0 877.2,813.7 877.6,813.6 878.0,813.7 878.4,812.8 878.8,813.1 879.2,812.3 879.6,813.3 879.9,813.8 880.3,812.3 880.7,812.5 881.1,812.3 881.5,812.6 881.9,813.7 882.3,812.6 882.7,812.4 883.1,813.7 883.5,812.1 883.9,813.4 884.3,812.1 884.7,812.4 885.1,813.6 885.5,813.3 885.9,812.4 886.3,810.1 886.7,813.0 887.1,813.6 887.5,813.4 887.9,813.5 888.3,812.0 888.7,811.7 889.0,812.8 889.4,813.6 889.8,813.1 890.2,813.3 890.6,812.6 891.0,812.7 891.4,812.3 891.8,813.0 892.2,813.7 892.6,812.5 893.0,813.4 893.4,812.3 893.8,813.6 894.2,813.3 894.6,813.1 895.0,813.2 895.4,812.1 895.8,813.6 896.2,813.1 896.6,813.2 897.0,813.4 897.4,813.6 897.7,813.5 898.1,813.3 898.5,812.7 898.9,813.7 899.3,813.7 899.7,812.6 900.1,813.8 900.5,813.4 900.9,813.8 901.3,813.7 901.7,813.6 902.1,813.6 902.5,813.6 902.9,812.8 903.3,812.6 903.7,813.0 904.1,811.4 904.5,813.1 904.9,811.5 905.3,813.8 905.7,813.2 906.1,812.1 906.5,813.7 906.8,812.8 907.2,813.7 907.6,813.0 908.0,811.7 908.4,813.5 908.8,813.7 909.2,812.8 909.6,811.4 910.0,812.9 910.4,813.6 910.8,813.0 911.2,813.8 911.6,813.5 912.0,813.4 912.4,812.6 912.8,813.7 913.2,813.6 913.6,813.8 914.0,812.8 914.4,813.1 914.8,813.8 915.2,813.2 915.6,813.7 915.9,812.9 916.3,813.2 916.7,813.6 917.1,812.3 917.5,813.4 917.9,813.3 918.3,813.0 918.7,813.7 919.1,813.5 919.5,813.6 919.9,813.8 920.3,813.6 920.7,813.2 921.1,813.7 921.5,812.4 921.9,812.9 922.3,812.8 922.7,813.3 923.1,813.4 923.5,812.8 923.9,813.4 924.3,813.6 924.7,813.0 925.0,813.6 925.4,813.7 925.8,813.8 926.2,809.5 926.6,813.4 927.0,813.4 927.4,813.6 927.8,813.6 928.2,813.6 928.6,813.1 929.0,812.8 929.4,812.5 929.8,812.0 930.2,813.2 930.6,813.5 931.0,812.7 931.4,813.5 931.8,812.7 932.2,813.7 932.6,813.3 933.0,810.6 933.4,813.7 933.7,812.6 934.1,813.5 934.5,813.6 934.9,813.0 935.3,812.7 935.7,813.6 936.1,811.2 936.5,811.9 936.9,812.6 937.3,812.7 937.7,813.5 938.1,813.5 938.5,813.8 938.9,813.0 939.3,811.8 939.7,811.6 940.1,813.8 940.5,812.6 940.9,813.5 941.3,813.7 941.7,811.9 942.1,813.0 942.5,813.0 942.8,813.2 943.2,813.5 943.6,813.3 944.0,813.4 944.4,813.6 944.8,813.6 945.2,813.5 945.6,813.8 946.0,813.7 946.4,813.6 946.8,813.5 947.2,811.1 947.6,812.3 948.0,812.2 948.4,813.1 948.8,812.8 949.2,813.0 949.6,813.3 950.0,810.4 950.4,813.0 950.8,811.7 951.2,813.7 951.6,812.6 951.9,813.3 952.3,810.4 952.7,813.2 953.1,813.6 953.5,809.7 953.9,811.7 954.3,813.5 954.7,813.1 955.1,813.5 955.5,813.3 955.9,810.4 956.3,813.7 956.7,813.6 957.1,813.1 957.5,811.6 957.9,813.6 958.3,812.9 958.7,812.3 959.1,813.3 959.5,813.0 959.9,813.8 960.3,811.9 960.7,813.6 961.0,813.1 961.4,813.8 961.8,813.5 962.2,813.6 962.6,812.6 963.0,813.1 963.4,811.9 963.8,813.3 964.2,813.3 964.6,813.2 965.0,811.3 965.4,812.0 965.8,813.5 966.2,813.8 966.6,812.2 967.0,813.2 967.4,813.7 967.8,811.3 968.2,813.7 968.6,812.2 969.0,812.9 969.4,810.0 969.7,811.9 970.1,812.7 970.5,813.7 970.9,812.3 971.3,810.0 971.7,813.4 972.1,812.3 972.5,812.8 972.9,813.7 973.3,813.1 973.7,813.6 974.1,813.6 974.5,813.3 974.9,812.3 975.3,809.7 975.7,812.9 976.1,812.2 976.5,813.1 976.9,813.3 977.3,813.5 977.7,813.4 978.1,813.1 978.5,813.7 978.8,813.6 979.2,812.1 979.6,813.3 980.0,813.5 980.4,813.6 980.8,813.7 981.2,813.5 981.6,811.6 982.0,813.5 982.4,811.7 982.8,811.7 983.2,813.7 983.6,813.5 984.0,813.6 984.4,812.8 984.8,812.8 985.2,812.6 985.6,813.1 986.0,813.3 986.4,812.9 986.8,813.8 987.2,813.0 987.6,811.6 987.9,813.1 988.3,813.3 988.7,813.7 989.1,812.6 989.5,813.0 989.9,813.5 990.3,813.3 990.7,811.3 991.1,813.2 991.5,812.6 991.9,813.6 992.3,813.7 992.7,813.6 993.1,813.1 993.5,813.8 993.9,810.4 994.3,813.5 994.7,813.2 995.1,813.1 995.5,813.6 995.9,813.6 996.3,813.6 996.6,813.6 997.0,813.3 997.4,813.2 997.8,812.8 998.2,813.6 998.6,813.3 999.0,813.5 999.4,813.5 999.8,813.1 1000.2,812.7 1000.6,813.8 1001.0,813.2 1001.4,811.8 1001.8,813.1 1002.2,813.7 1002.6,813.2 1003.0,812.7 1003.4,813.2 1003.8,813.7 1004.2,813.2 1004.6,813.6 1005.0,813.4 1005.4,813.5 1005.7,813.2 1006.1,812.5 1006.5,813.1 1006.9,813.6 1007.3,810.5 1007.7,813.3 1008.1,813.7 1008.5,813.7 1008.9,812.5 1009.3,813.3 1009.7,813.6 1010.1,813.0 1010.5,813.7 1010.9,813.6 1011.3,812.9 1011.7,813.0 1012.1,812.3 1012.5,813.4 1012.9,813.0 1013.3,813.7 1013.7,813.6 1014.1,812.6 1014.5,813.6 1014.8,810.4 1015.2,813.4 1015.6,812.3 1016.0,813.3 1016.4,813.0 1016.8,813.0 1017.2,813.3 1017.6,809.9 1018.0,813.0 1018.4,812.7 1018.8,813.6 1019.2,813.6 1019.6,813.1 1020.0,813.0 1020.4,813.6 1020.8,813.7 1021.2,812.9 1021.6,813.3 1022.0,813.1 1022.4,813.0 1022.8,813.6 1023.2,812.2 1023.6,812.0 1023.9,813.6 1024.3,813.4 1024.7,812.3 1025.1,811.2 1025.5,813.5 1025.9,813.1 1026.3,813.7 1026.7,813.4 1027.1,813.0 1027.5,813.4 1027.9,811.9 1028.3,812.1 1028.7,812.9 1029.1,812.9 1029.5,813.2 1029.9,813.5 1030.3,813.7 1030.7,813.2 1031.1,812.7 1031.5,813.5 1031.9,813.7 1032.3,813.8 1032.6,813.7 1033.0,813.2 1033.4,812.4 1033.8,813.7 1034.2,812.7 1034.6,811.3 1035.0,812.7 1035.4,810.3 1035.8,811.4 1036.2,813.2 1036.6,813.6 1037.0,813.3 1037.4,810.4 1037.8,811.9 1038.2,813.1 1038.6,812.9 1039.0,812.9 1039.4,811.9 1039.8,813.7 1040.2,812.1 1040.6,813.7 1041.0,812.8 1041.4,813.4 1041.7,813.4 1042.1,813.7 1042.5,813.1 1042.9,813.2 1043.3,813.1 1043.7,812.8 1044.1,813.5 1044.5,813.2 1044.9,813.5 1045.3,813.7 1045.7,813.2 1046.1,812.2 1046.5,813.0 1046.9,813.4 1047.3,812.7 1047.7,813.4 1048.1,813.5 1048.5,812.8 1048.9,813.3 1049.3,813.6 1049.7,813.0 1050.1,812.5 1050.5,813.3 1050.8,812.4 1051.2,812.1 1051.6,811.9 1052.0,813.3 1052.4,813.4 1052.8,813.2 1053.2,811.9 1053.6,811.4 1054.0,812.7 1054.4,811.0 1054.8,813.2 1055.2,813.1 1055.6,811.4 1056.0,812.6 1056.4,810.9 1056.8,811.5 1057.2,809.9 1057.6,805.9 1058.0,800.3 1058.4,793.9 1058.8,790.7 1059.2,793.9 1059.6,800.3 1059.9,805.4 1060.3,805.7 1060.7,810.4 1061.1,811.1 1061.5,810.0 1061.9,811.5 1062.3,812.8 1062.7,812.9 1063.1,812.0 1063.5,813.0 1063.9,812.9 1064.3,812.2 1064.7,812.3 1065.1,812.8 1065.5,812.5 1065.9,811.8 1066.3,813.5 1066.7,813.6 1067.1,812.7 1067.5,813.5 1067.9,813.2 1068.3,812.3 1068.6,813.1 1069.0,813.6 1069.4,812.8 1069.8,810.0 1070.2,812.7 1070.6,812.7 1071.0,813.5 1071.4,813.6 1071.8,812.9 1072.2,813.1 1072.6,813.2 1073.0,813.6 1073.4,813.0 1073.8,812.1 1074.2,813.6 1074.6,813.7 1075.0,813.7 1075.4,812.7 1075.8,812.8 1076.2,813.5 1076.6,812.2 1077.0,812.2 1077.4,813.4 1077.7,812.9 1078.1,813.7 1078.5,812.5 1078.9,813.0 1079.3,813.7 1079.7,812.5 1080.1,813.1 1080.5,813.7 1080.9,813.1 1081.3,813.2 1081.7,812.8 1082.1,813.7 1082.5,813.0 1082.9,813.5 1083.3,813.6 1083.7,813.4 1084.1,812.5 1084.5,813.4 1084.9,813.2 1085.3,812.7 1085.7,813.7 1086.1,813.2 1086.5,812.9 1086.8,813.6 1087.2,813.6 1087.6,813.4 1088.0,813.3 1088.4,813.2 1088.8,813.4 1089.2,813.0 1089.6,812.8 1090.0,813.3 1090.4,811.3 1090.8,813.2 1091.2,811.5 1091.6,813.7 1092.0,813.4 1092.4,813.1 1092.8,813.5 1093.2,812.5 1093.6,811.8 1094.0,813.7 1094.4,812.5 1094.8,813.8 1095.2,813.3 1095.5,813.5 1095.9,813.6 1096.3,813.4 1096.7,812.2 1097.1,813.7 1097.5,811.1 1097.9,813.1 1098.3,813.4 1098.7,813.7 1099.1,811.8 1099.5,813.7 1099.9,813.1 1100.3,813.5 1100.7,813.2 1101.1,813.1 1101.5,813.2 1101.9,813.4 1102.3,813.5 1102.7,813.3 1103.1,813.7 1103.5,813.5 1103.9,813.7 1104.3,812.5 1104.6,813.6 1105.0,811.9 1105.4,813.4 1105.8,812.4 1106.2,812.9 1106.6,813.6 1107.0,813.4 1107.4,813.2 1107.8,813.7 1108.2,813.7 1108.6,812.3 1109.0,809.5 1109.4,813.5 1109.8,813.1 1110.2,812.7 1110.6,813.0 1111.0,813.4 1111.4,812.9 1111.8,813.6 1112.2,812.6 1112.6,813.7 1113.0,811.5 1113.4,813.2 1113.7,810.6 1114.1,811.7 1114.5,812.3 1114.9,812.9 1115.3,812.5 1115.7,809.8 1116.1,813.1 1116.5,811.9 1116.9,813.3 1117.3,813.5 1117.7,813.2 1118.1,813.2 1118.5,811.1 1118.9,813.2 1119.3,813.3 1119.7,813.5 1120.1,812.6 1120.5,812.0 1120.9,813.1 1121.3,813.0 1121.7,809.2 1122.1,813.4 1122.5,811.4 1122.8,812.6 1123.2,812.9 1123.6,813.2 1124.0,811.7 1124.4,812.9 1124.8,812.5 1125.2,813.0 1125.6,812.1 1126.0,809.2 1126.4,811.6 1126.8,812.1 1127.2,810.5 1127.6,810.2 1128.0,810.3 1128.4,810.5 1128.8,810.2 1129.2,809.3 1129.6,807.8 1130.0,804.2 1130.4,797.0 1130.8,783.4 1131.2,761.5 1131.5,735.7 1131.9,722.4 1132.3,735.7 1132.7,761.5 1133.1,783.4 1133.5,797.0 1133.9,802.5 1134.3,807.9 1134.7,809.2 1135.1,810.2 1135.5,808.6 1135.9,811.4 1136.3,811.8 1136.7,812.2 1137.1,811.2 1137.5,810.0 1137.9,811.1 1138.3,812.4 1138.7,811.8 1139.1,811.6 1139.5,812.6 1139.9,813.0 1140.3,813.2 1140.6,811.7 1141.0,812.9 1141.4,812.2 1141.8,812.1 1142.2,813.3 1142.6,811.0 1143.0,813.1 1143.4,813.0 1143.8,812.7 1144.2,810.8 1144.6,813.5 1145.0,813.4 1145.4,812.2 1145.8,812.4 1146.2,813.3 1146.6,810.6 1147.0,812.8 1147.4,813.2 1147.8,813.4 1148.2,813.2 1148.6,812.8 1149.0,813.4 1149.4,813.0 1149.7,813.2 1150.1,812.7 1150.5,813.0 1150.9,813.4 1151.3,813.4 1151.7,812.3 1152.1,812.1 1152.5,812.7 1152.9,813.4 1153.3,813.4 1153.7,812.8 1154.1,811.0 1154.5,812.6 1154.9,810.2 1155.3,812.8 1155.7,813.3 1156.1,812.0 1156.5,813.6 1156.9,813.5 1157.3,811.6 1157.7,811.7 1158.1,813.7 1158.5,813.5 1158.8,813.6 1159.2,811.1 1159.6,813.7 1160.0,813.7 1160.4,812.9 1160.8,809.5 1161.2,813.6 1161.6,813.2 1162.0,812.0 1162.4,810.4 1162.8,813.3 1163.2,813.5 1163.6,813.1 1164.0,813.1 1164.4,813.4 1164.8,813.2 1165.2,812.9 1165.6,812.6 1166.0,813.3 1166.4,813.0 1166.8,812.6 1167.2,813.6 1167.5,812.7 1167.9,813.2 1168.3,813.4 1168.7,810.0 1169.1,811.7 1169.5,813.0 1169.9,812.8 1170.3,813.5 1170.7,813.6 1171.1,813.4 1171.5,812.3 1171.9,812.1 1172.3,811.2 1172.7,813.4 1173.1,811.6 1173.5,813.1 1173.9,813.6 1174.3,812.5 1174.7,813.4 1175.1,813.2 1175.5,812.3 1175.9,812.8 1176.3,813.5 1176.6,813.7 1177.0,813.4 1177.4,812.7 1177.8,813.7 1178.2,812.9 1178.6,813.4 1179.0,813.7 1179.4,812.5 1179.8,812.7 1180.2,813.0 1180.6,812.5 1181.0,812.7 1181.4,813.5 1181.8,812.8 1182.2,813.3 1182.6,811.8 1183.0,813.2 1183.4,812.3 1183.8,813.4 1184.2,812.3 1184.6,813.3 1185.0,813.7 1185.4,813.2 1185.7,813.8 1186.1,813.3 1186.5,813.7 1186.9,812.6 1187.3,810.1 1187.7,813.7 1188.1,813.3 1188.5,812.3 1188.9,812.5 1189.3,812.8 1189.7,811.2 1190.1,813.1 1190.5,813.6 1190.9,812.4 1191.3,812.7 1191.7,812.3 1192.1,813.5 1192.5,812.4 1192.9,813.0 1193.3,813.4 1193.7,813.6 1194.1,812.8 1194.4,812.8 1194.8,813.3 1195.2,813.7 1195.6,813.7 1196.0,813.5 1196.4,813.7 1196.8,813.6 1197.2,811.5 1197.6,813.7 1198.0,812.1 1198.4,813.7 1198.8,812.0 1199.2,813.5 1199.6,812.9 1200.0,813.8 1200.4,812.8 1200.8,813.4 1201.2,812.1 1201.6,812.9 1202.0,812.8 1202.4,813.4 1202.8,813.5 1203.2,813.7 1203.5,812.9 1203.9,813.1 1204.3,813.5 1204.7,813.6 1205.1,812.9 1205.5,813.4 1205.9,813.7 1206.3,813.1 1206.7,813.6 1207.1,812.7 1207.5,811.3 1207.9,811.3 1208.3,811.8 1208.7,813.7 1209.1,813.4 1209.5,812.3 1209.9,813.4 1210.3,813.3 1210.7,810.7 1211.1,813.7 1211.5,812.1 1211.9,813.5 1212.3,813.3 1212.6,812.0 1213.0,812.2 1213.4,812.4 1213.8,813.5 1214.2,813.0 1214.6,812.3 1215.0,812.8 1215.4,813.3 1215.8,813.4 1216.2,813.7 1216.6,812.5 1217.0,813.7 1217.4,811.7 1217.8,812.5 1218.2,811.9 1218.6,812.9 1219.0,813.0 1219.4,813.3 1219.8,812.9 1220.2,812.7 1220.6,813.3 1221.0,811.3 1221.4,813.6 1221.7,812.6 1222.1,813.1 1222.5,812.5 1222.9,813.3 1223.3,813.4 1223.7,813.4 1224.1,813.6 1224.5,812.0 1224.9,813.7 1225.3,813.3 1225.7,812.5 1226.1,812.7 1226.5,813.7 1226.9,813.3 1227.3,812.5 1227.7,812.4 1228.1,811.8 1228.5,813.2 1228.9,812.6 1229.3,813.4 1229.7,811.4 1230.1,812.7 1230.4,813.5 1230.8,812.0 1231.2,811.8 1231.6,813.4 1232.0,813.3 1232.4,813.6 1232.8,813.6 1233.2,812.7 1233.6,811.2 1234.0,813.4 1234.4,812.7 1234.8,812.5 1235.2,813.3 1235.6,811.4 1236.0,813.3 1236.4,812.3 1236.8,813.3 1237.2,813.2 1237.6,812.4 1238.0,813.3 1238.4,813.0 1238.8,813.1 1239.2,812.6 1239.5,811.1 1239.9,809.5 1240.3,812.2 1240.7,813.1 1241.1,811.7 1241.5,813.0 1241.9,812.8 1242.3,810.9 1242.7,812.1 1243.1,811.2 1243.5,810.2 1243.9,811.9 1244.3,811.6 1244.7,811.1 1245.1,810.7 1245.5,809.7 1245.9,808.6 1246.3,806.8 1246.7,803.0 1247.1,794.6 1247.5,779.0 1247.9,753.7 1248.3,724.0 1248.6,708.8 1249.0,724.0 1249.4,753.7 1249.8,779.0 1250.2,794.6 1250.6,803.3 1251.0,806.9 1251.4,808.8 1251.8,809.4 1252.2,808.9 1252.6,809.7 1253.0,809.8 1253.4,811.4 1253.8,811.5 1254.2,812.5 1254.6,812.0 1255.0,810.9 1255.4,810.7 1255.8,812.4 1256.2,812.5 1256.6,812.7 1257.0,813.0 1257.4,811.9 1257.7,813.0 1258.1,811.8 1258.5,812.7 1258.9,812.5 1259.3,813.0 1259.7,813.1 1260.1,811.1 1260.5,813.3 1260.9,812.9 1261.3,812.3 1261.7,813.0 1262.1,812.6 1262.5,813.4 1262.9,813.2 1263.3,810.8 1263.7,813.5 1264.1,812.6 1264.5,813.2 1264.9,813.3 1265.3,813.6 1265.7,812.4 1266.1,811.7 1266.4,811.8 1266.8,813.5 1267.2,812.9 1267.6,813.1 1268.0,812.9 1268.4,813.6 1268.8,813.7 1269.2,813.1 1269.6,813.6 1270.0,813.6 1270.4,812.8 1270.8,813.3 1271.2,812.4 1271.6,812.7 1272.0,812.3 1272.4,813.0 1272.8,812.6 1273.2,813.6 1273.6,812.0 1274.0,813.1 1274.4,812.4 1274.8,812.3 1275.2,812.5 1275.5,811.1 1275.9,813.6 1276.3,813.3 1276.7,811.4 1277.1,813.7 1277.5,812.8 1277.9,813.6 1278.3,812.6 1278.7,811.9 1279.1,812.6 1279.5,813.2 1279.9,812.8 1280.3,812.5 1280.7,813.7 1281.1,812.8 1281.5,813.4 1281.9,813.2 1282.3,812.1 1282.7,813.1 1283.1,813.5 1283.5,810.0 1283.9,812.4 1284.3,812.5 1284.6,813.0 1285.0,813.1 1285.4,811.4 1285.8,812.5 1286.2,812.9 1286.6,813.7 1287.0,811.4 1287.4,813.7 1287.8,813.1 1288.2,813.6 1288.6,813.3 1289.0,813.7 1289.4,812.0 1289.8,813.6 1290.2,813.7 1290.6,813.4 1291.0,813.4 1291.4,813.6 1291.8,811.0 1292.2,813.5 1292.6,813.7 1293.0,813.5 1293.3,813.3 1293.7,813.3 1294.1,812.0 1294.5,813.5 1294.9,813.6 1295.3,813.6 1295.7,812.3 1296.1,811.9 1296.5,813.3 1296.9,812.0 1297.3,813.3 1297.7,812.6 1298.1,813.7 1298.5,811.0 1298.9,810.0 1299.3,811.7 1299.7,813.7 1300.1,813.4 1300.5,813.7 1300.9,813.5 1301.3,813.6 1301.7,812.3 1302.1,813.2 1302.4,813.5 1302.8,813.3 1303.2,813.3 1303.6,812.4 1304.0,810.4 1304.4,813.5 1304.8,812.0 1305.2,813.2 1305.6,813.5 1306.0,813.3 1306.4,813.7 1306.8,813.0 1307.2,813.2 1307.6,813.0 1308.0,813.4 1308.4,812.4 1308.8,813.5 1309.2,813.0 1309.6,813.6 1310.0,813.7 1310.4,813.3 1310.8,812.7 1311.2,813.4 1311.5,813.6 1311.9,813.3 1312.3,813.5 1312.7,813.0 1313.1,811.5 1313.5,811.1 1313.9,809.8 1314.3,811.5 1314.7,811.0 1315.1,808.6 1315.5,808.2 1315.9,808.3 1316.3,808.9 1316.7,810.8 1317.1,811.9 1317.5,812.3 1317.9,809.9 1318.3,811.7 1318.7,813.2 1319.1,813.6 1319.5,813.4 1319.9,810.4 1320.3,813.3 1320.6,813.5 1321.0,813.2 1321.4,813.4 1321.8,812.7 1322.2,813.4 1322.6,812.5 1323.0,813.7 1323.4,813.4 1323.8,813.6 1324.2,812.8 1324.6,813.3 1325.0,812.5 1325.4,813.0 1325.8,812.8 1326.2,813.3 1326.6,813.7 1327.0,813.4 1327.4,813.3 1327.8,810.9 1328.2,811.7 1328.6,811.0 1329.0,811.2 1329.3,812.2 1329.7,811.9 1330.1,813.5 1330.5,813.7 1330.9,813.2 1331.3,813.8 1331.7,813.1 1332.1,813.1 1332.5,812.6 1332.9,813.6 1333.3,813.4 1333.7,810.3 1334.1,812.5 1334.5,813.8 1334.9,813.4 1335.3,813.1 1335.7,813.5 1336.1,811.2 1336.5,813.1 1336.9,811.7 1337.3,813.5 1337.7,813.2 1338.1,813.6 1338.4,813.0 1338.8,810.5 1339.2,813.2 1339.6,813.7 1340.0,813.5 1340.4,813.7 1340.8,813.6 1341.2,813.6 1341.6,813.0 1342.0,812.7 1342.4,813.1 1342.8,813.5 1343.2,812.9 1343.6,812.8 1344.0,813.8 1344.4,813.3 1344.8,813.4 1345.2,813.7 1345.6,813.6 1346.0,813.3 1346.4,813.7 1346.8,812.2 1347.2,813.6 1347.5,813.7 1347.9,813.0 1348.3,813.5 1348.7,813.7 1349.1,813.8 1349.5,813.5 1349.9,813.7 1350.3,813.6 1350.7,813.7 1351.1,812.7 1351.5,812.6 1351.9,813.1 1352.3,812.8 1352.7,813.7 1353.1,812.8 1353.5,812.3 1353.9,811.8 1354.3,812.8 1354.7,812.9 1355.1,813.8 1355.5,813.8 1355.9,812.3 1356.3,813.3 1356.6,813.4 1357.0,812.9 1357.4,813.5 1357.8,813.6 1358.2,811.9 1358.6,813.6 1359.0,813.7 1359.4,813.2 1359.8,813.8 1360.2,813.8 1360.6,812.4 1361.0,813.7 1361.4,812.8 1361.8,813.7 1362.2,812.8 1362.6,813.3 1363.0,813.6 1363.4,811.7 1363.8,813.8 1364.2,813.7 1364.6,813.7 1365.0,813.6 1365.3,812.8 1365.7,813.4 1366.1,813.7 1366.5,813.3 1366.9,813.8 1367.3,813.2 1367.7,813.5 1368.1,813.5 1368.5,811.1 1368.9,813.8 1369.3,813.3 1369.7,813.8 1370.1,813.4 1370.5,813.1 1370.9,812.9 1371.3,813.7 1371.7,812.6 1372.1,813.7 1372.5,813.2 1372.9,813.6 1373.3,813.2 1373.7,813.5 1374.1,813.7 1374.4,812.2 1374.8,810.5 1375.2,813.7 1375.6,813.3 1376.0,813.6 1376.4,812.8 1376.8,813.0 1377.2,813.7 1377.6,813.7 1378.0,813.6 1378.4,813.1 1378.8,813.3 1379.2,813.5 1379.6,812.5 1380.0,813.5 1380.4,813.2 1380.8,813.6 1381.2,813.6 1381.6,813.6 1382.0,812.7 1382.4,812.7 1382.8,812.5 1383.2,813.2 1383.5,812.4 1383.9,813.6 1384.3,813.3 1384.7,813.8 1385.1,813.2 1385.5,813.7 1385.9,813.5 1386.3,812.5 1386.7,813.5 1387.1,811.9 1387.5,813.8 1387.9,813.4 1388.3,812.7 1388.7,813.2 1389.1,813.3 1389.5,811.2 1389.9,810.1 1390.3,812.6 1390.7,813.4 1391.1,813.2 1391.5,812.6 1391.9,813.5 1392.2,813.1 1392.6,813.7 1393.0,813.8 1393.4,813.3 1393.8,813.6 1394.2,812.2 1394.6,813.6 1395.0,809.6 1395.4,813.7 1395.8,812.6 1396.2,812.8 1396.6,812.9 1397.0,812.5 1397.4,813.2 1397.8,811.5 1398.2,813.1 1398.6,813.3 1399.0,813.3 1399.4,812.6 1399.8,813.5 1400.2,813.3 1400.6,812.2 1401.0,813.2 1401.3,813.6 1401.7,811.5 1402.1,813.6 1402.5,811.9 1402.9,812.2 1403.3,813.7 1403.7,813.4 1404.1,813.5 1404.5,812.4 1404.9,813.4 1405.3,812.3 1405.7,813.1 1406.1,813.6 1406.5,813.5 1406.9,812.8 1407.3,813.7 1407.7,812.5 1408.1,813.4 1408.5,813.1 1408.9,810.9 1409.3,812.0 1409.7,809.5 1410.1,813.6 1410.4,810.8 1410.8,812.2 1411.2,813.3 1411.6,812.8 1412.0,812.3 1412.4,810.3 1412.8,813.4 1413.2,813.3 1413.6,812.8 1414.0,813.6 1414.4,810.4 1414.8,813.0 1415.2,813.4 1415.6,813.6 1416.0,813.5 1416.4,813.3 1416.8,813.3 1417.2,813.4 1417.6,813.6 1418.0,813.7 1418.4,813.2 1418.8,813.7 1419.2,813.7 1419.5,811.8 1419.9,812.8 1420.3,810.5 1420.7,813.5 1421.1,813.5 1421.5,813.3 1421.9,813.8 1422.3,813.4 1422.7,813.5 1423.1,813.3 1423.5,813.6 1423.9,813.7 1424.3,813.7 1424.7,813.6 1425.1,813.1 1425.5,812.8 1425.9,813.5 1426.3,813.4 1426.7,813.5 1427.1,813.6 1427.5,812.5 1427.9,811.3 1428.2,811.7 1428.6,813.5 1429.0,813.6 1429.4,813.7 1429.8,813.6 1430.2,813.4 1430.6,812.1 1431.0,812.7 1431.4,812.6 1431.8,813.3 1432.2,813.8 1432.6,813.3 1433.0,813.4 1433.4,813.1 1433.8,813.1 1434.2,813.6 1434.6,813.7 1435.0,812.9 1435.4,813.8 1435.8,811.7 1436.2,813.8 1436.6,813.5 1437.0,812.6 1437.3,813.4 1437.7,813.6 1438.1,811.6 1438.5,812.4 1438.9,813.7 1439.3,813.7 1439.7,812.7 1440.1,813.6 1440.5,812.3 1440.9,812.7 1441.3,811.1 1441.7,812.7 1442.1,813.3 1442.5,813.8 1442.9,813.2 1443.3,813.6 1443.7,813.6 1444.1,812.8 1444.5,813.7 1444.9,813.2 1445.3,812.4 1445.7,813.1 1446.1,813.7 1446.4,813.6 1446.8,813.0 1447.2,813.2 1447.6,812.8 1448.0,812.3 1448.4,811.9 1448.8,813.3 1449.2,813.7 1449.6,813.8 1450.0,813.7 1450.4,813.5 1450.8,811.9 1451.2,813.3 1451.6,812.7 1452.0,813.1 1452.4,813.6 1452.8,813.2 1453.2,813.6 1453.6,812.3 1454.0,813.4 1454.4,813.2 1454.8,812.7 1455.2,811.8 1455.5,812.3 1455.9,813.1 1456.3,811.1 1456.7,812.3 1457.1,812.9 1457.5,813.1 1457.9,813.6 1458.3,813.7 1458.7,813.5 1459.1,813.5 1459.5,813.1 1459.9,813.7 1460.3,813.2 1460.7,813.2 1461.1,812.6 1461.5,812.5 1461.9,813.1 1462.3,812.1 1462.7,813.4 1463.1,812.6 1463.5,813.2 1463.9,813.6 1464.2,813.5 1464.6,812.1 1465.0,812.6 1465.4,810.7 1465.8,812.1 1466.2,813.0 1466.6,812.6 1467.0,813.1 1467.4,811.7 1467.8,811.9 1468.2,813.6 1468.6,810.5 1469.0,813.7 1469.4,813.3 1469.8,813.0 1470.2,813.7 1470.6,812.6 1471.0,813.6 1471.4,811.7 1471.8,813.7 1472.2,813.6 1472.6,813.5 1473.0,813.5 1473.3,813.2 1473.7,813.3 1474.1,811.3 1474.5,813.6 1474.9,813.6 1475.3,813.4 1475.7,812.8 1476.1,813.3 1476.5,813.3 1476.9,812.8 1477.3,813.1 1477.7,811.9 1478.1,813.7 1478.5,811.9 1478.9,811.1 1479.3,810.2 1479.7,813.1 1480.1,813.0 1480.5,813.1 1480.9,813.1 1481.3,813.5 1481.7,813.3 1482.1,812.2 1482.4,811.6 1482.8,813.4 1483.2,812.4 1483.6,809.3 1484.0,812.8 1484.4,812.7 1484.8,812.2 1485.2,811.5 1485.6,811.6 1486.0,807.5 1486.4,806.8 1486.8,801.9 1487.2,795.5 1487.6,792.5 1488.0,795.5 1488.4,801.8 1488.8,806.1 1489.2,810.0 1489.6,811.0 1490.0,812.4 1490.4,812.7 1490.8,812.6 1491.1,812.9 1491.5,812.9 1491.9,813.3 1492.3,812.2 1492.7,813.2 1493.1,812.2 1493.5,813.4 1493.9,813.0 1494.3,812.6 1494.7,813.5 1495.1,811.1 1495.5,813.2 1495.9,813.0 1496.3,812.9 1496.7,813.3 1497.1,813.4 1497.5,812.8 1497.9,809.9 1498.3,813.7 1498.7,813.5 1499.1,813.7 1499.5,813.1 1499.9,813.3 1500.2,813.0 1500.6,813.3 1501.0,811.4 1501.4,811.2 1501.8,812.8 1502.2,813.4 1502.6,812.2 1503.0,813.4 1503.4,812.4 1503.8,813.3 1504.2,813.3 1504.6,811.7 1505.0,812.2 1505.4,813.4 1505.8,813.1 1506.2,813.2 1506.6,812.8 1507.0,809.0 1507.4,810.8 1507.8,808.9 1508.2,805.9 1508.6,802.3 1509.0,802.9 1509.3,805.5 1509.7,808.7 1510.1,809.3 1510.5,811.8 1510.9,811.1 1511.3,813.0 1511.7,813.2 1512.1,812.7 1512.5,812.4 1512.9,813.3 1513.3,812.7 1513.7,812.8 1514.1,813.4 1514.5,812.9 1514.9,813.6 1515.3,813.2 1515.7,813.1 1516.1,812.0 1516.5,813.7 1516.9,813.7 1517.3,812.9 1517.7,813.4 1518.1,813.4 1518.4,812.7 1518.8,812.5 1519.2,811.8 1519.6,813.1 1520.0,813.3 1520.4,812.9 1520.8,813.6 1521.2,813.2 1521.6,813.2 1522.0,810.8 1522.4,813.6 1522.8,813.4 1523.2,813.4 1523.6,811.9 1524.0,813.3 1524.4,813.6 1524.8,812.9 1525.2,812.8 1525.6,813.3 1526.0,812.6 1526.4,813.3 1526.8,812.8 1527.1,813.7 1527.5,812.5 1527.9,813.7 1528.3,813.3 1528.7,813.3 1529.1,812.6 1529.5,813.7 1529.9,813.4 1530.3,813.5 1530.7,813.3 1531.1,813.5 1531.5,813.6 1531.9,813.3 1532.3,813.5 1532.7,813.5 1533.1,811.4 1533.5,813.7 1533.9,812.7 1534.3,812.9 1534.7,812.9 1535.1,809.9 1535.5,813.0 1535.9,812.7 1536.2,812.8 1536.6,813.0 1537.0,812.9 1537.4,813.7 1537.8,813.4 1538.2,813.5 1538.6,813.5 1539.0,813.1 1539.4,812.4 1539.8,813.0 1540.2,812.7 1540.6,813.7 1541.0,813.1" fill="none" stroke="#f00" stroke-width="6" stroke-linejoin="round" stroke-linecap="butt" shape-rendering="crispEdges"/>
<path d="M156.0,500.1 156.4,504.3 156.8,503.6 157.2,503.5 157.6,503.8 158.0,503.0 158.4,503.8 158.8,503.7 159.2,505.0 159.6,504.5 160.0,500.7 160.4,504.8 160.7,505.0 161.1,497.5 161.5,504.7 161.9,501.5 162.3,504.4 162.7,504.5 163.1,504.0 163.5,503.0 163.9,504.0 164.3,504.0 164.7,503.1 165.1,502.9 165.5,503.3 165.9,504.8 166.3,503.5 166.7,501.3 167.1,504.4 167.5,502.1 167.9,503.1 168.3,504.9 168.7,504.6 169.1,503.6 169.5,504.8 169.8,504.3 170.2,504.3 170.6,504.8 171.0,503.5 171.4,504.9 171.8,503.8 172.2,502.1 172.6,504.6 173.0,504.0 173.4,503.7 173.8,501.1 174.2,504.0 174.6,504.2 175.0,498.9 175.4,502.4 175.8,503.1 176.2,504.3 176.6,504.7 177.0,504.7 177.4,505.0 177.8,504.4 178.2,504.6 178.5,504.1 178.9,504.3 179.3,501.8 179.7,504.5 180.1,504.3 180.5,500.6 180.9,504.9 181.3,503.2 181.7,504.9 182.1,504.8 182.5,502.3 182.9,504.2 183.3,503.1 183.7,501.3 184.1,504.2 184.5,504.6 184.9,503.6 185.3,503.8 185.7,503.4 186.1,502.3 186.5,503.8 186.9,503.9 187.3,503.9 187.6,504.2 188.0,503.5 188.4,502.5 188.8,504.4 189.2,504.9 189.6,503.0 190.0,502.0 190.4,504.0 190.8,504.5 191.2,501.3 191.6,503.7 192.0,504.5 192.4,504.2 192.8,504.3 193.2,502.6 193.6,504.6 194.0,502.5 194.4,504.7 194.8,504.9 195.2,504.1 195.6,504.6 196.0,503.2 196.4,503.5 196.7,504.8 197.1,504.7 197.5,503.8 197.9,503.3 198.3,503.9 198.7,502.3 199.1,503.3 199.5,503.6 199.9,497.5 200.3,500.8 200.7,504.0 201.1,504.5 201.5,503.6 201.9,503.6 202.3,501.8 202.7,504.8 203.1,503.7 203.5,503.2 203.9,504.9 204.3,500.6 204.7,504.9 205.1,504.4 205.4,503.8 205.8,500.8 206.2,504.8 206.6,504.8 207.0,504.1 207.4,503.1 207.8,504.8 208.2,504.6 208.6,504.4 209.0,503.7 209.4,504.6 209.8,502.0 210.2,503.5 210.6,504.3 211.0,503.2 211.4,504.8 211.8,503.7 212.2,504.9 212.6,504.2 213.0,504.8 213.4,500.1 213.8,501.8 214.2,504.4 214.5,503.6 214.9,503.4 215.3,503.5 215.7,503.6 216.1,504.0 216.5,504.4 216.9,502.4 217.3,497.5 217.7,500.0 218.1,504.8 218.5,504.8 218.9,500.2 219.3,501.6 219.7,504.9 220.1,501.0 220.5,504.5 220.9,504.3 221.3,504.8 221.7,502.3 222.1,503.9 222.5,504.9 222.9,504.6 223.3,504.5 223.6,504.7 224.0,504.6 224.4,504.4 224.8,498.5 225.2,503.8 225.6,503.0 226.0,502.0 226.4,504.7 226.8,504.2 227.2,504.1 227.6,498.5 228.0,501.6 228.4,504.4 228.8,503.7 229.2,504.8 229.6,503.8 230.0,504.8 230.4,504.3 230.8,504.8 231.2,502.5 231.6,499.1 232.0,504.7 232.4,500.6 232.7,504.8 233.1,503.3 233.5,504.7 233.9,503.0 234.3,503.7 234.7,499.6 235.1,502.4 235.5,503.7 235.9,502.9 236.3,504.5 236.7,504.4 237.1,504.4 237.5,503.0 237.9,503.8 238.3,504.9 238.7,504.5 239.1,503.6 239.5,504.5 239.9,504.7 240.3,502.8 240.7,500.9 241.1,503.0 241.4,504.9 241.8,504.4 242.2,502.9 242.6,502.9 243.0,504.6 243.4,503.9 243.8,500.7 244.2,503.2 244.6,503.9 245.0,504.8 245.4,501.4 245.8,503.5 246.2,503.8 246.6,500.8 247.0,504.8 247.4,504.0 247.8,504.9 248.2,504.4 248.6,504.8 249.0,502.6 249.4,504.2 249.8,504.0 250.2,504.0 250.5,504.2 250.9,502.1 251.3,504.2 251.7,504.4 252.1,502.7 252.5,504.7 252.9,504.6 253.3,501.8 253.7,503.8 254.1,505.0 254.5,503.8 254.9,504.9 255.3,504.9 255.7,504.5 256.1,503.6 256.5,504.7 256.9,502.7 257.3,504.7 257.7,502.8 258.1,504.9 258.5,503.8 258.9,504.5 259.3,503.3 259.6,502.2 260.0,504.7 260.4,502.3 260.8,502.3 261.2,504.8 261.6,504.5 262.0,500.9 262.4,502.1 262.8,504.8 263.2,502.9 263.6,504.2 264.0,504.0 264.4,503.7 264.8,503.9 265.2,503.5 265.6,503.7 266.0,503.0 266.4,501.9 266.8,505.0 267.2,504.1 267.6,504.5 268.0,504.6 268.4,503.2 268.7,503.5 269.1,503.1 269.5,504.6 269.9,504.8 270.3,498.6 270.7,502.7 271.1,501.0 271.5,504.6 271.9,504.4 272.3,504.5 272.7,503.9 273.1,500.8 273.5,503.5 273.9,504.4 274.3,503.5 274.7,504.8 275.1,503.8 275.5,501.5 275.9,503.9 276.3,501.5 276.7,504.0 277.1,502.3 277.4,503.2 277.8,504.9 278.2,502.3 278.6,503.7 279.0,503.3 279.4,504.1 279.8,503.7 280.2,501.2 280.6,504.6 281.0,504.8 281.4,504.3 281.8,502.5 282.2,501.2 282.6,502.4 283.0,503.3 283.4,501.8 283.8,504.4 284.2,504.1 284.6,504.1 285.0,504.7 285.4,504.1 285.8,501.7 286.2,504.8 286.5,503.7 286.9,502.6 287.3,504.2 287.7,504.7 288.1,504.2 288.5,497.5 288.9,504.5 289.3,504.8 289.7,503.6 290.1,498.9 290.5,504.4 290.9,504.8 291.3,504.8 291.7,503.2 292.1,503.5 292.5,504.8 292.9,502.9 293.3,504.9 293.7,504.7 294.1,500.5 294.5,502.6 294.9,504.6 295.3,504.7 295.6,503.6 296.0,497.5 296.4,500.9 296.8,505.0 297.2,502.9 297.6,504.0 298.0,502.3 298.4,504.8 298.8,504.4 299.2,504.6 299.6,503.8 300.0,503.7 300.4,500.0 300.8,504.8 301.2,504.8 301.6,504.9 302.0,504.7 302.4,504.1 302.8,503.1 303.2,504.0 303.6,504.7 304.0,502.8 304.3,504.6 304.7,503.8 305.1,503.8 305.5,499.0 305.9,503.8 306.3,504.6 306.7,501.2 307.1,502.3 307.5,501.1 307.9,504.1 308.3,503.9 308.7,503.3 309.1,504.6 309.5,503.4 309.9,504.6 310.3,504.5 310.7,503.6 311.1,504.8 311.5,501.2 311.9,504.5 312.3,501.3 312.7,503.3 313.1,502.2 313.4,504.6 313.8,504.2 314.2,504.2 314.6,504.7 315.0,503.2 315.4,504.3 315.8,504.7 316.2,504.6 316.6,502.9 317.0,501.3 317.4,504.0 317.8,504.7 318.2,502.8 318.6,504.7 319.0,504.2 319.4,504.4 319.8,501.3 320.2,503.9 320.6,503.9 321.0,502.9 321.4,504.6 321.8,504.2 322.2,503.6 322.5,503.7 322.9,503.9 323.3,504.2 323.7,503.7 324.1,504.2 324.5,502.3 324.9,501.9 325.3,504.1 325.7,503.9 326.1,503.2 326.5,502.9 326.9,503.0 327.3,503.7 327.7,503.3 328.1,500.7 328.5,501.3 328.9,502.3 329.3,498.7 329.7,501.8 330.1,501.1 330.5,499.8 330.9,498.9 331.3,495.1 331.6,492.2 332.0,487.9 332.4,473.3 332.8,428.8 333.2,329.3 333.6,208.9 334.0,208.9 334.4,329.3 334.8,428.8 335.2,473.3 335.6,487.9 336.0,492.1 336.4,497.0 336.8,499.2 337.2,500.3 337.6,500.7 338.0,499.8 338.4,500.9 338.8,499.9 339.2,502.1 339.6,501.0 340.0,503.4 340.3,503.2 340.7,503.6 341.1,502.5 341.5,501.5 341.9,501.3 342.3,500.4 342.7,504.2 343.1,503.6 343.5,500.7 343.9,503.9 344.3,501.7 344.7,502.7 345.1,501.9 345.5,504.2 345.9,503.9 346.3,504.6 346.7,503.0 347.1,502.9 347.5,504.3 347.9,504.4 348.3,504.5 348.7,503.7 349.1,503.7 349.4,504.1 349.8,503.2 350.2,504.8 350.6,503.0 351.0,503.5 351.4,501.6 351.8,504.4 352.2,504.7 352.6,501.5 353.0,503.9 353.4,499.1 353.8,503.0 354.2,502.1 354.6,504.7 355.0,502.7 355.4,504.1 355.8,503.5 356.2,502.0 356.6,502.8 357.0,504.9 357.4,504.9 357.8,502.1 358.2,503.6 358.5,502.3 358.9,502.9 359.3,504.7 359.7,500.6 360.1,504.6 360.5,504.2 360.9,504.6 361.3,503.5 361.7,504.9 362.1,504.8 362.5,503.3 362.9,503.8 363.3,503.7 363.7,504.5 364.1,504.7 364.5,502.6 364.9,504.4 365.3,504.1 365.7,504.7 366.1,504.1 366.5,503.6 366.9,502.8 367.3,503.6 367.6,504.6 368.0,502.1 368.4,503.8 368.8,504.9 369.2,502.1 369.6,503.3 370.0,504.5 370.4,503.7 370.8,505.0 371.2,503.8 371.6,504.3 372.0,503.3 372.4,497.5 372.8,504.3 373.2,503.9 373.6,503.4 374.0,504.6 374.4,504.1 374.8,500.1 375.2,504.1 375.6,503.8 376.0,504.1 376.3,503.4 376.7,504.9 377.1,504.9 377.5,500.7 377.9,504.5 378.3,500.0 378.7,504.5 379.1,504.3 379.5,504.8 379.9,504.6 380.3,503.5 380.7,504.5 381.1,500.5 381.5,503.0 381.9,504.7 382.3,502.2 382.7,501.4 383.1,503.4 383.5,504.6 383.9,504.7 384.3,504.4 384.7,504.1 385.1,504.0 385.4,503.5 385.8,500.9 386.2,504.1 386.6,504.8 387.0,503.0 387.4,504.1 387.8,503.5 388.2,504.4 388.6,504.6 389.0,504.6 389.4,503.8 389.8,504.9 390.2,501.3 390.6,502.5 391.0,503.9 391.4,504.2 391.8,503.6 392.2,504.9 392.6,503.0 393.0,501.1 393.4,504.1 393.8,504.4 394.2,502.3 394.5,504.1 394.9,503.9 395.3,503.5 395.7,504.2 396.1,500.9 396.5,504.5 396.9,504.0 397.3,504.4 397.7,504.6 398.1,503.5 398.5,504.0 398.9,504.7 399.3,504.7 399.7,504.6 400.1,503.8 400.5,504.6 400.9,503.4 401.3,504.4 401.7,504.6 402.1,504.4 402.5,505.0 402.9,502.6 403.2,504.7 403.6,504.9 404.0,504.8 404.4,504.7 404.8,504.5 405.2,504.2 405.6,503.8 406.0,504.7 406.4,504.8 406.8,504.3 407.2,504.0 407.6,503.3 408.0,504.3 408.4,502.9 408.8,504.9 409.2,504.9 409.6,502.1 410.0,501.9 410.4,504.8 410.8,502.2 411.2,504.9 411.6,504.2 412.0,502.8 412.3,504.4 412.7,503.6 413.1,504.2 413.5,503.7 413.9,503.2 414.3,501.9 414.7,503.7 415.1,505.0 415.5,503.8 415.9,503.7 416.3,503.1 416.7,504.9 417.1,504.4 417.5,504.9 417.9,501.9 418.3,503.1 418.7,501.9 419.1,502.0 419.5,505.0 419.9,504.8 420.3,503.4 420.7,504.2 421.1,504.3 421.4,504.7 421.8,504.9 422.2,503.1 422.6,504.4 423.0,503.0 423.4,504.5 423.8,503.9 424.2,502.3 424.6,504.8 425.0,504.2 425.4,502.6 425.8,503.5 426.2,504.8 426.6,503.7 427.0,503.7 427.4,501.6 427.8,502.5 428.2,503.9 428.6,504.6 429.0,502.9 429.4,503.7 429.8,504.5 430.2,503.8 430.5,502.7 430.9,502.3 431.3,502.1 431.7,504.5 432.1,504.5 432.5,504.6 432.9,503.1 433.3,502.3 433.7,504.5 434.1,505.0 434.5,502.9 434.9,503.1 435.3,503.7 435.7,504.8 436.1,502.2 436.5,503.9 436.9,503.1 437.3,502.7 437.7,503.7 438.1,503.1 438.5,504.0 438.9,504.2 439.2,503.8 439.6,502.9 440.0,504.9 440.4,504.8 440.8,503.9 441.2,504.1 441.6,504.6 442.0,504.8 442.4,504.0 442.8,502.9 443.2,504.8 443.6,503.1 444.0,500.9 444.4,501.6 444.8,503.2 445.2,504.0 445.6,501.5 446.0,503.9 446.4,501.8 446.8,503.7 447.2,504.4 447.6,503.3 448.0,503.8 448.3,504.8 448.7,501.3 449.1,504.4 449.5,504.4 449.9,504.6 450.3,499.3 450.7,504.1 451.1,504.7 451.5,504.7 451.9,502.0 452.3,504.6 452.7,504.7 453.1,503.0 453.5,504.0 453.9,504.8 454.3,504.7 454.7,503.7 455.1,503.1 455.5,503.5 455.9,504.5 456.3,503.4 456.7,504.5 457.1,502.9 457.4,498.0 457.8,502.7 458.2,502.0 458.6,504.8 459.0,504.3 459.4,504.4 459.8,503.5 460.2,502.8 460.6,498.0 461.0,500.5 461.4,504.4 461.8,497.5 462.2,504.5 462.6,504.3 463.0,503.5 463.4,504.8 463.8,503.9 464.2,504.1 464.6,502.7 465.0,502.4 465.4,501.5 465.8,504.5 466.2,504.0 466.5,503.7 466.9,504.0 467.3,504.9 467.7,504.1 468.1,503.8 468.5,504.2 468.9,501.6 469.3,503.8 469.7,501.9 470.1,502.6 470.5,504.5 470.9,504.5 471.3,503.9 471.7,503.8 472.1,504.5 472.5,504.0 472.9,503.8 473.3,501.4 473.7,505.0 474.1,503.4 474.5,500.5 474.9,504.9 475.2,504.1 475.6,504.0 476.0,504.7 476.4,501.4 476.8,503.9 477.2,502.1 477.6,500.8 478.0,504.3 478.4,503.6 478.8,504.0 479.2,504.8 479.6,503.5 480.0,503.7 480.4,504.2 480.8,504.0 481.2,501.1 481.6,501.5 482.0,503.5 482.4,501.7 482.8,502.8 483.2,503.4 483.6,500.2 484.0,502.8 484.3,502.1 484.7,503.9 485.1,504.2 485.5,504.8 485.9,502.6 486.3,504.2 486.7,499.3 487.1,504.2 487.5,504.5 487.9,504.1 488.3,501.0 488.7,502.8 489.1,504.9 489.5,503.0 489.9,504.6 490.3,504.9 490.7,504.0 491.1,504.4 491.5,504.5 491.9,502.7 492.3,503.1 492.7,503.4 493.1,504.9 493.4,503.4 493.8,501.8 494.2,504.1 494.6,502.6 495.0,503.5 495.4,504.2 495.8,503.6 496.2,503.1 496.6,504.6 497.0,501.4 497.4,503.2 497.8,504.3 498.2,503.9 498.6,501.4 499.0,503.7 499.4,502.5 499.8,504.1 500.2,504.6 500.6,504.8 501.0,502.2 501.4,504.2 501.8,502.6 502.1,500.9 502.5,501.0 502.9,504.9 503.3,503.7 503.7,504.6 504.1,501.1 504.5,500.4 504.9,504.9 505.3,503.1 505.7,504.4 506.1,503.7 506.5,504.7 506.9,501.0 507.3,502.7 507.7,504.5 508.1,504.8 508.5,503.7 508.9,503.6 509.3,502.2 509.7,505.0 510.1,504.3 510.5,501.5 510.9,499.2 511.2,503.9 511.6,503.9 512.0,501.4 512.4,503.9 512.8,504.3 513.2,504.3 513.6,504.5 514.0,504.6 514.4,504.4 514.8,503.1 515.2,504.7 515.6,503.5 516.0,503.7 516.4,502.7 516.8,503.8 517.2,504.3 517.6,502.3 518.0,503.5 518.4,503.2 518.8,503.0 519.2,503.9 519.6,501.9 520.0,504.5 520.3,504.6 520.7,503.7 521.1,503.6 521.5,498.7 521.9,504.8 522.3,504.8 522.7,504.9 523.1,501.9 523.5,504.0 523.9,502.3 524.3,504.8 524.7,504.4 525.1,503.7 525.5,504.2 525.9,504.7 526.3,500.7 526.7,504.1 527.1,503.3 527.5,499.3 527.9,504.0 528.3,501.4 528.7,502.7 529.1,502.8 529.4,503.3 529.8,503.4 530.2,502.9 530.6,502.6 531.0,501.5 531.4,503.5 531.8,504.0 532.2,503.5 532.6,503.8 533.0,504.6 533.4,504.5 533.8,501.6 534.2,504.3 534.6,504.2 535.0,503.1 535.4,498.2 535.8,504.6 536.2,504.6 536.6,501.5 537.0,502.9 537.4,503.8 537.8,503.3 538.1,503.0 538.5,504.5 538.9,502.8 539.3,504.1 539.7,503.6 540.1,504.7 540.5,502.7 540.9,500.9 541.3,504.4 541.7,504.6 542.1,501.3 542.5,504.8 542.9,504.5 543.3,504.3 543.7,499.0 544.1,504.8 544.5,503.5 544.9,503.5 545.3,504.7 545.7,503.3 546.1,504.6 546.5,501.8 546.9,497.5 547.2,504.3 547.6,502.9 548.0,504.1 548.4,504.8 548.8,504.0 549.2,502.8 549.6,503.4 550.0,502.1 550.4,503.5 550.8,504.8 551.2,504.9 551.6,501.9 552.0,502.8 552.4,503.3 552.8,500.6 553.2,504.5 553.6,503.9 554.0,502.2 554.4,503.8 554.8,498.4 555.2,500.8 555.6,504.0 556.0,502.8 556.3,502.0 556.7,502.4 557.1,504.4 557.5,503.9 557.9,504.7 558.3,503.7 558.7,502.1 559.1,501.7 559.5,503.9 559.9,503.3 560.3,504.4 560.7,502.4 561.1,503.3 561.5,504.8 561.9,500.8 562.3,503.4 562.7,500.7 563.1,503.5 563.5,503.7 563.9,504.1 564.3,498.9 564.7,504.5 565.1,503.6 565.4,501.2 565.8,504.5 566.2,503.8 566.6,504.4 567.0,504.5 567.4,504.6 567.8,504.6 568.2,503.3 568.6,503.4 569.0,504.4 569.4,503.7 569.8,503.6 570.2,503.3 570.6,501.7 571.0,503.1 571.4,499.5 571.8,502.5 572.2,503.2 572.6,502.7 573.0,500.4 573.4,501.3 573.8,496.5 574.1,499.8 574.5,495.2 574.9,493.0 575.3,477.2 575.7,437.5 576.1,369.1 576.5,324.7 576.9,369.1 577.3,437.5 577.7,477.2 578.1,489.3 578.5,496.5 578.9,493.3 579.3,501.1 579.7,501.1 580.1,502.2 580.5,503.0 580.9,501.2 581.3,503.5 581.7,503.4 582.1,502.6 582.5,504.1 582.9,503.5 583.2,502.3 583.6,503.5 584.0,504.2 584.4,503.9 584.8,497.1 585.2,501.9 585.6,503.7 586.0,503.3 586.4,503.3 586.8,504.3 587.2,499.8 587.6,504.0 588.0,503.7 588.4,504.8 588.8,503.7 589.2,501.4 589.6,503.7 590.0,504.2 590.4,504.5 590.8,500.1 591.2,500.1 591.6,502.1 592.0,501.4 592.3,502.3 592.7,504.4 593.1,502.9 593.5,504.0 593.9,504.4 594.3,503.9 594.7,504.6 595.1,504.7 595.5,504.0 595.9,504.7 596.3,504.8 596.7,504.3 597.1,504.2 597.5,504.0 597.9,502.6 598.3,500.0 598.7,503.4 599.1,501.0 599.5,502.5 599.9,504.9 600.3,503.0 600.7,504.6 601.0,504.1 601.4,501.5 601.8,502.3 602.2,498.0 602.6,502.7 603.0,502.3 603.4,504.5 603.8,504.2 604.2,504.5 604.6,504.6 605.0,502.6 605.4,503.7 605.8,504.3 606.2,502.0 606.6,504.9 607.0,504.3 607.4,503.2 607.8,504.4 608.2,502.6 608.6,502.7 609.0,504.8 609.4,503.6 609.8,503.5 610.1,503.1 610.5,503.5 610.9,504.6 611.3,501.3 611.7,502.9 612.1,504.9 612.5,503.9 612.9,503.8 613.3,504.8 613.7,501.9 614.1,504.6 614.5,499.1 614.9,503.9 615.3,502.6 615.7,499.6 616.1,504.5 616.5,502.1 616.9,504.2 617.3,502.2 617.7,504.0 618.1,504.6 618.5,503.7 618.9,504.3 619.2,499.1 619.6,501.4 620.0,502.9 620.4,502.7 620.8,497.8 621.2,502.6 621.6,503.0 622.0,502.9 622.4,504.7 622.8,501.1 623.2,503.9 623.6,504.7 624.0,499.9 624.4,504.9 624.8,504.0 625.2,504.9 625.6,503.5 626.0,504.9 626.4,501.0 626.8,504.6 627.2,504.3 627.6,502.8 628.0,503.6 628.3,504.4 628.7,502.6 629.1,503.0 629.5,504.4 629.9,504.8 630.3,502.6 630.7,504.6 631.1,503.9 631.5,501.0 631.9,504.2 632.3,503.8 632.7,503.7 633.1,502.2 633.5,504.0 633.9,504.1 634.3,504.8 634.7,504.2 635.1,503.6 635.5,504.9 635.9,502.5 636.3,503.9 636.7,503.3 637.0,504.3 637.4,500.7 637.8,504.6 638.2,502.3 638.6,502.1 639.0,502.8 639.4,504.6 639.8,504.5 640.2,504.6 640.6,502.0 641.0,503.3 641.4,504.8 641.8,504.1 642.2,503.1 642.6,504.8 643.0,503.9 643.4,504.2 643.8,501.3 644.2,500.2 644.6,504.4 645.0,503.3 645.4,503.6 645.8,503.0 646.1,502.7 646.5,503.7 646.9,503.3 647.3,504.7 647.7,504.8 648.1,504.5 648.5,504.5 648.9,503.6 649.3,504.8 649.7,503.5 650.1,504.7 650.5,503.7 650.9,503.8 651.3,502.7 651.7,504.5 652.1,503.1 652.5,503.8 652.9,501.4 653.3,504.7 653.7,503.9 654.1,504.3 654.5,504.4 654.9,502.8 655.2,497.3 655.6,504.5 656.0,502.4 656.4,504.6 656.8,504.1 657.2,503.2 657.6,504.4 658.0,503.0 658.4,504.4 658.8,503.8 659.2,504.6 659.6,503.8 660.0,504.4 660.4,502.1 660.8,504.5 661.2,503.7 661.6,502.9 662.0,504.0 662.4,497.2 662.8,504.1 663.2,503.8 663.6,503.6 664.0,501.0 664.3,503.3 664.7,503.9 665.1,503.1 665.5,502.7 665.9,504.3 666.3,504.4 666.7,500.4 667.1,503.7 667.5,503.6 667.9,496.8 668.3,504.3 668.7,504.2 669.1,501.8 669.5,502.2 669.9,502.6 670.3,502.9 670.7,502.3 671.1,503.2 671.5,500.4 671.9,502.3 672.3,500.5 672.7,501.3 673.0,501.8 673.4,501.8 673.8,499.0 674.2,500.6 674.6,499.8 675.0,498.8 675.4,494.6 675.8,497.3 676.2,496.3 676.6,495.8 677.0,493.9 677.4,491.3 677.8,492.0 678.2,490.8 678.6,490.2 679.0,489.9 679.4,489.7 679.8,489.9 680.2,490.2 680.6,490.7 681.0,491.3 681.4,492.5 681.8,492.1 682.1,494.5 682.5,487.5 682.9,494.0 683.3,494.7 683.7,494.4 684.1,491.3 684.5,490.1 684.9,486.6 685.3,479.6 685.7,459.5 686.1,397.4 686.5,258.3 686.9,89.9 687.3,90.0 687.7,258.7 688.1,398.1 688.5,460.5 688.9,481.0 689.3,488.5 689.7,493.7 690.1,494.3 690.5,494.4 690.9,498.8 691.2,499.1 691.6,501.1 692.0,501.2 692.4,501.3 692.8,501.9 693.2,501.6 693.6,502.9 694.0,500.6 694.4,502.5 694.8,500.3 695.2,500.7 695.6,502.9 696.0,503.5 696.4,502.5 696.8,503.2 697.2,503.2 697.6,503.2 698.0,503.7 698.4,501.2 698.8,503.7 699.2,501.5 699.6,504.1 699.9,503.9 700.3,503.5 700.7,503.4 701.1,503.8 701.5,504.1 701.9,501.7 702.3,502.5 702.7,503.7 703.1,503.9 703.5,504.1 703.9,502.5 704.3,502.7 704.7,502.3 705.1,500.8 705.5,500.9 705.9,497.9 706.3,499.4 706.7,500.5 707.1,503.2 707.5,504.0 707.9,504.1 708.3,502.0 708.7,503.4 709.0,504.3 709.4,502.1 709.8,503.5 710.2,500.5 710.6,504.2 711.0,502.9 711.4,504.4 711.8,504.1 712.2,503.7 712.6,504.1 713.0,504.1 713.4,504.1 713.8,503.0 714.2,503.1 714.6,502.7 715.0,502.3 715.4,502.5 715.8,502.9 716.2,498.2 716.6,502.0 717.0,501.0 717.4,500.0 717.8,499.0 718.1,499.3 718.5,497.3 718.9,488.8 719.3,477.4 719.7,438.2 720.1,370.7 720.5,326.8 720.9,370.7 721.3,438.2 721.7,477.4 722.1,488.4 722.5,494.6 722.9,498.3 723.3,498.8 723.7,499.1 724.1,500.8 724.5,502.4 724.9,500.2 725.3,499.3 725.7,501.4 726.1,503.5 726.5,499.5 726.9,503.5 727.2,503.1 727.6,503.7 728.0,503.5 728.4,502.9 728.8,501.2 729.2,502.5 729.6,502.2 730.0,501.0 730.4,504.6 730.8,503.8 731.2,503.7 731.6,504.1 732.0,503.9 732.4,504.1 732.8,501.0 733.2,504.3 733.6,503.9 734.0,504.1 734.4,497.7 734.8,504.7 735.2,503.2 735.6,504.1 735.9,504.7 736.3,504.6 736.7,502.6 737.1,504.3 737.5,503.5 737.9,500.2 738.3,501.7 738.7,504.5 739.1,504.4 739.5,504.4 739.9,502.7 740.3,504.2 740.7,501.4 741.1,502.7 741.5,504.0 741.9,504.0 742.3,503.6 742.7,503.4 743.1,504.6 743.5,501.8 743.9,504.6 744.3,504.5 744.7,503.6 745.0,504.9 745.4,503.9 745.8,504.1 746.2,504.2 746.6,504.6 747.0,503.4 747.4,504.7 747.8,503.5 748.2,502.3 748.6,503.7 749.0,504.5 749.4,500.6 749.8,502.8 750.2,504.3 750.6,503.3 751.0,504.6 751.4,503.2 751.8,503.9 752.2,502.5 752.6,502.8 753.0,500.7 753.4,499.8 753.8,500.8 754.1,501.1 754.5,503.8 754.9,502.3 755.3,503.1 755.7,500.5 756.1,503.5 756.5,503.9 756.9,503.3 757.3,500.8 757.7,504.7 758.1,498.3 758.5,504.8 758.9,504.9 759.3,504.4 759.7,504.5 760.1,499.5 760.5,503.8 760.9,499.8 761.3,503.1 761.7,497.4 762.1,502.1 762.5,502.5 762.9,504.2 763.2,501.0 763.6,504.6 764.0,504.9 764.4,502.4 764.8,501.5 765.2,502.8 765.6,504.2 766.0,501.3 766.4,503.0 766.8,504.8 767.2,504.6 767.6,503.9 768.0,504.8 768.4,503.9 768.8,502.2 769.2,504.3 769.6,501.0 770.0,504.5 770.4,503.8 770.8,504.6 771.2,503.3 771.6,504.2 771.9,504.2 772.3,503.6 772.7,501.8 773.1,504.5 773.5,504.2 773.9,499.0 774.3,504.8 774.7,501.9 775.1,501.9 775.5,500.0 775.9,504.1 776.3,503.2 776.7,502.9 777.1,504.0 777.5,503.1 777.9,500.0 778.3,504.8 778.7,504.0 779.1,501.4 779.5,504.3 779.9,504.9 780.3,504.0 780.7,501.2 781.0,504.6 781.4,501.2 781.8,504.7 782.2,503.6 782.6,502.9 783.0,498.6 783.4,504.4 783.8,504.1 784.2,504.2 784.6,504.9 785.0,504.9 785.4,504.5 785.8,504.5 786.2,503.5 786.6,503.2 787.0,502.0 787.4,502.7 787.8,504.2 788.2,501.4 788.6,504.6 789.0,503.9 789.4,503.2 789.8,504.4 790.1,500.5 790.5,503.9 790.9,504.6 791.3,501.7 791.7,503.5 792.1,504.4 792.5,503.7 792.9,504.1 793.3,497.0 793.7,504.2 794.1,503.4 794.5,502.2 794.9,501.8 795.3,497.4 795.7,497.7 796.1,495.7 796.5,492.2 796.9,494.6 797.3,495.6 797.7,499.5 798.1,498.1 798.5,501.9 798.8,503.7 799.2,503.0 799.6,504.1 800.0,503.0 800.4,502.3 800.8,501.2 801.2,499.6 801.6,504.1 802.0,504.3 802.4,502.5 802.8,503.2 803.2,503.3 803.6,504.5 804.0,503.0 804.4,504.0 804.8,503.0 805.2,500.9 805.6,503.9 806.0,504.7 806.4,502.4 806.8,504.3 807.2,500.8 807.6,504.6 807.9,504.2 808.3,504.6 808.7,500.9 809.1,502.8 809.5,504.4 809.9,504.2 810.3,504.7 810.7,504.8 811.1,502.2 811.5,504.0 811.9,504.9 812.3,503.8 812.7,501.8 813.1,499.6 813.5,502.0 813.9,504.2 814.3,504.3 814.7,503.4 815.1,501.9 815.5,504.7 815.9,503.8 816.3,504.7 816.7,504.5 817.0,503.2 817.4,499.4 817.8,504.1 818.2,503.8 818.6,504.9 819.0,503.6 819.4,503.7 819.8,500.2 820.2,504.6 820.6,504.6 821.0,502.0 821.4,500.5 821.8,503.8 822.2,504.5 822.6,503.8 823.0,503.2 823.4,503.7 823.8,502.6 824.2,504.4 824.6,504.0 825.0,504.5 825.4,504.7 825.8,504.3 826.1,503.7 826.5,504.4 826.9,504.6 827.3,504.8 827.7,503.7 828.1,504.9 828.5,504.2 828.9,504.2 829.3,504.4 829.7,502.9 830.1,502.8 830.5,504.1 830.9,504.2 831.3,504.7 831.7,503.7 832.1,503.5 832.5,503.9 832.9,501.7 833.3,501.4 833.7,502.5 834.1,504.4 834.5,501.3 834.8,504.4 835.2,503.0 835.6,504.3 836.0,504.4 836.4,503.9 836.8,504.4 837.2,504.5 837.6,501.4 838.0,504.4 838.4,504.2 838.8,504.5 839.2,503.5 839.6,501.7 840.0,503.6 840.4,501.3 840.8,503.5 841.2,503.1 841.6,502.3 842.0,499.2 842.4,500.4 842.8,495.6 843.2,495.5 843.6,485.9 843.9,462.4 844.3,434.0 844.7,434.0 845.1,462.4 845.5,485.9 845.9,497.7 846.3,497.6 846.7,502.2 847.1,502.0 847.5,501.3 847.9,503.7 848.3,503.8 848.7,503.5 849.1,502.9 849.5,503.6 849.9,503.1 850.3,504.2 850.7,504.2 851.1,504.4 851.5,504.5 851.9,502.8 852.3,504.1 852.7,502.8 853.0,502.1 853.4,503.0 853.8,504.8 854.2,504.6 854.6,504.6 855.0,504.7 855.4,503.7 855.8,502.8 856.2,503.3 856.6,502.1 857.0,498.2 857.4,501.7 857.8,504.8 858.2,503.8 858.6,503.1 859.0,503.8 859.4,503.0 859.8,504.2 860.2,504.7 860.6,504.4 861.0,504.7 861.4,504.7 861.8,504.6 862.1,502.5 862.5,503.6 862.9,503.2 863.3,504.6 863.7,500.9 864.1,503.2 864.5,504.2 864.9,503.7 865.3,504.4 865.7,503.8 866.1,504.4 866.5,504.7 866.9,503.3 867.3,504.4 867.7,503.0 868.1,503.4 868.5,504.1 868.9,504.8 869.3,504.7 869.7,503.3 870.1,503.2 870.5,503.4 870.8,501.3 871.2,501.4 871.6,503.6 872.0,504.0 872.4,504.2 872.8,504.3 873.2,504.4 873.6,504.0 874.0,504.8 874.4,503.6 874.8,504.4 875.2,505.0 875.6,504.2 876.0,504.7 876.4,504.7 876.8,504.6 877.2,504.7 877.6,503.4 878.0,504.1 878.4,504.3 878.8,503.1 879.2,504.9 879.6,504.2 879.9,503.3 880.3,504.7 880.7,503.5 881.1,502.4 881.5,504.0 881.9,502.6 882.3,504.8 882.7,502.5 883.1,504.0 883.5,504.5 883.9,504.5 884.3,504.8 884.7,504.7 885.1,504.7 885.5,504.9 885.9,503.3 886.3,504.2 886.7,503.9 887.1,504.6 887.5,503.8 887.9,504.6 888.3,504.9 888.7,501.7 889.0,504.2 889.4,504.7 889.8,504.2 890.2,504.7 890.6,501.0 891.0,501.7 891.4,504.1 891.8,504.8 892.2,504.5 892.6,501.3 893.0,504.6 893.4,504.2 893.8,503.8 894.2,502.0 894.6,502.2 895.0,504.9 895.4,504.8 895.8,504.2 896.2,503.9 896.6,501.6 897.0,503.7 897.4,504.6 897.7,502.8 898.1,502.1 898.5,503.9 898.9,504.1 899.3,503.0 899.7,503.6 900.1,503.6 900.5,500.1 900.9,504.7 901.3,501.0 901.7,502.1 902.1,504.8 902.5,500.8 902.9,504.7 903.3,503.2 903.7,503.6 904.1,504.3 904.5,504.1 904.9,504.9 905.3,504.4 905.7,503.8 906.1,502.6 906.5,503.7 906.8,504.8 907.2,502.1 907.6,503.5 908.0,499.5 908.4,504.5 908.8,500.0 909.2,504.6 909.6,504.8 910.0,504.1 910.4,503.0 910.8,505.0 911.2,505.0 911.6,504.8 912.0,504.7 912.4,502.2 912.8,504.6 913.2,503.9 913.6,501.2 914.0,503.1 914.4,504.0 914.8,504.3 915.2,504.9 915.6,498.3 915.9,504.0 916.3,504.7 916.7,504.1 917.1,501.7 917.5,502.0 917.9,504.6 918.3,503.7 918.7,502.4 919.1,503.8 919.5,499.0 919.9,500.1 920.3,504.1 920.7,503.2 921.1,504.6 921.5,503.1 921.9,504.5 922.3,504.6 922.7,497.5 923.1,500.7 923.5,504.9 923.9,504.5 924.3,504.8 924.7,501.8 925.0,503.3 925.4,504.6 925.8,504.4 926.2,504.3 926.6,503.7 927.0,504.6 927.4,502.7 927.8,504.7 928.2,504.9 928.6,504.5 929.0,504.5 929.4,504.4 929.8,504.8 930.2,504.6 930.6,503.2 931.0,503.2 931.4,497.5 931.8,503.9 932.2,503.4 932.6,505.0 933.0,504.1 933.4,504.1 933.7,504.4 934.1,502.4 934.5,501.2 934.9,503.3 935.3,502.8 935.7,503.9 936.1,504.9 936.5,504.7 936.9,504.1 937.3,501.7 937.7,499.0 938.1,500.7 938.5,502.9 938.9,503.8 939.3,503.6 939.7,505.0 940.1,503.6 940.5,501.0 940.9,504.7 941.3,503.5 941.7,502.8 942.1,501.8 942.5,501.3 942.8,504.8 943.2,497.5 943.6,501.2 944.0,504.7 944.4,503.4 944.8,502.3 945.2,501.1 945.6,502.5 946.0,502.9 946.4,504.3 946.8,503.5 947.2,504.7 947.6,503.6 948.0,503.8 948.4,501.6 948.8,504.0 949.2,503.2 949.6,504.9 950.0,504.3 950.4,503.7 950.8,503.7 951.2,504.2 951.6,503.5 951.9,504.2 952.3,504.5 952.7,503.5 953.1,504.1 953.5,501.5 953.9,504.7 954.3,501.4 954.7,504.7 955.1,502.0 955.5,504.3 955.9,503.1 956.3,504.1 956.7,504.6 957.1,504.6 957.5,503.2 957.9,499.1 958.3,504.9 958.7,504.4 959.1,505.0 959.5,504.7 959.9,503.7 960.3,504.9 960.7,503.4 961.0,505.0 961.4,503.1 961.8,502.4 962.2,504.9 962.6,503.6 963.0,501.2 963.4,504.6 963.8,503.7 964.2,504.1 964.6,501.0 965.0,500.3 965.4,504.4 965.8,504.3 966.2,504.6 966.6,504.6 967.0,504.6 967.4,503.0 967.8,502.8 968.2,501.1 968.6,503.8 969.0,503.9 969.4,504.3 969.7,504.8 970.1,503.5 970.5,500.1 970.9,504.0 971.3,504.6 971.7,504.8 972.1,501.9 972.5,502.9 972.9,503.8 973.3,503.5 973.7,505.0 974.1,503.5 974.5,502.3 974.9,504.5 975.3,504.7 975.7,504.9 976.1,504.3 976.5,504.2 976.9,504.4 977.3,500.9 977.7,504.3 978.1,504.8 978.5,502.8 978.8,504.9 979.2,502.9 979.6,503.2 980.0,504.6 980.4,501.4 980.8,503.9 981.2,504.8 981.6,503.9 982.0,502.8 982.4,504.4 982.8,504.7 983.2,503.9 983.6,504.7 984.0,502.2 984.4,503.8 984.8,504.5 985.2,502.5 985.6,504.7 986.0,502.7 986.4,501.3 986.8,502.5 987.2,502.2 987.6,504.0 987.9,504.1 988.3,503.3 988.7,503.4 989.1,503.2 989.5,503.6 989.9,504.9 990.3,504.4 990.7,500.0 991.1,502.5 991.5,503.9 991.9,500.4 992.3,504.5 992.7,503.7 993.1,504.6 993.5,502.9 993.9,503.9 994.3,499.4 994.7,504.8 995.1,504.7 995.5,502.4 995.9,504.4 996.3,503.6 996.6,504.8 997.0,504.8 997.4,500.4 997.8,504.8 998.2,500.8 998.6,503.8 999.0,503.9 999.4,502.8 999.8,502.0 1000.2,504.1 1000.6,504.4 1001.0,504.6 1001.4,504.0 1001.8,504.9 1002.2,504.1 1002.6,504.8 1003.0,504.9 1003.4,504.7 1003.8,504.4 1004.2,504.3 1004.6,503.5 1005.0,503.3 1005.4,504.0 1005.7,503.2 1006.1,504.7 1006.5,504.4 1006.9,504.2 1007.3,503.3 1007.7,504.2 1008.1,502.1 1008.5,504.9 1008.9,504.7 1009.3,504.2 1009.7,502.5 1010.1,505.0 1010.5,503.4 1010.9,504.5 1011.3,502.6 1011.7,504.9 1012.1,501.0 1012.5,503.0 1012.9,505.0 1013.3,503.9 1013.7,504.6 1014.1,502.1 1014.5,504.0 1014.8,500.2 1015.2,504.7 1015.6,503.3 1016.0,503.3 1016.4,502.2 1016.8,500.2 1017.2,504.9 1017.6,503.9 1018.0,500.5 1018.4,503.6 1018.8,502.2 1019.2,503.9 1019.6,503.3 1020.0,503.5 1020.4,504.6 1020.8,504.6 1021.2,504.1 1021.6,503.7 1022.0,497.5 1022.4,504.5 1022.8,504.8 1023.2,504.1 1023.6,504.4 1023.9,504.0 1024.3,504.4 1024.7,502.7 1025.1,503.2 1025.5,503.5 1025.9,504.9 1026.3,503.6 1026.7,502.7 1027.1,504.1 1027.5,504.2 1027.9,505.0 1028.3,504.2 1028.7,504.9 1029.1,503.3 1029.5,504.6 1029.9,504.2 1030.3,503.6 1030.7,504.7 1031.1,503.3 1031.5,503.3 1031.9,504.6 1032.3,503.8 1032.6,503.7 1033.0,504.2 1033.4,502.7 1033.8,504.5 1034.2,504.3 1034.6,502.7 1035.0,504.8 1035.4,504.5 1035.8,504.6 1036.2,501.5 1036.6,504.1 1037.0,503.2 1037.4,504.7 1037.8,499.1 1038.2,504.6 1038.6,504.4 1039.0,504.8 1039.4,504.4 1039.8,504.2 1040.2,503.4 1040.6,503.4 1041.0,504.5 1041.4,503.8 1041.7,504.0 1042.1,502.6 1042.5,504.3 1042.9,501.3 1043.3,504.9 1043.7,499.2 1044.1,504.3 1044.5,503.1 1044.9,502.5 1045.3,502.8 1045.7,500.5 1046.1,503.8 1046.5,501.2 1046.9,502.2 1047.3,504.6 1047.7,502.8 1048.1,504.4 1048.5,503.0 1048.9,504.3 1049.3,504.1 1049.7,504.4 1050.1,503.1 1050.5,503.5 1050.8,501.4 1051.2,504.5 1051.6,504.4 1052.0,502.3 1052.4,501.4 1052.8,504.4 1053.2,504.7 1053.6,504.7 1054.0,504.6 1054.4,504.5 1054.8,504.2 1055.2,501.6 1055.6,504.4 1056.0,504.0 1056.4,502.4 1056.8,501.0 1057.2,502.3 1057.6,501.6 1058.0,498.7 1058.4,489.5 1058.8,474.9 1059.2,465.5 1059.6,474.9 1059.9,489.5 1060.3,496.7 1060.7,501.8 1061.1,496.0 1061.5,501.3 1061.9,504.2 1062.3,503.6 1062.7,502.6 1063.1,501.1 1063.5,501.4 1063.9,503.1 1064.3,503.1 1064.7,504.1 1065.1,503.5 1065.5,503.8 1065.9,504.2 1066.3,502.6 1066.7,502.3 1067.1,504.1 1067.5,500.1 1067.9,504.8 1068.3,504.3 1068.6,504.5 1069.0,504.5 1069.4,504.7 1069.8,504.3 1070.2,504.4 1070.6,501.8 1071.0,504.2 1071.4,503.3 1071.8,503.7 1072.2,503.6 1072.6,504.7 1073.0,503.3 1073.4,504.0 1073.8,501.5 1074.2,501.0 1074.6,503.4 1075.0,504.2 1075.4,504.3 1075.8,503.6 1076.2,504.6 1076.6,503.0 1077.0,504.5 1077.4,503.1 1077.7,504.7 1078.1,503.6 1078.5,502.9 1078.9,503.6 1079.3,504.9 1079.7,504.7 1080.1,503.7 1080.5,502.3 1080.9,504.4 1081.3,499.5 1081.7,498.8 1082.1,505.0 1082.5,504.7 1082.9,504.9 1083.3,497.5 1083.7,504.3 1084.1,502.8 1084.5,503.9 1084.9,504.7 1085.3,504.0 1085.7,503.3 1086.1,501.8 1086.5,503.8 1086.8,504.3 1087.2,502.0 1087.6,500.6 1088.0,504.3 1088.4,503.9 1088.8,504.2 1089.2,504.7 1089.6,503.1 1090.0,501.6 1090.4,504.3 1090.8,504.8 1091.2,503.6 1091.6,504.3 1092.0,504.1 1092.4,504.8 1092.8,504.7 1093.2,503.6 1093.6,503.5 1094.0,504.5 1094.4,504.6 1094.8,503.6 1095.2,503.5 1095.5,504.5 1095.9,501.3 1096.3,504.5 1096.7,503.4 1097.1,503.6 1097.5,504.8 1097.9,504.0 1098.3,504.2 1098.7,504.5 1099.1,504.9 1099.5,504.9 1099.9,504.9 1100.3,503.9 1100.7,504.3 1101.1,504.7 1101.5,504.2 1101.9,504.2 1102.3,503.9 1102.7,503.2 1103.1,503.7 1103.5,504.5 1103.9,503.9 1104.3,504.2 1104.6,504.0 1105.0,502.6 1105.4,501.6 1105.8,503.4 1106.2,504.8 1106.6,503.5 1107.0,498.6 1107.4,504.6 1107.8,503.3 1108.2,502.9 1108.6,504.2 1109.0,504.8 1109.4,503.8 1109.8,504.1 1110.2,503.6 1110.6,504.3 1111.0,503.5 1111.4,502.9 1111.8,502.4 1112.2,504.9 1112.6,502.2 1113.0,503.0 1113.4,500.1 1113.7,504.2 1114.1,502.9 1114.5,504.3 1114.9,504.8 1115.3,504.1 1115.7,503.6 1116.1,498.6 1116.5,504.2 1116.9,500.8 1117.3,503.7 1117.7,504.2 1118.1,504.5 1118.5,504.7 1118.9,500.9 1119.3,504.8 1119.7,504.7 1120.1,504.4 1120.5,504.7 1120.9,504.5 1121.3,504.6 1121.7,502.4 1122.1,504.2 1122.5,503.4 1122.8,504.6 1123.2,502.3 1123.6,504.6 1124.0,501.2 1124.4,500.7 1124.8,504.5 1125.2,503.2 1125.6,503.3 1126.0,504.0 1126.4,504.0 1126.8,503.2 1127.2,503.9 1127.6,503.8 1128.0,502.0 1128.4,503.3 1128.8,502.6 1129.2,501.9 1129.6,499.4 1130.0,493.7 1130.4,498.7 1130.8,492.8 1131.2,480.3 1131.5,445.3 1131.9,384.9 1132.3,345.7 1132.7,384.9 1133.1,445.3 1133.5,480.3 1133.9,493.9 1134.3,493.4 1134.7,500.2 1135.1,498.1 1135.5,500.4 1135.9,501.8 1136.3,502.2 1136.7,500.7 1137.1,503.8 1137.5,503.1 1137.9,503.1 1138.3,503.5 1138.7,501.6 1139.1,503.8 1139.5,504.1 1139.9,503.2 1140.3,502.7 1140.6,501.5 1141.0,502.6 1141.4,503.1 1141.8,503.9 1142.2,500.9 1142.6,504.0 1143.0,504.7 1143.4,504.1 1143.8,500.1 1144.2,502.3 1144.6,503.9 1145.0,503.7 1145.4,501.3 1145.8,504.2 1146.2,502.8 1146.6,504.8 1147.0,503.1 1147.4,503.5 1147.8,504.2 1148.2,504.6 1148.6,504.3 1149.0,503.1 1149.4,502.3 1149.7,501.1 1150.1,504.8 1150.5,503.9 1150.9,504.7 1151.3,503.1 1151.7,503.5 1152.1,503.1 1152.5,503.6 1152.9,501.4 1153.3,504.3 1153.7,504.6 1154.1,504.1 1154.5,504.3 1154.9,504.6 1155.3,503.2 1155.7,504.0 1156.1,503.4 1156.5,504.2 1156.9,504.3 1157.3,503.9 1157.7,502.8 1158.1,504.2 1158.5,504.5 1158.8,502.6 1159.2,504.8 1159.6,504.6 1160.0,500.9 1160.4,500.4 1160.8,503.2 1161.2,504.4 1161.6,504.1 1162.0,504.3 1162.4,499.4 1162.8,503.6 1163.2,504.5 1163.6,504.5 1164.0,504.7 1164.4,504.6 1164.8,501.9 1165.2,504.9 1165.6,501.9 1166.0,503.5 1166.4,503.1 1166.8,503.3 1167.2,504.9 1167.5,503.3 1167.9,504.6 1168.3,504.3 1168.7,504.0 1169.1,504.5 1169.5,504.4 1169.9,501.2 1170.3,502.9 1170.7,503.7 1171.1,503.5 1171.5,503.1 1171.9,503.9 1172.3,504.3 1172.7,504.8 1173.1,504.4 1173.5,504.6 1173.9,501.2 1174.3,502.9 1174.7,503.5 1175.1,504.4 1175.5,504.5 1175.9,505.0 1176.3,502.9 1176.6,502.2 1177.0,504.3 1177.4,503.6 1177.8,503.5 1178.2,505.0 1178.6,504.8 1179.0,503.6 1179.4,504.0 1179.8,502.7 1180.2,504.3 1180.6,501.3 1181.0,503.7 1181.4,504.3 1181.8,503.9 1182.2,503.5 1182.6,503.2 1183.0,504.2 1183.4,503.4 1183.8,502.8 1184.2,503.9 1184.6,504.8 1185.0,503.4 1185.4,501.2 1185.7,504.4 1186.1,502.1 1186.5,504.5 1186.9,504.6 1187.3,502.9 1187.7,504.6 1188.1,500.6 1188.5,503.2 1188.9,503.3 1189.3,503.7 1189.7,504.8 1190.1,503.1 1190.5,504.3 1190.9,503.8 1191.3,503.9 1191.7,500.7 1192.1,502.8 1192.5,504.9 1192.9,504.4 1193.3,504.1 1193.7,503.8 1194.1,504.4 1194.4,504.3 1194.8,504.9 1195.2,502.4 1195.6,504.8 1196.0,503.8 1196.4,504.4 1196.8,501.7 1197.2,502.1 1197.6,503.3 1198.0,503.6 1198.4,498.8 1198.8,503.9 1199.2,504.8 1199.6,503.4 1200.0,504.5 1200.4,504.3 1200.8,503.8 1201.2,497.5 1201.6,502.9 1202.0,502.5 1202.4,501.2 1202.8,504.3 1203.2,500.5 1203.5,504.6 1203.9,503.1 1204.3,503.0 1204.7,505.0 1205.1,504.2 1205.5,502.1 1205.9,504.4 1206.3,503.6 1206.7,502.2 1207.1,501.4 1207.5,503.9 1207.9,504.4 1208.3,503.5 1208.7,502.3 1209.1,504.5 1209.5,504.4 1209.9,504.5 1210.3,503.2 1210.7,502.6 1211.1,503.6 1211.5,499.6 1211.9,504.6 1212.3,504.3 1212.6,503.7 1213.0,497.5 1213.4,504.8 1213.8,504.5 1214.2,504.6 1214.6,504.0 1215.0,503.7 1215.4,504.8 1215.8,503.0 1216.2,503.3 1216.6,504.5 1217.0,504.7 1217.4,504.8 1217.8,500.2 1218.2,503.7 1218.6,502.5 1219.0,503.8 1219.4,504.6 1219.8,502.9 1220.2,504.8 1220.6,504.2 1221.0,504.2 1221.4,503.5 1221.7,504.8 1222.1,500.6 1222.5,503.4 1222.9,504.0 1223.3,501.2 1223.7,503.8 1224.1,503.3 1224.5,502.9 1224.9,503.9 1225.3,504.4 1225.7,504.1 1226.1,503.6 1226.5,504.5 1226.9,500.6 1227.3,504.4 1227.7,503.3 1228.1,503.9 1228.5,503.0 1228.9,504.2 1229.3,501.2 1229.7,499.2 1230.1,502.6 1230.4,504.1 1230.8,504.8 1231.2,504.1 1231.6,504.5 1232.0,504.8 1232.4,499.9 1232.8,504.0 1233.2,504.6 1233.6,502.9 1234.0,503.7 1234.4,500.3 1234.8,504.8 1235.2,504.8 1235.6,501.5 1236.0,503.0 1236.4,504.0 1236.8,503.8 1237.2,502.3 1237.6,503.9 1238.0,504.3 1238.4,504.0 1238.8,504.2 1239.2,499.3 1239.5,503.7 1239.9,504.2 1240.3,504.3 1240.7,503.9 1241.1,501.6 1241.5,504.3 1241.9,504.3 1242.3,503.3 1242.7,504.1 1243.1,502.4 1243.5,502.1 1243.9,502.6 1244.3,500.0 1244.7,501.7 1245.1,501.3 1245.5,501.6 1245.9,501.0 1246.3,499.9 1246.7,496.9 1247.1,495.7 1247.5,486.5 1247.9,461.4 1248.3,405.3 1248.6,337.5 1249.0,337.5 1249.4,405.3 1249.8,461.4 1250.2,486.5 1250.6,495.8 1251.0,496.6 1251.4,499.8 1251.8,500.6 1252.2,498.7 1252.6,501.9 1253.0,502.0 1253.4,500.9 1253.8,503.6 1254.2,500.8 1254.6,502.2 1255.0,502.9 1255.4,500.7 1255.8,504.2 1256.2,503.2 1256.6,503.5 1257.0,503.2 1257.4,500.8 1257.7,501.8 1258.1,502.9 1258.5,503.6 1258.9,504.2 1259.3,504.6 1259.7,504.2 1260.1,503.6 1260.5,502.8 1260.9,503.7 1261.3,502.7 1261.7,501.6 1262.1,503.7 1262.5,497.4 1262.9,503.2 1263.3,504.6 1263.7,504.4 1264.1,504.7 1264.5,502.8 1264.9,501.9 1265.3,503.6 1265.7,504.7 1266.1,501.2 1266.4,504.5 1266.8,504.9 1267.2,504.7 1267.6,501.5 1268.0,502.9 1268.4,503.5 1268.8,503.0 1269.2,504.0 1269.6,502.8 1270.0,502.5 1270.4,503.0 1270.8,502.0 1271.2,504.7 1271.6,503.8 1272.0,504.4 1272.4,501.0 1272.8,502.2 1273.2,504.3 1273.6,498.7 1274.0,504.6 1274.4,502.7 1274.8,504.6 1275.2,504.2 1275.5,504.7 1275.9,502.7 1276.3,504.8 1276.7,504.7 1277.1,502.5 1277.5,504.8 1277.9,504.8 1278.3,503.8 1278.7,504.5 1279.1,499.8 1279.5,502.8 1279.9,504.6 1280.3,504.8 1280.7,503.5 1281.1,500.6 1281.5,504.1 1281.9,503.0 1282.3,504.2 1282.7,501.5 1283.1,504.6 1283.5,504.0 1283.9,504.6 1284.3,504.7 1284.6,504.9 1285.0,504.7 1285.4,504.4 1285.8,503.9 1286.2,504.8 1286.6,503.4 1287.0,504.7 1287.4,504.2 1287.8,504.6 1288.2,504.9 1288.6,504.5 1289.0,500.9 1289.4,503.7 1289.8,504.6 1290.2,504.9 1290.6,501.6 1291.0,504.0 1291.4,503.5 1291.8,504.4 1292.2,502.7 1292.6,504.0 1293.0,502.2 1293.3,504.4 1293.7,499.0 1294.1,504.8 1294.5,504.4 1294.9,504.7 1295.3,503.9 1295.7,503.8 1296.1,500.6 1296.5,504.6 1296.9,504.7 1297.3,504.7 1297.7,502.8 1298.1,503.2 1298.5,503.0 1298.9,503.6 1299.3,504.1 1299.7,501.7 1300.1,502.0 1300.5,503.1 1300.9,503.7 1301.3,502.7 1301.7,504.4 1302.1,503.2 1302.4,502.3 1302.8,504.7 1303.2,503.9 1303.6,504.4 1304.0,503.6 1304.4,505.0 1304.8,503.4 1305.2,504.1 1305.6,504.8 1306.0,504.7 1306.4,504.4 1306.8,504.4 1307.2,504.9 1307.6,504.5 1308.0,504.5 1308.4,504.0 1308.8,502.5 1309.2,504.3 1309.6,498.7 1310.0,504.1 1310.4,503.3 1310.8,503.4 1311.2,503.0 1311.5,504.6 1311.9,502.6 1312.3,504.4 1312.7,502.7 1313.1,500.1 1313.5,504.5 1313.9,504.0 1314.3,502.2 1314.7,503.5 1315.1,503.8 1315.5,503.6 1315.9,502.3 1316.3,503.5 1316.7,502.3 1317.1,504.6 1317.5,504.7 1317.9,504.9 1318.3,504.9 1318.7,502.1 1319.1,503.8 1319.5,503.7 1319.9,504.9 1320.3,504.5 1320.6,505.0 1321.0,504.2 1321.4,503.6 1321.8,503.6 1322.2,503.8 1322.6,504.8 1323.0,504.7 1323.4,501.6 1323.8,499.4 1324.2,505.0 1324.6,503.3 1325.0,502.4 1325.4,504.3 1325.8,504.5 1326.2,500.4 1326.6,503.7 1327.0,504.0 1327.4,503.8 1327.8,498.0 1328.2,504.5 1328.6,504.9 1329.0,503.7 1329.3,503.4 1329.7,501.6 1330.1,503.8 1330.5,503.2 1330.9,503.9 1331.3,502.7 1331.7,505.0 1332.1,500.0 1332.5,504.3 1332.9,504.9 1333.3,500.8 1333.7,500.1 1334.1,501.9 1334.5,499.9 1334.9,501.0 1335.3,504.0 1335.7,503.8 1336.1,497.5 1336.5,504.2 1336.9,504.3 1337.3,504.0 1337.7,504.9 1338.1,501.2 1338.4,502.5 1338.8,503.5 1339.2,504.9 1339.6,503.8 1340.0,502.1 1340.4,504.7 1340.8,501.3 1341.2,504.0 1341.6,503.0 1342.0,502.9 1342.4,503.8 1342.8,503.1 1343.2,504.8 1343.6,505.0 1344.0,504.5 1344.4,505.0 1344.8,503.2 1345.2,504.8 1345.6,503.5 1346.0,504.2 1346.4,504.6 1346.8,503.1 1347.2,500.6 1347.5,502.9 1347.9,503.0 1348.3,503.5 1348.7,504.6 1349.1,504.1 1349.5,501.5 1349.9,504.7 1350.3,503.0 1350.7,504.6 1351.1,503.3 1351.5,501.9 1351.9,504.9 1352.3,504.6 1352.7,504.8 1353.1,504.5 1353.5,503.9 1353.9,503.2 1354.3,504.7 1354.7,504.0 1355.1,504.1 1355.5,502.8 1355.9,500.7 1356.3,504.7 1356.6,504.7 1357.0,504.9 1357.4,504.7 1357.8,502.2 1358.2,505.0 1358.6,504.9 1359.0,504.8 1359.4,502.6 1359.8,501.8 1360.2,504.5 1360.6,501.6 1361.0,501.5 1361.4,500.1 1361.8,498.9 1362.2,504.3 1362.6,503.2 1363.0,504.8 1363.4,504.3 1363.8,501.4 1364.2,503.0 1364.6,504.7 1365.0,501.7 1365.3,502.2 1365.7,501.8 1366.1,502.8 1366.5,504.9 1366.9,503.3 1367.3,503.9 1367.7,502.6 1368.1,502.3 1368.5,504.3 1368.9,499.5 1369.3,504.9 1369.7,504.1 1370.1,502.8 1370.5,504.2 1370.9,503.7 1371.3,503.0 1371.7,503.3 1372.1,497.5 1372.5,504.0 1372.9,504.8 1373.3,504.0 1373.7,502.8 1374.1,504.2 1374.4,501.7 1374.8,505.0 1375.2,503.5 1375.6,502.6 1376.0,499.1 1376.4,505.0 1376.8,502.8 1377.2,504.7 1377.6,504.3 1378.0,503.6 1378.4,501.9 1378.8,504.8 1379.2,504.0 1379.6,504.2 1380.0,502.0 1380.4,504.8 1380.8,504.4 1381.2,502.8 1381.6,502.3 1382.0,504.6 1382.4,504.7 1382.8,501.2 1383.2,501.3 1383.5,504.6 1383.9,504.1 1384.3,501.0 1384.7,500.9 1385.1,504.4 1385.5,504.6 1385.9,504.3 1386.3,504.8 1386.7,504.3 1387.1,504.9 1387.5,504.8 1387.9,504.9 1388.3,504.9 1388.7,503.6 1389.1,502.4 1389.5,500.1 1389.9,502.3 1390.3,503.5 1390.7,504.8 1391.1,502.0 1391.5,504.1 1391.9,504.2 1392.2,503.4 1392.6,503.7 1393.0,504.9 1393.4,504.4 1393.8,503.7 1394.2,504.8 1394.6,504.9 1395.0,501.6 1395.4,503.3 1395.8,503.3 1396.2,504.4 1396.6,503.2 1397.0,503.2 1397.4,501.6 1397.8,501.4 1398.2,504.2 1398.6,502.5 1399.0,503.1 1399.4,502.4 1399.8,505.0 1400.2,505.0 1400.6,498.9 1401.0,504.7 1401.3,504.6 1401.7,504.6 1402.1,504.8 1402.5,504.2 1402.9,502.5 1403.3,502.2 1403.7,504.9 1404.1,502.8 1404.5,504.3 1404.9,504.0 1405.3,502.7 1405.7,504.4 1406.1,504.0 1406.5,504.7 1406.9,498.5 1407.3,504.9 1407.7,504.7 1408.1,504.6 1408.5,502.6 1408.9,504.9 1409.3,505.0 1409.7,504.3 1410.1,503.1 1410.4,502.1 1410.8,503.4 1411.2,504.3 1411.6,504.6 1412.0,502.6 1412.4,498.9 1412.8,503.9 1413.2,501.3 1413.6,504.0 1414.0,504.5 1414.4,502.8 1414.8,503.5 1415.2,504.5 1415.6,504.5 1416.0,503.3 1416.4,504.4 1416.8,503.9 1417.2,504.0 1417.6,505.0 1418.0,500.9 1418.4,503.9 1418.8,503.0 1419.2,504.4 1419.5,500.5 1419.9,503.1 1420.3,501.8 1420.7,502.5 1421.1,504.4 1421.5,504.6 1421.9,504.6 1422.3,505.0 1422.7,504.6 1423.1,500.2 1423.5,504.7 1423.9,502.8 1424.3,502.7 1424.7,503.9 1425.1,504.9 1425.5,501.6 1425.9,499.4 1426.3,504.7 1426.7,498.9 1427.1,502.3 1427.5,502.8 1427.9,504.6 1428.2,504.6 1428.6,501.1 1429.0,501.4 1429.4,504.5 1429.8,505.0 1430.2,504.0 1430.6,505.0 1431.0,502.2 1431.4,503.0 1431.8,503.4 1432.2,501.8 1432.6,502.9 1433.0,503.5 1433.4,503.1 1433.8,504.6 1434.2,501.5 1434.6,504.9 1435.0,504.8 1435.4,504.7 1435.8,500.2 1436.2,503.6 1436.6,504.8 1437.0,505.0 1437.3,497.5 1437.7,504.5 1438.1,504.1 1438.5,505.0 1438.9,504.0 1439.3,503.5 1439.7,502.8 1440.1,504.7 1440.5,505.0 1440.9,504.8 1441.3,503.0 1441.7,503.4 1442.1,504.7 1442.5,501.5 1442.9,504.4 1443.3,502.4 1443.7,497.9 1444.1,504.6 1444.5,502.5 1444.9,504.6 1445.3,502.3 1445.7,504.7 1446.1,504.3 1446.4,504.1 1446.8,504.0 1447.2,504.9 1447.6,503.4 1448.0,503.0 1448.4,503.0 1448.8,503.1 1449.2,503.7 1449.6,504.7 1450.0,504.0 1450.4,504.0 1450.8,502.4 1451.2,504.9 1451.6,502.6 1452.0,503.1 1452.4,502.7 1452.8,504.8 1453.2,503.6 1453.6,503.8 1454.0,504.8 1454.4,504.1 1454.8,502.6 1455.2,504.8 1455.5,504.6 1455.9,502.6 1456.3,504.6 1456.7,502.5 1457.1,503.1 1457.5,504.9 1457.9,502.5 1458.3,504.7 1458.7,504.7 1459.1,503.5 1459.5,503.8 1459.9,503.8 1460.3,502.4 1460.7,504.4 1461.1,502.9 1461.5,503.1 1461.9,501.3 1462.3,504.9 1462.7,504.3 1463.1,504.2 1463.5,501.9 1463.9,504.9 1464.2,501.7 1464.6,504.2 1465.0,504.9 1465.4,502.7 1465.8,505.0 1466.2,502.8 1466.6,503.2 1467.0,504.5 1467.4,503.0 1467.8,504.7 1468.2,501.1 1468.6,503.4 1469.0,502.7 1469.4,504.9 1469.8,504.1 1470.2,504.6 1470.6,504.8 1471.0,502.0 1471.4,502.9 1471.8,504.9 1472.2,504.8 1472.6,504.5 1473.0,502.4 1473.3,504.8 1473.7,497.5 1474.1,504.3 1474.5,504.2 1474.9,502.4 1475.3,504.6 1475.7,499.7 1476.1,499.2 1476.5,500.9 1476.9,503.1 1477.3,502.6 1477.7,503.6 1478.1,504.6 1478.5,504.9 1478.9,502.5 1479.3,500.8 1479.7,504.1 1480.1,504.7 1480.5,502.0 1480.9,504.5 1481.3,504.1 1481.7,503.3 1482.1,503.5 1482.4,502.6 1482.8,501.5 1483.2,503.7 1483.6,504.1 1484.0,504.3 1484.4,503.7 1484.8,504.0 1485.2,504.1 1485.6,503.7 1486.0,503.6 1486.4,502.6 1486.8,499.6 1487.2,489.5 1487.6,480.0 1488.0,472.3 1488.4,480.0 1488.8,492.1 1489.2,499.3 1489.6,499.6 1490.0,503.2 1490.4,501.3 1490.8,504.1 1491.1,500.8 1491.5,504.1 1491.9,503.9 1492.3,504.3 1492.7,504.3 1493.1,504.5 1493.5,504.6 1493.9,503.8 1494.3,498.1 1494.7,504.0 1495.1,504.2 1495.5,503.8 1495.9,504.7 1496.3,503.1 1496.7,501.3 1497.1,501.9 1497.5,503.9 1497.9,503.8 1498.3,502.1 1498.7,504.5 1499.1,503.3 1499.5,503.0 1499.9,500.2 1500.2,504.5 1500.6,504.9 1501.0,504.6 1501.4,503.9 1501.8,504.9 1502.2,504.8 1502.6,504.1 1503.0,504.2 1503.4,504.2 1503.8,503.2 1504.2,504.4 1504.6,500.9 1505.0,503.1 1505.4,503.6 1505.8,503.6 1506.2,504.3 1506.6,502.7 1507.0,502.6 1507.4,502.6 1507.8,503.5 1508.2,500.1 1508.6,497.9 1509.0,493.0 1509.3,493.0 1509.7,497.7 1510.1,501.2 1510.5,503.4 1510.9,501.4 1511.3,502.0 1511.7,501.8 1512.1,504.0 1512.5,501.4 1512.9,503.5 1513.3,503.7 1513.7,504.2 1514.1,502.4 1514.5,503.9 1514.9,504.7 1515.3,502.7 1515.7,501.9 1516.1,503.5 1516.5,503.2 1516.9,504.1 1517.3,504.4 1517.7,504.5 1518.1,503.0 1518.4,503.9 1518.8,503.0 1519.2,500.7 1519.6,502.8 1520.0,504.0 1520.4,503.0 1520.8,504.4 1521.2,501.4 1521.6,504.1 1522.0,499.8 1522.4,499.6 1522.8,504.9 1523.2,503.1 1523.6,504.7 1524.0,499.3 1524.4,503.1 1524.8,502.7 1525.2,504.7 1525.6,502.0 1526.0,502.5 1526.4,503.4 1526.8,504.5 1527.1,504.9 1527.5,504.9 1527.9,504.3 1528.3,503.0 1528.7,504.7 1529.1,504.7 1529.5,504.8 1529.9,503.8 1530.3,503.1 1530.7,503.0 1531.1,503.3 1531.5,504.6 1531.9,504.3 1532.3,504.7 1532.7,500.5 1533.1,503.4 1533.5,504.4 1533.9,500.2 1534.3,504.2 1534.7,503.9 1535.1,501.3 1535.5,503.1 1535.9,504.5 1536.2,504.9 1536.6,504.5 1537.0,503.1 1537.4,504.2 1537.8,504.2 1538.2,504.6 1538.6,502.6 1539.0,503.7 1539.4,504.6 1539.8,499.7 1540.2,504.1 1540.6,503.2 1541.0,504.3" fill="none" stroke="#00f" stroke-width="6" stroke-linejoin="round" stroke-linecap="butt" shape-rendering="crispEdges"/>
</g>
<g font-family="'Liberation Serif', serif" font-weight="bold" font-size="48.5" text-anchor="middle" fill="#000">
<text x="156.8" y="1132.7">10</text>
<text x="353.8" y="1132.7">20</text>
<text x="551.6" y="1132.7">30</text>
<text x="749.4" y="1132.7">40</text>
<text x="947.2" y="1132.7">50</text>
<text x="1145.0" y="1132.7">60</text>
<text x="1342.8" y="1132.7">70</text>
<text x="1540.6" y="1132.7">80</text>
</g>
<text x="718.6" y="1220.8" font-family="'Liberation Serif', serif" font-weight="bold" font-size="58" fill="#000">2 Theta <tspan x="920.9" font-weight="normal" font-size="55.5" stroke="#000" stroke-width="1.2">(</tspan><tspan x="939.7" y="1192.7" font-size="35">o</tspan><tspan x="957.9" y="1220.8" font-weight="normal" font-size="55.5" stroke="#000" stroke-width="1.2">)</tspan></text>
<text transform="translate(80.5,769.8) rotate(-90)" x="0" y="0" font-family="'Liberation Serif', serif" font-weight="bold" font-size="57.5" fill="#000">Intensity <tspan x="232.3" font-weight="normal" font-size="55.5" stroke="#000" stroke-width="1.2">(</tspan><tspan x="250.75">a.u.</tspan><tspan x="340" font-weight="normal" font-size="55.5" stroke="#000" stroke-width="1.2">)</tspan></text>
<g font-family="'Liberation Serif', serif" font-size="48.2" fill="#000">
<text transform="translate(289.7,949.2) scale(1,1.03)">(111)</text>
<text transform="translate(516.6,945.8) scale(1,1.03)">(220)</text>
<text transform="translate(692.6,906.1) scale(1,1.03)">(311)</text>
<text transform="translate(715.5,986.0) scale(1,1.03)">(222)</text>
<text transform="translate(833.8,973.8) scale(1,1.03)">(400)</text>
<text transform="translate(983.8,991.0) scale(1,1.03)">(422)</text>
<text transform="translate(1089.7,944.9) scale(1,1.03)">(511)</text>
<text transform="translate(1189.9,932.6) scale(1,1.03)">(440)</text>
<text transform="translate(1403.5,991.9) scale(1,1.03)">(533)</text>
</g>
<text font-family="'Liberation Serif', serif" fill="#000" font-size="54.4" x="1261.7" y="260.4">Co<tspan x="1322.9" y="277.7" font-size="31">3</tspan><tspan x="1339.4" y="260.4">O</tspan><tspan x="1378.1" y="277.7" font-size="31">4</tspan><tspan x="1393.6" y="260.4">-</tspan><tspan x="1410.8" y="260.4" font-size="53">com</tspan></text>
<text font-family="'Liberation Serif', serif" fill="#000" font-size="54.4" x="1292.6" y="610.7">Co<tspan x="1353.8" y="628.0" font-size="31">3</tspan><tspan x="1370.3" y="610.7">O</tspan><tspan x="1409.0" y="628.0" font-size="31">4</tspan><tspan x="1424.5" y="610.7">-</tspan><tspan x="1442.6" y="610.7" font-size="53">s</tspan></text>
<text font-family="'Liberation Serif', serif" fill="#000" font-size="54.4" x="1302.2" y="887.4">Co<tspan x="1363.4" y="904.7" font-size="31">3</tspan><tspan x="1379.9" y="887.4">O</tspan><tspan x="1418.6" y="904.7" font-size="31">4</tspan><tspan x="1434.1" y="887.4">-</tspan><tspan x="1450.5" y="887.4" font-size="53">c</tspan></text>
</svg>
</body></html>
